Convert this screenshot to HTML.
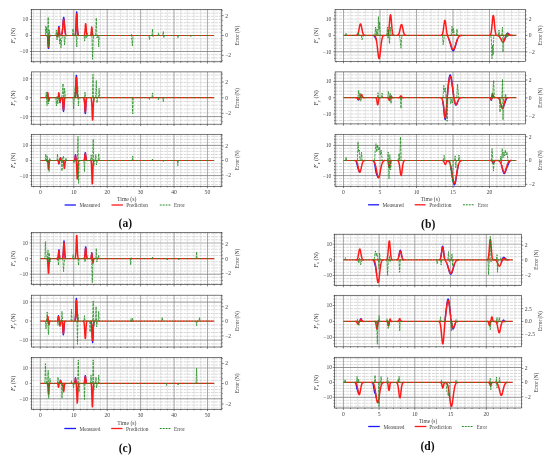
<!DOCTYPE html>
<html><head><meta charset="utf-8"><title>Force prediction figure</title>
<style>html,body{margin:0;padding:0;background:#fff;}svg{display:block;filter:blur(0.3px);}text{font-family:'Liberation Serif', serif;fill:#3f3f3f;}.sans{font-family:'Liberation Serif', serif;}</style></head><body>
<svg width="550" height="458" viewBox="0 0 550 458">
<rect width="550" height="458" fill="#fff"/>
<g>
<line x1="33.7" y1="9.4" x2="33.7" y2="61.8" stroke="#c4c4c4" stroke-width="0.5" stroke-dasharray="3,0.6"/>
<line x1="47.1" y1="9.4" x2="47.1" y2="61.8" stroke="#c4c4c4" stroke-width="0.5" stroke-dasharray="3,0.6"/>
<line x1="53.8" y1="9.4" x2="53.8" y2="61.8" stroke="#c4c4c4" stroke-width="0.5" stroke-dasharray="3,0.6"/>
<line x1="60.4" y1="9.4" x2="60.4" y2="61.8" stroke="#c4c4c4" stroke-width="0.5" stroke-dasharray="3,0.6"/>
<line x1="67.1" y1="9.4" x2="67.1" y2="61.8" stroke="#c4c4c4" stroke-width="0.5" stroke-dasharray="3,0.6"/>
<line x1="80.5" y1="9.4" x2="80.5" y2="61.8" stroke="#c4c4c4" stroke-width="0.5" stroke-dasharray="3,0.6"/>
<line x1="87.2" y1="9.4" x2="87.2" y2="61.8" stroke="#c4c4c4" stroke-width="0.5" stroke-dasharray="3,0.6"/>
<line x1="93.8" y1="9.4" x2="93.8" y2="61.8" stroke="#c4c4c4" stroke-width="0.5" stroke-dasharray="3,0.6"/>
<line x1="100.5" y1="9.4" x2="100.5" y2="61.8" stroke="#c4c4c4" stroke-width="0.5" stroke-dasharray="3,0.6"/>
<line x1="113.9" y1="9.4" x2="113.9" y2="61.8" stroke="#c4c4c4" stroke-width="0.5" stroke-dasharray="3,0.6"/>
<line x1="120.6" y1="9.4" x2="120.6" y2="61.8" stroke="#c4c4c4" stroke-width="0.5" stroke-dasharray="3,0.6"/>
<line x1="127.2" y1="9.4" x2="127.2" y2="61.8" stroke="#c4c4c4" stroke-width="0.5" stroke-dasharray="3,0.6"/>
<line x1="133.9" y1="9.4" x2="133.9" y2="61.8" stroke="#c4c4c4" stroke-width="0.5" stroke-dasharray="3,0.6"/>
<line x1="147.3" y1="9.4" x2="147.3" y2="61.8" stroke="#c4c4c4" stroke-width="0.5" stroke-dasharray="3,0.6"/>
<line x1="154" y1="9.4" x2="154" y2="61.8" stroke="#c4c4c4" stroke-width="0.5" stroke-dasharray="3,0.6"/>
<line x1="160.6" y1="9.4" x2="160.6" y2="61.8" stroke="#c4c4c4" stroke-width="0.5" stroke-dasharray="3,0.6"/>
<line x1="167.3" y1="9.4" x2="167.3" y2="61.8" stroke="#c4c4c4" stroke-width="0.5" stroke-dasharray="3,0.6"/>
<line x1="180.7" y1="9.4" x2="180.7" y2="61.8" stroke="#c4c4c4" stroke-width="0.5" stroke-dasharray="3,0.6"/>
<line x1="187.4" y1="9.4" x2="187.4" y2="61.8" stroke="#c4c4c4" stroke-width="0.5" stroke-dasharray="3,0.6"/>
<line x1="194" y1="9.4" x2="194" y2="61.8" stroke="#c4c4c4" stroke-width="0.5" stroke-dasharray="3,0.6"/>
<line x1="200.7" y1="9.4" x2="200.7" y2="61.8" stroke="#c4c4c4" stroke-width="0.5" stroke-dasharray="3,0.6"/>
<line x1="214.1" y1="9.4" x2="214.1" y2="61.8" stroke="#c4c4c4" stroke-width="0.5" stroke-dasharray="3,0.6"/>
<line x1="220.8" y1="9.4" x2="220.8" y2="61.8" stroke="#c4c4c4" stroke-width="0.5" stroke-dasharray="3,0.6"/>
<line x1="31.6" y1="61.1" x2="221.8" y2="61.1" stroke="#b4b4b4" stroke-width="0.5" stroke-dasharray="3,0.9"/>
<line x1="31.6" y1="57.9" x2="221.8" y2="57.9" stroke="#b4b4b4" stroke-width="0.5" stroke-dasharray="3,0.9"/>
<line x1="31.6" y1="54.7" x2="221.8" y2="54.7" stroke="#b4b4b4" stroke-width="0.5" stroke-dasharray="3,0.9"/>
<line x1="31.6" y1="48.3" x2="221.8" y2="48.3" stroke="#b4b4b4" stroke-width="0.5" stroke-dasharray="3,0.9"/>
<line x1="31.6" y1="45.1" x2="221.8" y2="45.1" stroke="#b4b4b4" stroke-width="0.5" stroke-dasharray="3,0.9"/>
<line x1="31.6" y1="41.9" x2="221.8" y2="41.9" stroke="#b4b4b4" stroke-width="0.5" stroke-dasharray="3,0.9"/>
<line x1="31.6" y1="38.7" x2="221.8" y2="38.7" stroke="#b4b4b4" stroke-width="0.5" stroke-dasharray="3,0.9"/>
<line x1="31.6" y1="32.3" x2="221.8" y2="32.3" stroke="#b4b4b4" stroke-width="0.5" stroke-dasharray="3,0.9"/>
<line x1="31.6" y1="29.1" x2="221.8" y2="29.1" stroke="#b4b4b4" stroke-width="0.5" stroke-dasharray="3,0.9"/>
<line x1="31.6" y1="25.9" x2="221.8" y2="25.9" stroke="#b4b4b4" stroke-width="0.5" stroke-dasharray="3,0.9"/>
<line x1="31.6" y1="22.7" x2="221.8" y2="22.7" stroke="#b4b4b4" stroke-width="0.5" stroke-dasharray="3,0.9"/>
<line x1="31.6" y1="16.3" x2="221.8" y2="16.3" stroke="#b4b4b4" stroke-width="0.5" stroke-dasharray="3,0.9"/>
<line x1="31.6" y1="13.1" x2="221.8" y2="13.1" stroke="#b4b4b4" stroke-width="0.5" stroke-dasharray="3,0.9"/>
<line x1="31.6" y1="9.9" x2="221.8" y2="9.9" stroke="#b4b4b4" stroke-width="0.5" stroke-dasharray="3,0.9"/>
<line x1="40.4" y1="9.4" x2="40.4" y2="61.8" stroke="#858585" stroke-width="0.7"/>
<line x1="73.8" y1="9.4" x2="73.8" y2="61.8" stroke="#858585" stroke-width="0.7"/>
<line x1="107.2" y1="9.4" x2="107.2" y2="61.8" stroke="#858585" stroke-width="0.7"/>
<line x1="140.6" y1="9.4" x2="140.6" y2="61.8" stroke="#858585" stroke-width="0.7"/>
<line x1="174" y1="9.4" x2="174" y2="61.8" stroke="#858585" stroke-width="0.7"/>
<line x1="207.4" y1="9.4" x2="207.4" y2="61.8" stroke="#858585" stroke-width="0.7"/>
<line x1="31.6" y1="51.5" x2="221.8" y2="51.5" stroke="#7a7a7a" stroke-width="0.8"/>
<line x1="31.6" y1="19.5" x2="221.8" y2="19.5" stroke="#b4b4b4" stroke-width="0.5" stroke-dasharray="3,0.9"/>
<polyline points="47.3,35.8 47.6,36.9 47.8,39.7 48.1,44.4 48.4,48.4 48.6,48.4 48.9,44.4 49.2,39.7 49.4,36.9 49.7,35.8" fill="none" stroke="#1a1aff" stroke-width="1.3" stroke-linejoin="round"/>
<polyline points="58,35.5 58.2,33.6 58.5,30.3 58.7,26.9 59,26.4 59.3,29.6 59.5,33 59.8,34.9" fill="none" stroke="#1a1aff" stroke-width="1.3" stroke-linejoin="round"/>
<polyline points="61.8,34.4 62.1,33.2 62.3,31.4 62.6,28.8 62.8,25.5 63.1,22 63.3,19.1 63.6,17.4 63.8,17.4 64.1,19.2 64.3,22.1 64.6,25.6 64.8,28.8 65.1,31.5 65.4,33.3 65.6,34.4" fill="none" stroke="#1a1aff" stroke-width="1.3" stroke-linejoin="round"/>
<polyline points="75.3,35.1 75.5,33.9 75.8,30.8 76.1,24.9 76.3,17.4 76.6,11.8 76.8,11.8 77.1,17.4 77.3,24.9 77.6,30.8 77.9,33.9 78.1,35.1" fill="none" stroke="#1a1aff" stroke-width="1.3" stroke-linejoin="round"/>
<line x1="40.4" y1="35.5" x2="214.1" y2="35.5" stroke="#ff1a1a" stroke-width="1.2"/>
<polyline points="46.5,35.5 46.8,35.5 47,35.5 47.3,35.8 47.6,36.7 47.8,39.3 48.1,43.5 48.4,47.1 48.6,47.1 48.9,43.5 49.2,39.3 49.4,36.7 49.7,35.8 50,35.5 50.2,35.5 50.5,35.5" fill="none" stroke="#ff1a1a" stroke-width="1.5" stroke-linejoin="round"/>
<polyline points="56.2,35.5 56.5,35.5 56.7,35.5 57,35.6 57.2,35.9 57.5,36.7 57.7,36.7 58,35.5 58.2,33.8 58.5,30.9 58.7,27.9 59,27.5 59.3,30.3 59.5,33.3 59.8,34.9 60,35.4 60.3,35.5 60.5,35.5 60.8,35.5 61,35.4 61.3,35.3 61.5,35 61.8,34.5 62.1,33.5 62.3,31.8 62.6,29.5 62.8,26.5 63.1,23.4 63.3,20.8 63.6,19.3 63.8,19.3 64.1,20.8 64.3,23.5 64.6,26.6 64.8,29.5 65.1,31.9 65.4,33.5 65.6,34.5 65.9,35.1 66.1,35.3 66.4,35.4 66.6,35.5 66.9,35.5" fill="none" stroke="#ff1a1a" stroke-width="1.5" stroke-linejoin="round"/>
<polyline points="74.5,35.5 74.8,35.5 75,35.4 75.3,35.1 75.5,34 75.8,31.2 76.1,25.9 76.3,19.1 76.6,14 76.8,14 77.1,19.1 77.3,25.9 77.6,31.2 77.9,34 78.1,35.1 78.4,35.4 78.6,35.5 78.9,35.5" fill="none" stroke="#ff1a1a" stroke-width="1.5" stroke-linejoin="round"/>
<polyline points="83.5,35.5 83.8,35.5 84,35.5 84.3,35.3 84.5,34.7 84.8,33.2 85.1,30.2 85.3,26.5 85.6,23.7 85.8,23.7 86.1,26.5 86.3,30.2 86.6,33.2 86.9,34.7 87.1,35.3 87.4,35.5 87.6,35.5 87.9,35.5" fill="none" stroke="#ff1a1a" stroke-width="1.5" stroke-linejoin="round"/>
<polyline points="90,35.5 90.3,35.5 90.5,35.5 90.8,35.3 91,34.5 91.3,32.2 91.5,28.8 91.8,27 92.1,28.8 92.3,32.2 92.6,34.5 92.8,35.3 93.1,35.5 93.3,35.5 93.6,35.5" fill="none" stroke="#ff1a1a" stroke-width="1.5" stroke-linejoin="round"/>
<line x1="40.4" y1="35.5" x2="214.1" y2="35.5" stroke="#238e23" stroke-width="0.9" stroke-dasharray="1.4,1.4"/>
<polyline points="45.4,35.5 45.8,26.3 46.3,33 46.8,27 47.3,35.5" fill="none" stroke="#238e23" stroke-width="0.8" stroke-linejoin="round" stroke-dasharray="2.8,0.9"/>
<polyline points="47.8,35.5 48.2,17.2 48.7,47 49.3,30 49.8,35.5" fill="none" stroke="#238e23" stroke-width="0.8" stroke-linejoin="round" stroke-dasharray="2.8,0.9"/>
<polyline points="55.8,35.5 56.4,30 57,40 57.6,33 58.2,35.5" fill="none" stroke="#238e23" stroke-width="0.8" stroke-linejoin="round" stroke-dasharray="2.8,0.9"/>
<polyline points="59.2,35.5 59.7,44 60.3,38 61,47.8 61.7,40 62.4,35.5" fill="none" stroke="#238e23" stroke-width="0.8" stroke-linejoin="round" stroke-dasharray="2.8,0.9"/>
<polyline points="64,35.5 64.6,45 65.3,36 66,35.5" fill="none" stroke="#238e23" stroke-width="0.8" stroke-linejoin="round" stroke-dasharray="2.8,0.9"/>
<polyline points="72.5,35.5 73,28.8 73.6,35.5" fill="none" stroke="#238e23" stroke-width="0.8" stroke-linejoin="round" stroke-dasharray="2.8,0.9"/>
<polyline points="76.2,35.5 76.8,47 77.4,31 78,35.5" fill="none" stroke="#238e23" stroke-width="0.8" stroke-linejoin="round" stroke-dasharray="2.8,0.9"/>
<polyline points="84.2,35.5 84.6,41 85.6,35 86.6,38 87.5,33 88.2,35.5" fill="none" stroke="#238e23" stroke-width="0.8" stroke-linejoin="round" stroke-dasharray="2.8,0.9"/>
<polyline points="91.2,35.5 91.8,30 92.6,59.4 93.2,40 93.8,35.5" fill="none" stroke="#238e23" stroke-width="0.8" stroke-linejoin="round" stroke-dasharray="2.8,0.9"/>
<polyline points="95.6,35.5 96.3,17.8 97,38 97.7,35.5" fill="none" stroke="#238e23" stroke-width="0.8" stroke-linejoin="round" stroke-dasharray="2.8,0.9"/>
<polyline points="98.2,35.5 98.7,47 99.3,35.5" fill="none" stroke="#238e23" stroke-width="0.8" stroke-linejoin="round" stroke-dasharray="2.8,0.9"/>
<polyline points="131.4,34 132.4,45.9 133,35.5" fill="none" stroke="#238e23" stroke-width="0.8" stroke-linejoin="round" stroke-dasharray="2.8,0.9"/>
<polyline points="149,35.5 149.5,39.6 150,35.5" fill="none" stroke="#238e23" stroke-width="0.8" stroke-linejoin="round" stroke-dasharray="2.8,0.9"/>
<polyline points="152,35.5 152.5,29 153,37 153.5,35.5" fill="none" stroke="#238e23" stroke-width="0.8" stroke-linejoin="round" stroke-dasharray="2.8,0.9"/>
<polyline points="158.1,35.5 158.5,32.8 159,35.5" fill="none" stroke="#238e23" stroke-width="0.8" stroke-linejoin="round" stroke-dasharray="2.8,0.9"/>
<polyline points="162.8,35.5 163.3,31.5 163.8,37.9 164.3,35.5" fill="none" stroke="#238e23" stroke-width="0.8" stroke-linejoin="round" stroke-dasharray="2.8,0.9"/>
<polyline points="177.5,35.5 178,38 178.5,35.5" fill="none" stroke="#238e23" stroke-width="0.8" stroke-linejoin="round" stroke-dasharray="2.8,0.9"/>
<polyline points="190.3,35.5 190.8,36.6 191.3,35.5" fill="none" stroke="#238e23" stroke-width="0.8" stroke-linejoin="round" stroke-dasharray="2.8,0.9"/>
<rect x="31.6" y="9.4" width="190.2" height="52.4" fill="none" stroke="#303030" stroke-width="0.65"/>
<line x1="33.7" y1="61.8" x2="33.7" y2="62.8" stroke="#303030" stroke-width="0.6"/>
<line x1="40.4" y1="61.8" x2="40.4" y2="63.6" stroke="#303030" stroke-width="0.6"/>
<line x1="47.1" y1="61.8" x2="47.1" y2="62.8" stroke="#303030" stroke-width="0.6"/>
<line x1="53.8" y1="61.8" x2="53.8" y2="62.8" stroke="#303030" stroke-width="0.6"/>
<line x1="60.4" y1="61.8" x2="60.4" y2="62.8" stroke="#303030" stroke-width="0.6"/>
<line x1="67.1" y1="61.8" x2="67.1" y2="62.8" stroke="#303030" stroke-width="0.6"/>
<line x1="73.8" y1="61.8" x2="73.8" y2="63.6" stroke="#303030" stroke-width="0.6"/>
<line x1="80.5" y1="61.8" x2="80.5" y2="62.8" stroke="#303030" stroke-width="0.6"/>
<line x1="87.2" y1="61.8" x2="87.2" y2="62.8" stroke="#303030" stroke-width="0.6"/>
<line x1="93.8" y1="61.8" x2="93.8" y2="62.8" stroke="#303030" stroke-width="0.6"/>
<line x1="100.5" y1="61.8" x2="100.5" y2="62.8" stroke="#303030" stroke-width="0.6"/>
<line x1="107.2" y1="61.8" x2="107.2" y2="63.6" stroke="#303030" stroke-width="0.6"/>
<line x1="113.9" y1="61.8" x2="113.9" y2="62.8" stroke="#303030" stroke-width="0.6"/>
<line x1="120.6" y1="61.8" x2="120.6" y2="62.8" stroke="#303030" stroke-width="0.6"/>
<line x1="127.2" y1="61.8" x2="127.2" y2="62.8" stroke="#303030" stroke-width="0.6"/>
<line x1="133.9" y1="61.8" x2="133.9" y2="62.8" stroke="#303030" stroke-width="0.6"/>
<line x1="140.6" y1="61.8" x2="140.6" y2="63.6" stroke="#303030" stroke-width="0.6"/>
<line x1="147.3" y1="61.8" x2="147.3" y2="62.8" stroke="#303030" stroke-width="0.6"/>
<line x1="154" y1="61.8" x2="154" y2="62.8" stroke="#303030" stroke-width="0.6"/>
<line x1="160.6" y1="61.8" x2="160.6" y2="62.8" stroke="#303030" stroke-width="0.6"/>
<line x1="167.3" y1="61.8" x2="167.3" y2="62.8" stroke="#303030" stroke-width="0.6"/>
<line x1="174" y1="61.8" x2="174" y2="63.6" stroke="#303030" stroke-width="0.6"/>
<line x1="180.7" y1="61.8" x2="180.7" y2="62.8" stroke="#303030" stroke-width="0.6"/>
<line x1="187.4" y1="61.8" x2="187.4" y2="62.8" stroke="#303030" stroke-width="0.6"/>
<line x1="194" y1="61.8" x2="194" y2="62.8" stroke="#303030" stroke-width="0.6"/>
<line x1="200.7" y1="61.8" x2="200.7" y2="62.8" stroke="#303030" stroke-width="0.6"/>
<line x1="207.4" y1="61.8" x2="207.4" y2="63.6" stroke="#303030" stroke-width="0.6"/>
<line x1="214.1" y1="61.8" x2="214.1" y2="62.8" stroke="#303030" stroke-width="0.6"/>
<line x1="220.8" y1="61.8" x2="220.8" y2="62.8" stroke="#303030" stroke-width="0.6"/>
<line x1="31.6" y1="61.1" x2="30.6" y2="61.1" stroke="#303030" stroke-width="0.6"/>
<line x1="31.6" y1="57.9" x2="30.6" y2="57.9" stroke="#303030" stroke-width="0.6"/>
<line x1="31.6" y1="54.7" x2="30.6" y2="54.7" stroke="#303030" stroke-width="0.6"/>
<line x1="31.6" y1="51.5" x2="29.8" y2="51.5" stroke="#303030" stroke-width="0.6"/>
<line x1="31.6" y1="48.3" x2="30.6" y2="48.3" stroke="#303030" stroke-width="0.6"/>
<line x1="31.6" y1="45.1" x2="30.6" y2="45.1" stroke="#303030" stroke-width="0.6"/>
<line x1="31.6" y1="41.9" x2="30.6" y2="41.9" stroke="#303030" stroke-width="0.6"/>
<line x1="31.6" y1="38.7" x2="30.6" y2="38.7" stroke="#303030" stroke-width="0.6"/>
<line x1="31.6" y1="35.5" x2="29.8" y2="35.5" stroke="#303030" stroke-width="0.6"/>
<line x1="31.6" y1="32.3" x2="30.6" y2="32.3" stroke="#303030" stroke-width="0.6"/>
<line x1="31.6" y1="29.1" x2="30.6" y2="29.1" stroke="#303030" stroke-width="0.6"/>
<line x1="31.6" y1="25.9" x2="30.6" y2="25.9" stroke="#303030" stroke-width="0.6"/>
<line x1="31.6" y1="22.7" x2="30.6" y2="22.7" stroke="#303030" stroke-width="0.6"/>
<line x1="31.6" y1="19.5" x2="29.8" y2="19.5" stroke="#303030" stroke-width="0.6"/>
<line x1="31.6" y1="16.3" x2="30.6" y2="16.3" stroke="#303030" stroke-width="0.6"/>
<line x1="31.6" y1="13.1" x2="30.6" y2="13.1" stroke="#303030" stroke-width="0.6"/>
<line x1="31.6" y1="9.9" x2="30.6" y2="9.9" stroke="#303030" stroke-width="0.6"/>
<line x1="221.8" y1="15.6" x2="223.6" y2="15.6" stroke="#303030" stroke-width="0.6"/>
<line x1="221.8" y1="35.5" x2="223.6" y2="35.5" stroke="#303030" stroke-width="0.6"/>
<line x1="221.8" y1="55.4" x2="223.6" y2="55.4" stroke="#303030" stroke-width="0.6"/>
<line x1="221.8" y1="10.6" x2="222.8" y2="10.6" stroke="#303030" stroke-width="0.5"/>
<line x1="221.8" y1="20.6" x2="222.8" y2="20.6" stroke="#303030" stroke-width="0.5"/>
<line x1="221.8" y1="25.6" x2="222.8" y2="25.6" stroke="#303030" stroke-width="0.5"/>
<line x1="221.8" y1="30.5" x2="222.8" y2="30.5" stroke="#303030" stroke-width="0.5"/>
<line x1="221.8" y1="40.5" x2="222.8" y2="40.5" stroke="#303030" stroke-width="0.5"/>
<line x1="221.8" y1="45.5" x2="222.8" y2="45.5" stroke="#303030" stroke-width="0.5"/>
<line x1="221.8" y1="50.4" x2="222.8" y2="50.4" stroke="#303030" stroke-width="0.5"/>
<line x1="221.8" y1="60.4" x2="222.8" y2="60.4" stroke="#303030" stroke-width="0.5"/>
<text x="28.2" y="21.4" font-size="5.6" text-anchor="end">10</text>
<text x="28.2" y="37.4" font-size="5.6" text-anchor="end">0</text>
<text x="28.2" y="53.4" font-size="5.6" text-anchor="end">−10</text>
<text x="225.2" y="17.5" font-size="5.6" text-anchor="start">2</text>
<text x="225.2" y="37.4" font-size="5.6" text-anchor="start">0</text>
<text x="225.2" y="57.3" font-size="5.6" text-anchor="start">−2</text>
<text transform="translate(14.8,35.6) rotate(-90)" font-size="6" text-anchor="middle" style="fill:#222"><tspan font-style="italic">F</tspan><tspan font-size="4.2" font-style="italic" dy="1.3">x</tspan><tspan dy="-1.3"> (N)</tspan></text>
<text class="sans" transform="translate(238.8,35.6) rotate(-90)" font-size="5.8" text-anchor="middle" textLength="19.8" lengthAdjust="spacingAndGlyphs">Error (N)</text>
</g>
<g>
<line x1="33.7" y1="71.9" x2="33.7" y2="124.2" stroke="#c4c4c4" stroke-width="0.5" stroke-dasharray="3,0.6"/>
<line x1="47.1" y1="71.9" x2="47.1" y2="124.2" stroke="#c4c4c4" stroke-width="0.5" stroke-dasharray="3,0.6"/>
<line x1="53.8" y1="71.9" x2="53.8" y2="124.2" stroke="#c4c4c4" stroke-width="0.5" stroke-dasharray="3,0.6"/>
<line x1="60.4" y1="71.9" x2="60.4" y2="124.2" stroke="#c4c4c4" stroke-width="0.5" stroke-dasharray="3,0.6"/>
<line x1="67.1" y1="71.9" x2="67.1" y2="124.2" stroke="#c4c4c4" stroke-width="0.5" stroke-dasharray="3,0.6"/>
<line x1="80.5" y1="71.9" x2="80.5" y2="124.2" stroke="#c4c4c4" stroke-width="0.5" stroke-dasharray="3,0.6"/>
<line x1="87.2" y1="71.9" x2="87.2" y2="124.2" stroke="#c4c4c4" stroke-width="0.5" stroke-dasharray="3,0.6"/>
<line x1="93.8" y1="71.9" x2="93.8" y2="124.2" stroke="#c4c4c4" stroke-width="0.5" stroke-dasharray="3,0.6"/>
<line x1="100.5" y1="71.9" x2="100.5" y2="124.2" stroke="#c4c4c4" stroke-width="0.5" stroke-dasharray="3,0.6"/>
<line x1="113.9" y1="71.9" x2="113.9" y2="124.2" stroke="#c4c4c4" stroke-width="0.5" stroke-dasharray="3,0.6"/>
<line x1="120.6" y1="71.9" x2="120.6" y2="124.2" stroke="#c4c4c4" stroke-width="0.5" stroke-dasharray="3,0.6"/>
<line x1="127.2" y1="71.9" x2="127.2" y2="124.2" stroke="#c4c4c4" stroke-width="0.5" stroke-dasharray="3,0.6"/>
<line x1="133.9" y1="71.9" x2="133.9" y2="124.2" stroke="#c4c4c4" stroke-width="0.5" stroke-dasharray="3,0.6"/>
<line x1="147.3" y1="71.9" x2="147.3" y2="124.2" stroke="#c4c4c4" stroke-width="0.5" stroke-dasharray="3,0.6"/>
<line x1="154" y1="71.9" x2="154" y2="124.2" stroke="#c4c4c4" stroke-width="0.5" stroke-dasharray="3,0.6"/>
<line x1="160.6" y1="71.9" x2="160.6" y2="124.2" stroke="#c4c4c4" stroke-width="0.5" stroke-dasharray="3,0.6"/>
<line x1="167.3" y1="71.9" x2="167.3" y2="124.2" stroke="#c4c4c4" stroke-width="0.5" stroke-dasharray="3,0.6"/>
<line x1="180.7" y1="71.9" x2="180.7" y2="124.2" stroke="#c4c4c4" stroke-width="0.5" stroke-dasharray="3,0.6"/>
<line x1="187.4" y1="71.9" x2="187.4" y2="124.2" stroke="#c4c4c4" stroke-width="0.5" stroke-dasharray="3,0.6"/>
<line x1="194" y1="71.9" x2="194" y2="124.2" stroke="#c4c4c4" stroke-width="0.5" stroke-dasharray="3,0.6"/>
<line x1="200.7" y1="71.9" x2="200.7" y2="124.2" stroke="#c4c4c4" stroke-width="0.5" stroke-dasharray="3,0.6"/>
<line x1="214.1" y1="71.9" x2="214.1" y2="124.2" stroke="#c4c4c4" stroke-width="0.5" stroke-dasharray="3,0.6"/>
<line x1="220.8" y1="71.9" x2="220.8" y2="124.2" stroke="#c4c4c4" stroke-width="0.5" stroke-dasharray="3,0.6"/>
<line x1="31.6" y1="120.3" x2="221.8" y2="120.3" stroke="#b4b4b4" stroke-width="0.5" stroke-dasharray="3,0.9"/>
<line x1="31.6" y1="112.8" x2="221.8" y2="112.8" stroke="#b4b4b4" stroke-width="0.5" stroke-dasharray="3,0.9"/>
<line x1="31.6" y1="109" x2="221.8" y2="109" stroke="#b4b4b4" stroke-width="0.5" stroke-dasharray="3,0.9"/>
<line x1="31.6" y1="105.2" x2="221.8" y2="105.2" stroke="#b4b4b4" stroke-width="0.5" stroke-dasharray="3,0.9"/>
<line x1="31.6" y1="101.5" x2="221.8" y2="101.5" stroke="#b4b4b4" stroke-width="0.5" stroke-dasharray="3,0.9"/>
<line x1="31.6" y1="93.9" x2="221.8" y2="93.9" stroke="#b4b4b4" stroke-width="0.5" stroke-dasharray="3,0.9"/>
<line x1="31.6" y1="90.2" x2="221.8" y2="90.2" stroke="#b4b4b4" stroke-width="0.5" stroke-dasharray="3,0.9"/>
<line x1="31.6" y1="86.4" x2="221.8" y2="86.4" stroke="#b4b4b4" stroke-width="0.5" stroke-dasharray="3,0.9"/>
<line x1="31.6" y1="82.6" x2="221.8" y2="82.6" stroke="#b4b4b4" stroke-width="0.5" stroke-dasharray="3,0.9"/>
<line x1="31.6" y1="75.1" x2="221.8" y2="75.1" stroke="#b4b4b4" stroke-width="0.5" stroke-dasharray="3,0.9"/>
<line x1="40.4" y1="71.9" x2="40.4" y2="124.2" stroke="#858585" stroke-width="0.7"/>
<line x1="73.8" y1="71.9" x2="73.8" y2="124.2" stroke="#858585" stroke-width="0.7"/>
<line x1="107.2" y1="71.9" x2="107.2" y2="124.2" stroke="#858585" stroke-width="0.7"/>
<line x1="140.6" y1="71.9" x2="140.6" y2="124.2" stroke="#858585" stroke-width="0.7"/>
<line x1="174" y1="71.9" x2="174" y2="124.2" stroke="#858585" stroke-width="0.7"/>
<line x1="207.4" y1="71.9" x2="207.4" y2="124.2" stroke="#858585" stroke-width="0.7"/>
<line x1="31.6" y1="116.6" x2="221.8" y2="116.6" stroke="#7a7a7a" stroke-width="0.8"/>
<line x1="31.6" y1="78.8" x2="221.8" y2="78.8" stroke="#b4b4b4" stroke-width="0.5" stroke-dasharray="3,0.9"/>
<polyline points="59.3,96.4 59.6,99.5 59.8,102.3 60.1,102.7 60.4,100.5 60.6,98.5 60.9,97.8" fill="none" stroke="#1a1aff" stroke-width="1.3" stroke-linejoin="round"/>
<polyline points="62.4,98.8 62.6,100.8 62.9,104.3 63.1,108.5 63.4,111.3 63.7,110.9 63.9,107.6 64.2,103.4 64.4,100.2 64.7,98.6" fill="none" stroke="#1a1aff" stroke-width="1.3" stroke-linejoin="round"/>
<polyline points="75,97.3 75.2,96.2 75.5,93.3 75.8,87.7 76,80.6 76.3,75.4 76.5,75.4 76.8,80.6 77,87.7 77.3,93.3 77.6,96.2 77.8,97.3" fill="none" stroke="#1a1aff" stroke-width="1.3" stroke-linejoin="round"/>
<polyline points="84.1,98.8 84.4,100.8 84.7,104.7 84.9,109.7 85.2,113.5 85.4,113.5 85.7,109.7 85.9,104.7 86.2,100.8 86.5,98.8" fill="none" stroke="#1a1aff" stroke-width="1.3" stroke-linejoin="round"/>
<line x1="40.4" y1="97.7" x2="214.1" y2="97.7" stroke="#ff1a1a" stroke-width="1.2"/>
<polyline points="46.2,97.7 46.5,97.7 46.7,97.7 47,97.5 47.3,96.6 47.5,94.4 47.8,92.6 48,94.1 48.3,97.2 48.6,99.9 48.8,101 49.1,99.9 49.3,98.4 49.6,97.8 49.9,97.7 50.1,97.7 50.4,97.7" fill="none" stroke="#ff1a1a" stroke-width="1.5" stroke-linejoin="round"/>
<polyline points="57.3,97.7 57.6,97.7 57.8,97.7 58.1,97.6 58.3,96.8 58.6,94.7 58.8,92.7 59.1,93.5 59.3,96.3 59.6,99.2 59.8,101.6 60.1,102 60.4,100 60.6,98.4 60.9,97.8 61.1,97.7 61.4,97.7 61.6,97.7 61.9,97.8 62.1,98 62.4,98.7 62.6,100.5 62.9,103.6 63.1,107.3 63.4,109.8 63.7,109.5 63.9,106.5 64.2,102.8 64.4,99.9 64.7,98.5 64.9,97.9 65.2,97.7 65.4,97.7 65.7,97.7" fill="none" stroke="#ff1a1a" stroke-width="1.5" stroke-linejoin="round"/>
<polyline points="74.2,97.7 74.5,97.7 74.7,97.6 75,97.3 75.2,96.3 75.5,93.7 75.8,88.7 76,82.2 76.3,77.4 76.5,77.4 76.8,82.2 77,88.7 77.3,93.7 77.6,96.3 77.8,97.3 78.1,97.6 78.3,97.7 78.6,97.7" fill="none" stroke="#ff1a1a" stroke-width="1.5" stroke-linejoin="round"/>
<polyline points="83.1,97.7 83.4,97.7 83.6,97.7 83.9,97.9 84.1,98.7 84.4,100.5 84.7,104 84.9,108.5 85.2,111.9 85.4,111.9 85.7,108.5 85.9,104 86.2,100.5 86.5,98.7 86.7,97.9 87,97.7 87.2,97.7 87.5,97.7" fill="none" stroke="#ff1a1a" stroke-width="1.5" stroke-linejoin="round"/>
<polyline points="90.4,97.7 90.7,97.7 90.9,97.8 91.2,98.1 91.4,99.2 91.7,102.1 92,107.7 92.2,114.8 92.5,120 92.7,120 93,114.8 93.2,107.7 93.5,102.1 93.8,99.2 94,98.1 94.3,97.8 94.5,97.7 94.8,97.7" fill="none" stroke="#ff1a1a" stroke-width="1.5" stroke-linejoin="round"/>
<line x1="40.4" y1="97.7" x2="214.1" y2="97.7" stroke="#238e23" stroke-width="0.9" stroke-dasharray="1.4,1.4"/>
<polyline points="45.8,97.7 46.3,92 47,105.5 47.6,95 48.3,104 49,97.7" fill="none" stroke="#238e23" stroke-width="0.8" stroke-linejoin="round" stroke-dasharray="2.8,0.9"/>
<polyline points="55.8,97.7 56.4,106 57.1,96 57.8,104 58.4,97.7" fill="none" stroke="#238e23" stroke-width="0.8" stroke-linejoin="round" stroke-dasharray="2.8,0.9"/>
<polyline points="61.6,97.7 62.3,94 63,83.5 63.8,100 64.6,88.3 65.4,97.7" fill="none" stroke="#238e23" stroke-width="0.8" stroke-linejoin="round" stroke-dasharray="2.8,0.9"/>
<polyline points="73,97.7 73.6,109 74.4,96 75.2,86.5 76,97.7" fill="none" stroke="#238e23" stroke-width="0.8" stroke-linejoin="round" stroke-dasharray="2.8,0.9"/>
<polyline points="77.2,97.7 77.8,86.5 78.4,106 79,97.7" fill="none" stroke="#238e23" stroke-width="0.8" stroke-linejoin="round" stroke-dasharray="2.8,0.9"/>
<polyline points="84.6,97.7 85,92 85.6,97.7" fill="none" stroke="#238e23" stroke-width="0.8" stroke-linejoin="round" stroke-dasharray="2.8,0.9"/>
<polyline points="92.4,97.7 93,74.3 93.6,102 94.2,97.7" fill="none" stroke="#238e23" stroke-width="0.8" stroke-linejoin="round" stroke-dasharray="2.8,0.9"/>
<polyline points="95.6,97.7 96.3,80.4 97,103 97.6,97.7" fill="none" stroke="#238e23" stroke-width="0.8" stroke-linejoin="round" stroke-dasharray="2.8,0.9"/>
<polyline points="98.6,97.7 99.1,88.3 99.7,97.7" fill="none" stroke="#238e23" stroke-width="0.8" stroke-linejoin="round" stroke-dasharray="2.8,0.9"/>
<polyline points="132.2,97.7 132.7,113.9 133.2,97.7" fill="none" stroke="#238e23" stroke-width="0.8" stroke-linejoin="round" stroke-dasharray="2.8,0.9"/>
<polyline points="149,97.7 149.5,99.5 150,97.7" fill="none" stroke="#238e23" stroke-width="0.8" stroke-linejoin="round" stroke-dasharray="2.8,0.9"/>
<polyline points="152,97.7 152.5,92.9 153,97.7" fill="none" stroke="#238e23" stroke-width="0.8" stroke-linejoin="round" stroke-dasharray="2.8,0.9"/>
<polyline points="158,97.7 158.5,100 159,97.7" fill="none" stroke="#238e23" stroke-width="0.8" stroke-linejoin="round" stroke-dasharray="2.8,0.9"/>
<polyline points="162.8,97.7 163.3,101.8 163.8,97.7" fill="none" stroke="#238e23" stroke-width="0.8" stroke-linejoin="round" stroke-dasharray="2.8,0.9"/>
<rect x="31.6" y="71.9" width="190.2" height="52.3" fill="none" stroke="#303030" stroke-width="0.65"/>
<line x1="33.7" y1="124.2" x2="33.7" y2="125.2" stroke="#303030" stroke-width="0.6"/>
<line x1="40.4" y1="124.2" x2="40.4" y2="126" stroke="#303030" stroke-width="0.6"/>
<line x1="47.1" y1="124.2" x2="47.1" y2="125.2" stroke="#303030" stroke-width="0.6"/>
<line x1="53.8" y1="124.2" x2="53.8" y2="125.2" stroke="#303030" stroke-width="0.6"/>
<line x1="60.4" y1="124.2" x2="60.4" y2="125.2" stroke="#303030" stroke-width="0.6"/>
<line x1="67.1" y1="124.2" x2="67.1" y2="125.2" stroke="#303030" stroke-width="0.6"/>
<line x1="73.8" y1="124.2" x2="73.8" y2="126" stroke="#303030" stroke-width="0.6"/>
<line x1="80.5" y1="124.2" x2="80.5" y2="125.2" stroke="#303030" stroke-width="0.6"/>
<line x1="87.2" y1="124.2" x2="87.2" y2="125.2" stroke="#303030" stroke-width="0.6"/>
<line x1="93.8" y1="124.2" x2="93.8" y2="125.2" stroke="#303030" stroke-width="0.6"/>
<line x1="100.5" y1="124.2" x2="100.5" y2="125.2" stroke="#303030" stroke-width="0.6"/>
<line x1="107.2" y1="124.2" x2="107.2" y2="126" stroke="#303030" stroke-width="0.6"/>
<line x1="113.9" y1="124.2" x2="113.9" y2="125.2" stroke="#303030" stroke-width="0.6"/>
<line x1="120.6" y1="124.2" x2="120.6" y2="125.2" stroke="#303030" stroke-width="0.6"/>
<line x1="127.2" y1="124.2" x2="127.2" y2="125.2" stroke="#303030" stroke-width="0.6"/>
<line x1="133.9" y1="124.2" x2="133.9" y2="125.2" stroke="#303030" stroke-width="0.6"/>
<line x1="140.6" y1="124.2" x2="140.6" y2="126" stroke="#303030" stroke-width="0.6"/>
<line x1="147.3" y1="124.2" x2="147.3" y2="125.2" stroke="#303030" stroke-width="0.6"/>
<line x1="154" y1="124.2" x2="154" y2="125.2" stroke="#303030" stroke-width="0.6"/>
<line x1="160.6" y1="124.2" x2="160.6" y2="125.2" stroke="#303030" stroke-width="0.6"/>
<line x1="167.3" y1="124.2" x2="167.3" y2="125.2" stroke="#303030" stroke-width="0.6"/>
<line x1="174" y1="124.2" x2="174" y2="126" stroke="#303030" stroke-width="0.6"/>
<line x1="180.7" y1="124.2" x2="180.7" y2="125.2" stroke="#303030" stroke-width="0.6"/>
<line x1="187.4" y1="124.2" x2="187.4" y2="125.2" stroke="#303030" stroke-width="0.6"/>
<line x1="194" y1="124.2" x2="194" y2="125.2" stroke="#303030" stroke-width="0.6"/>
<line x1="200.7" y1="124.2" x2="200.7" y2="125.2" stroke="#303030" stroke-width="0.6"/>
<line x1="207.4" y1="124.2" x2="207.4" y2="126" stroke="#303030" stroke-width="0.6"/>
<line x1="214.1" y1="124.2" x2="214.1" y2="125.2" stroke="#303030" stroke-width="0.6"/>
<line x1="220.8" y1="124.2" x2="220.8" y2="125.2" stroke="#303030" stroke-width="0.6"/>
<line x1="31.6" y1="124.1" x2="30.6" y2="124.1" stroke="#303030" stroke-width="0.6"/>
<line x1="31.6" y1="120.3" x2="30.6" y2="120.3" stroke="#303030" stroke-width="0.6"/>
<line x1="31.6" y1="116.6" x2="29.8" y2="116.6" stroke="#303030" stroke-width="0.6"/>
<line x1="31.6" y1="112.8" x2="30.6" y2="112.8" stroke="#303030" stroke-width="0.6"/>
<line x1="31.6" y1="109" x2="30.6" y2="109" stroke="#303030" stroke-width="0.6"/>
<line x1="31.6" y1="105.2" x2="30.6" y2="105.2" stroke="#303030" stroke-width="0.6"/>
<line x1="31.6" y1="101.5" x2="30.6" y2="101.5" stroke="#303030" stroke-width="0.6"/>
<line x1="31.6" y1="97.7" x2="29.8" y2="97.7" stroke="#303030" stroke-width="0.6"/>
<line x1="31.6" y1="93.9" x2="30.6" y2="93.9" stroke="#303030" stroke-width="0.6"/>
<line x1="31.6" y1="90.2" x2="30.6" y2="90.2" stroke="#303030" stroke-width="0.6"/>
<line x1="31.6" y1="86.4" x2="30.6" y2="86.4" stroke="#303030" stroke-width="0.6"/>
<line x1="31.6" y1="82.6" x2="30.6" y2="82.6" stroke="#303030" stroke-width="0.6"/>
<line x1="31.6" y1="78.8" x2="29.8" y2="78.8" stroke="#303030" stroke-width="0.6"/>
<line x1="31.6" y1="75.1" x2="30.6" y2="75.1" stroke="#303030" stroke-width="0.6"/>
<line x1="221.8" y1="82" x2="223.6" y2="82" stroke="#303030" stroke-width="0.6"/>
<line x1="221.8" y1="97.8" x2="223.6" y2="97.8" stroke="#303030" stroke-width="0.6"/>
<line x1="221.8" y1="113.4" x2="223.6" y2="113.4" stroke="#303030" stroke-width="0.6"/>
<line x1="221.8" y1="74.1" x2="222.8" y2="74.1" stroke="#303030" stroke-width="0.5"/>
<line x1="221.8" y1="78" x2="222.8" y2="78" stroke="#303030" stroke-width="0.5"/>
<line x1="221.8" y1="86" x2="222.8" y2="86" stroke="#303030" stroke-width="0.5"/>
<line x1="221.8" y1="89.9" x2="222.8" y2="89.9" stroke="#303030" stroke-width="0.5"/>
<line x1="221.8" y1="93.8" x2="222.8" y2="93.8" stroke="#303030" stroke-width="0.5"/>
<line x1="221.8" y1="101.8" x2="222.8" y2="101.8" stroke="#303030" stroke-width="0.5"/>
<line x1="221.8" y1="105.7" x2="222.8" y2="105.7" stroke="#303030" stroke-width="0.5"/>
<line x1="221.8" y1="109.6" x2="222.8" y2="109.6" stroke="#303030" stroke-width="0.5"/>
<line x1="221.8" y1="117.5" x2="222.8" y2="117.5" stroke="#303030" stroke-width="0.5"/>
<line x1="221.8" y1="121.5" x2="222.8" y2="121.5" stroke="#303030" stroke-width="0.5"/>
<text x="28.2" y="80.8" font-size="5.6" text-anchor="end">10</text>
<text x="28.2" y="99.6" font-size="5.6" text-anchor="end">0</text>
<text x="28.2" y="118.5" font-size="5.6" text-anchor="end">−10</text>
<text x="225.2" y="83.9" font-size="5.6" text-anchor="start">2</text>
<text x="225.2" y="99.7" font-size="5.6" text-anchor="start">0</text>
<text x="225.2" y="115.3" font-size="5.6" text-anchor="start">−2</text>
<text transform="translate(14.8,98.1) rotate(-90)" font-size="6" text-anchor="middle" style="fill:#222"><tspan font-style="italic">F</tspan><tspan font-size="4.2" font-style="italic" dy="1.3">y</tspan><tspan dy="-1.3"> (N)</tspan></text>
<text class="sans" transform="translate(238.8,98.1) rotate(-90)" font-size="5.8" text-anchor="middle" textLength="19.8" lengthAdjust="spacingAndGlyphs">Error (N)</text>
</g>
<g>
<line x1="33.7" y1="134.3" x2="33.7" y2="186.4" stroke="#c4c4c4" stroke-width="0.5" stroke-dasharray="3,0.6"/>
<line x1="47.1" y1="134.3" x2="47.1" y2="186.4" stroke="#c4c4c4" stroke-width="0.5" stroke-dasharray="3,0.6"/>
<line x1="53.8" y1="134.3" x2="53.8" y2="186.4" stroke="#c4c4c4" stroke-width="0.5" stroke-dasharray="3,0.6"/>
<line x1="60.4" y1="134.3" x2="60.4" y2="186.4" stroke="#c4c4c4" stroke-width="0.5" stroke-dasharray="3,0.6"/>
<line x1="67.1" y1="134.3" x2="67.1" y2="186.4" stroke="#c4c4c4" stroke-width="0.5" stroke-dasharray="3,0.6"/>
<line x1="80.5" y1="134.3" x2="80.5" y2="186.4" stroke="#c4c4c4" stroke-width="0.5" stroke-dasharray="3,0.6"/>
<line x1="87.2" y1="134.3" x2="87.2" y2="186.4" stroke="#c4c4c4" stroke-width="0.5" stroke-dasharray="3,0.6"/>
<line x1="93.8" y1="134.3" x2="93.8" y2="186.4" stroke="#c4c4c4" stroke-width="0.5" stroke-dasharray="3,0.6"/>
<line x1="100.5" y1="134.3" x2="100.5" y2="186.4" stroke="#c4c4c4" stroke-width="0.5" stroke-dasharray="3,0.6"/>
<line x1="113.9" y1="134.3" x2="113.9" y2="186.4" stroke="#c4c4c4" stroke-width="0.5" stroke-dasharray="3,0.6"/>
<line x1="120.6" y1="134.3" x2="120.6" y2="186.4" stroke="#c4c4c4" stroke-width="0.5" stroke-dasharray="3,0.6"/>
<line x1="127.2" y1="134.3" x2="127.2" y2="186.4" stroke="#c4c4c4" stroke-width="0.5" stroke-dasharray="3,0.6"/>
<line x1="133.9" y1="134.3" x2="133.9" y2="186.4" stroke="#c4c4c4" stroke-width="0.5" stroke-dasharray="3,0.6"/>
<line x1="147.3" y1="134.3" x2="147.3" y2="186.4" stroke="#c4c4c4" stroke-width="0.5" stroke-dasharray="3,0.6"/>
<line x1="154" y1="134.3" x2="154" y2="186.4" stroke="#c4c4c4" stroke-width="0.5" stroke-dasharray="3,0.6"/>
<line x1="160.6" y1="134.3" x2="160.6" y2="186.4" stroke="#c4c4c4" stroke-width="0.5" stroke-dasharray="3,0.6"/>
<line x1="167.3" y1="134.3" x2="167.3" y2="186.4" stroke="#c4c4c4" stroke-width="0.5" stroke-dasharray="3,0.6"/>
<line x1="180.7" y1="134.3" x2="180.7" y2="186.4" stroke="#c4c4c4" stroke-width="0.5" stroke-dasharray="3,0.6"/>
<line x1="187.4" y1="134.3" x2="187.4" y2="186.4" stroke="#c4c4c4" stroke-width="0.5" stroke-dasharray="3,0.6"/>
<line x1="194" y1="134.3" x2="194" y2="186.4" stroke="#c4c4c4" stroke-width="0.5" stroke-dasharray="3,0.6"/>
<line x1="200.7" y1="134.3" x2="200.7" y2="186.4" stroke="#c4c4c4" stroke-width="0.5" stroke-dasharray="3,0.6"/>
<line x1="214.1" y1="134.3" x2="214.1" y2="186.4" stroke="#c4c4c4" stroke-width="0.5" stroke-dasharray="3,0.6"/>
<line x1="220.8" y1="134.3" x2="220.8" y2="186.4" stroke="#c4c4c4" stroke-width="0.5" stroke-dasharray="3,0.6"/>
<line x1="31.6" y1="184.7" x2="221.8" y2="184.7" stroke="#b4b4b4" stroke-width="0.5" stroke-dasharray="3,0.9"/>
<line x1="31.6" y1="181.6" x2="221.8" y2="181.6" stroke="#b4b4b4" stroke-width="0.5" stroke-dasharray="3,0.9"/>
<line x1="31.6" y1="178.6" x2="221.8" y2="178.6" stroke="#b4b4b4" stroke-width="0.5" stroke-dasharray="3,0.9"/>
<line x1="31.6" y1="172.6" x2="221.8" y2="172.6" stroke="#b4b4b4" stroke-width="0.5" stroke-dasharray="3,0.9"/>
<line x1="31.6" y1="169.6" x2="221.8" y2="169.6" stroke="#b4b4b4" stroke-width="0.5" stroke-dasharray="3,0.9"/>
<line x1="31.6" y1="166.5" x2="221.8" y2="166.5" stroke="#b4b4b4" stroke-width="0.5" stroke-dasharray="3,0.9"/>
<line x1="31.6" y1="163.5" x2="221.8" y2="163.5" stroke="#b4b4b4" stroke-width="0.5" stroke-dasharray="3,0.9"/>
<line x1="31.6" y1="157.5" x2="221.8" y2="157.5" stroke="#b4b4b4" stroke-width="0.5" stroke-dasharray="3,0.9"/>
<line x1="31.6" y1="154.5" x2="221.8" y2="154.5" stroke="#b4b4b4" stroke-width="0.5" stroke-dasharray="3,0.9"/>
<line x1="31.6" y1="151.4" x2="221.8" y2="151.4" stroke="#b4b4b4" stroke-width="0.5" stroke-dasharray="3,0.9"/>
<line x1="31.6" y1="148.4" x2="221.8" y2="148.4" stroke="#b4b4b4" stroke-width="0.5" stroke-dasharray="3,0.9"/>
<line x1="31.6" y1="142.4" x2="221.8" y2="142.4" stroke="#b4b4b4" stroke-width="0.5" stroke-dasharray="3,0.9"/>
<line x1="31.6" y1="139.4" x2="221.8" y2="139.4" stroke="#b4b4b4" stroke-width="0.5" stroke-dasharray="3,0.9"/>
<line x1="31.6" y1="136.3" x2="221.8" y2="136.3" stroke="#b4b4b4" stroke-width="0.5" stroke-dasharray="3,0.9"/>
<line x1="40.4" y1="134.3" x2="40.4" y2="186.4" stroke="#858585" stroke-width="0.7"/>
<line x1="73.8" y1="134.3" x2="73.8" y2="186.4" stroke="#858585" stroke-width="0.7"/>
<line x1="107.2" y1="134.3" x2="107.2" y2="186.4" stroke="#858585" stroke-width="0.7"/>
<line x1="140.6" y1="134.3" x2="140.6" y2="186.4" stroke="#858585" stroke-width="0.7"/>
<line x1="174" y1="134.3" x2="174" y2="186.4" stroke="#858585" stroke-width="0.7"/>
<line x1="207.4" y1="134.3" x2="207.4" y2="186.4" stroke="#858585" stroke-width="0.7"/>
<line x1="31.6" y1="175.6" x2="221.8" y2="175.6" stroke="#7a7a7a" stroke-width="0.8"/>
<line x1="31.6" y1="145.4" x2="221.8" y2="145.4" stroke="#7a7a7a" stroke-width="0.8"/>
<polyline points="58.3,161.1 58.6,162.5 58.8,163.9 59.1,163.5 59.3,161.9 59.6,160.8" fill="none" stroke="#1a1aff" stroke-width="1.3" stroke-linejoin="round"/>
<polyline points="59.8,160.3 60.1,159.3 60.3,157.9 60.6,157.6 60.8,158.8 61.1,160" fill="none" stroke="#1a1aff" stroke-width="1.3" stroke-linejoin="round"/>
<polyline points="74.7,160.3 74.9,159.4 75.2,156.9 75.4,154.7 75.7,155.7 76,158.7 76.2,160.9" fill="none" stroke="#1a1aff" stroke-width="1.3" stroke-linejoin="round"/>
<polyline points="84.4,159.7 84.6,157.9 84.9,155 85.2,152.6 85.4,152.6 85.7,155 86,157.9 86.2,159.7" fill="none" stroke="#1a1aff" stroke-width="1.3" stroke-linejoin="round"/>
<line x1="40.4" y1="160.5" x2="214.1" y2="160.5" stroke="#ff1a1a" stroke-width="1.2"/>
<polyline points="46.7,160.5 47,160.5 47.2,160.5 47.5,160.7 47.7,161.5 48,163.9 48.2,167.4 48.5,169.3 48.8,167.4 49,163.9 49.3,161.5 49.5,160.7 49.8,160.5 50,160.5 50.3,160.5" fill="none" stroke="#ff1a1a" stroke-width="1.5" stroke-linejoin="round"/>
<polyline points="57.3,160.5 57.6,160.5 57.8,160.5 58.1,160.6 58.3,161 58.6,162.2 58.8,163.4 59.1,163.1 59.3,161.7 59.6,160.8 59.8,160.3 60.1,159.5 60.3,158.4 60.6,158.1 60.8,159.1 61.1,160.1 61.3,160.4 61.6,160.5 61.8,160.5 62.1,160.5" fill="none" stroke="#ff1a1a" stroke-width="1.5" stroke-linejoin="round"/>
<polyline points="62.4,160.5 62.7,160.5 62.9,160.5 63.2,160.7 63.5,161.3 63.7,163.1 64,165.9 64.3,168.3 64.5,168.3 64.8,165.9 65.1,163.1 65.3,161.3 65.6,160.7 65.9,160.5 66.1,160.5 66.4,160.5" fill="none" stroke="#ff1a1a" stroke-width="1.5" stroke-linejoin="round"/>
<polyline points="73.9,160.5 74.2,160.5 74.4,160.5 74.7,160.4 74.9,159.6 75.2,157.5 75.4,155.7 75.7,156.5 76,159 76.2,161 76.5,163.5 76.7,168.3 77,174.7 77.2,178.9 77.5,177.3 77.8,171.3 78,165.4 78.3,162.1 78.5,160.9 78.8,160.6 79,160.5 79.3,160.5" fill="none" stroke="#ff1a1a" stroke-width="1.5" stroke-linejoin="round"/>
<polyline points="83.3,160.5 83.6,160.5 83.8,160.5 84.1,160.3 84.4,159.8 84.6,158.3 84.9,155.8 85.2,153.6 85.4,153.6 85.7,155.8 86,158.3 86.2,159.8 86.5,160.3 86.8,160.5 87,160.5 87.3,160.5" fill="none" stroke="#ff1a1a" stroke-width="1.5" stroke-linejoin="round"/>
<polyline points="90.3,160.5 90.6,160.5 90.8,160.6 91.1,161.1 91.4,163 91.6,168.1 91.9,176.5 92.2,183.7 92.4,183.7 92.7,176.5 93,168.1 93.2,163 93.5,161.1 93.8,160.6 94,160.5 94.3,160.5" fill="none" stroke="#ff1a1a" stroke-width="1.5" stroke-linejoin="round"/>
<line x1="40.4" y1="160.5" x2="214.1" y2="160.5" stroke="#238e23" stroke-width="0.9" stroke-dasharray="1.4,1.4"/>
<polyline points="45.3,160.5 45.8,154 46.5,162 47.2,155.9 47.8,160.5" fill="none" stroke="#238e23" stroke-width="0.8" stroke-linejoin="round" stroke-dasharray="2.8,0.9"/>
<polyline points="48.6,160.5 49.1,171.8 49.7,158 50.3,160.5" fill="none" stroke="#238e23" stroke-width="0.8" stroke-linejoin="round" stroke-dasharray="2.8,0.9"/>
<polyline points="57,160.5 57.5,154 58,160.5" fill="none" stroke="#238e23" stroke-width="0.8" stroke-linejoin="round" stroke-dasharray="2.8,0.9"/>
<polyline points="61.4,160.5 62,171.1 62.7,158 63.4,156 64,160.5" fill="none" stroke="#238e23" stroke-width="0.8" stroke-linejoin="round" stroke-dasharray="2.8,0.9"/>
<polyline points="65.5,160.5 66,158 66.5,160.5" fill="none" stroke="#238e23" stroke-width="0.8" stroke-linejoin="round" stroke-dasharray="2.8,0.9"/>
<polyline points="73.4,160.5 74,163 74.6,160.5" fill="none" stroke="#238e23" stroke-width="0.8" stroke-linejoin="round" stroke-dasharray="2.8,0.9"/>
<polyline points="77.4,160.5 78,136.3 78.6,183.4 79.2,160.5" fill="none" stroke="#238e23" stroke-width="0.8" stroke-linejoin="round" stroke-dasharray="2.8,0.9"/>
<polyline points="84,160.5 84.5,171.8 85,160.5" fill="none" stroke="#238e23" stroke-width="0.8" stroke-linejoin="round" stroke-dasharray="2.8,0.9"/>
<polyline points="90.6,160.5 91.2,155 91.8,160.5" fill="none" stroke="#238e23" stroke-width="0.8" stroke-linejoin="round" stroke-dasharray="2.8,0.9"/>
<polyline points="92.6,160.5 93.2,139.3 93.8,166 94.4,160.5" fill="none" stroke="#238e23" stroke-width="0.8" stroke-linejoin="round" stroke-dasharray="2.8,0.9"/>
<polyline points="95.2,160.5 95.8,154.5 96.5,165 97.2,160.5" fill="none" stroke="#238e23" stroke-width="0.8" stroke-linejoin="round" stroke-dasharray="2.8,0.9"/>
<polyline points="98.2,160.5 98.7,153.4 99.3,160.5" fill="none" stroke="#238e23" stroke-width="0.8" stroke-linejoin="round" stroke-dasharray="2.8,0.9"/>
<polyline points="132.2,160.5 132.7,155.9 133.2,160.5" fill="none" stroke="#238e23" stroke-width="0.8" stroke-linejoin="round" stroke-dasharray="2.8,0.9"/>
<polyline points="152.1,160.5 152.5,159 152.9,160.5" fill="none" stroke="#238e23" stroke-width="0.8" stroke-linejoin="round" stroke-dasharray="2.8,0.9"/>
<polyline points="163,160.5 163.3,161.5 163.7,160.5" fill="none" stroke="#238e23" stroke-width="0.8" stroke-linejoin="round" stroke-dasharray="2.8,0.9"/>
<polyline points="177.3,160.5 177.8,165.6 178.3,160.5" fill="none" stroke="#238e23" stroke-width="0.8" stroke-linejoin="round" stroke-dasharray="2.8,0.9"/>
<rect x="31.6" y="134.3" width="190.2" height="52.1" fill="none" stroke="#303030" stroke-width="0.65"/>
<line x1="33.7" y1="186.4" x2="33.7" y2="187.4" stroke="#303030" stroke-width="0.6"/>
<line x1="40.4" y1="186.4" x2="40.4" y2="188.2" stroke="#303030" stroke-width="0.6"/>
<line x1="47.1" y1="186.4" x2="47.1" y2="187.4" stroke="#303030" stroke-width="0.6"/>
<line x1="53.8" y1="186.4" x2="53.8" y2="187.4" stroke="#303030" stroke-width="0.6"/>
<line x1="60.4" y1="186.4" x2="60.4" y2="187.4" stroke="#303030" stroke-width="0.6"/>
<line x1="67.1" y1="186.4" x2="67.1" y2="187.4" stroke="#303030" stroke-width="0.6"/>
<line x1="73.8" y1="186.4" x2="73.8" y2="188.2" stroke="#303030" stroke-width="0.6"/>
<line x1="80.5" y1="186.4" x2="80.5" y2="187.4" stroke="#303030" stroke-width="0.6"/>
<line x1="87.2" y1="186.4" x2="87.2" y2="187.4" stroke="#303030" stroke-width="0.6"/>
<line x1="93.8" y1="186.4" x2="93.8" y2="187.4" stroke="#303030" stroke-width="0.6"/>
<line x1="100.5" y1="186.4" x2="100.5" y2="187.4" stroke="#303030" stroke-width="0.6"/>
<line x1="107.2" y1="186.4" x2="107.2" y2="188.2" stroke="#303030" stroke-width="0.6"/>
<line x1="113.9" y1="186.4" x2="113.9" y2="187.4" stroke="#303030" stroke-width="0.6"/>
<line x1="120.6" y1="186.4" x2="120.6" y2="187.4" stroke="#303030" stroke-width="0.6"/>
<line x1="127.2" y1="186.4" x2="127.2" y2="187.4" stroke="#303030" stroke-width="0.6"/>
<line x1="133.9" y1="186.4" x2="133.9" y2="187.4" stroke="#303030" stroke-width="0.6"/>
<line x1="140.6" y1="186.4" x2="140.6" y2="188.2" stroke="#303030" stroke-width="0.6"/>
<line x1="147.3" y1="186.4" x2="147.3" y2="187.4" stroke="#303030" stroke-width="0.6"/>
<line x1="154" y1="186.4" x2="154" y2="187.4" stroke="#303030" stroke-width="0.6"/>
<line x1="160.6" y1="186.4" x2="160.6" y2="187.4" stroke="#303030" stroke-width="0.6"/>
<line x1="167.3" y1="186.4" x2="167.3" y2="187.4" stroke="#303030" stroke-width="0.6"/>
<line x1="174" y1="186.4" x2="174" y2="188.2" stroke="#303030" stroke-width="0.6"/>
<line x1="180.7" y1="186.4" x2="180.7" y2="187.4" stroke="#303030" stroke-width="0.6"/>
<line x1="187.4" y1="186.4" x2="187.4" y2="187.4" stroke="#303030" stroke-width="0.6"/>
<line x1="194" y1="186.4" x2="194" y2="187.4" stroke="#303030" stroke-width="0.6"/>
<line x1="200.7" y1="186.4" x2="200.7" y2="187.4" stroke="#303030" stroke-width="0.6"/>
<line x1="207.4" y1="186.4" x2="207.4" y2="188.2" stroke="#303030" stroke-width="0.6"/>
<line x1="214.1" y1="186.4" x2="214.1" y2="187.4" stroke="#303030" stroke-width="0.6"/>
<line x1="220.8" y1="186.4" x2="220.8" y2="187.4" stroke="#303030" stroke-width="0.6"/>
<line x1="31.6" y1="184.7" x2="30.6" y2="184.7" stroke="#303030" stroke-width="0.6"/>
<line x1="31.6" y1="181.6" x2="30.6" y2="181.6" stroke="#303030" stroke-width="0.6"/>
<line x1="31.6" y1="178.6" x2="30.6" y2="178.6" stroke="#303030" stroke-width="0.6"/>
<line x1="31.6" y1="175.6" x2="29.8" y2="175.6" stroke="#303030" stroke-width="0.6"/>
<line x1="31.6" y1="172.6" x2="30.6" y2="172.6" stroke="#303030" stroke-width="0.6"/>
<line x1="31.6" y1="169.6" x2="30.6" y2="169.6" stroke="#303030" stroke-width="0.6"/>
<line x1="31.6" y1="166.5" x2="30.6" y2="166.5" stroke="#303030" stroke-width="0.6"/>
<line x1="31.6" y1="163.5" x2="30.6" y2="163.5" stroke="#303030" stroke-width="0.6"/>
<line x1="31.6" y1="160.5" x2="29.8" y2="160.5" stroke="#303030" stroke-width="0.6"/>
<line x1="31.6" y1="157.5" x2="30.6" y2="157.5" stroke="#303030" stroke-width="0.6"/>
<line x1="31.6" y1="154.5" x2="30.6" y2="154.5" stroke="#303030" stroke-width="0.6"/>
<line x1="31.6" y1="151.4" x2="30.6" y2="151.4" stroke="#303030" stroke-width="0.6"/>
<line x1="31.6" y1="148.4" x2="30.6" y2="148.4" stroke="#303030" stroke-width="0.6"/>
<line x1="31.6" y1="145.4" x2="29.8" y2="145.4" stroke="#303030" stroke-width="0.6"/>
<line x1="31.6" y1="142.4" x2="30.6" y2="142.4" stroke="#303030" stroke-width="0.6"/>
<line x1="31.6" y1="139.4" x2="30.6" y2="139.4" stroke="#303030" stroke-width="0.6"/>
<line x1="31.6" y1="136.3" x2="30.6" y2="136.3" stroke="#303030" stroke-width="0.6"/>
<line x1="221.8" y1="146" x2="223.6" y2="146" stroke="#303030" stroke-width="0.6"/>
<line x1="221.8" y1="160.5" x2="223.6" y2="160.5" stroke="#303030" stroke-width="0.6"/>
<line x1="221.8" y1="175" x2="223.6" y2="175" stroke="#303030" stroke-width="0.6"/>
<line x1="221.8" y1="135.1" x2="222.8" y2="135.1" stroke="#303030" stroke-width="0.5"/>
<line x1="221.8" y1="138.8" x2="222.8" y2="138.8" stroke="#303030" stroke-width="0.5"/>
<line x1="221.8" y1="142.4" x2="222.8" y2="142.4" stroke="#303030" stroke-width="0.5"/>
<line x1="221.8" y1="149.6" x2="222.8" y2="149.6" stroke="#303030" stroke-width="0.5"/>
<line x1="221.8" y1="153.2" x2="222.8" y2="153.2" stroke="#303030" stroke-width="0.5"/>
<line x1="221.8" y1="156.9" x2="222.8" y2="156.9" stroke="#303030" stroke-width="0.5"/>
<line x1="221.8" y1="164.1" x2="222.8" y2="164.1" stroke="#303030" stroke-width="0.5"/>
<line x1="221.8" y1="167.8" x2="222.8" y2="167.8" stroke="#303030" stroke-width="0.5"/>
<line x1="221.8" y1="171.4" x2="222.8" y2="171.4" stroke="#303030" stroke-width="0.5"/>
<line x1="221.8" y1="178.6" x2="222.8" y2="178.6" stroke="#303030" stroke-width="0.5"/>
<line x1="221.8" y1="182.2" x2="222.8" y2="182.2" stroke="#303030" stroke-width="0.5"/>
<line x1="221.8" y1="185.9" x2="222.8" y2="185.9" stroke="#303030" stroke-width="0.5"/>
<text x="28.2" y="147.3" font-size="5.6" text-anchor="end">10</text>
<text x="28.2" y="162.4" font-size="5.6" text-anchor="end">0</text>
<text x="28.2" y="177.5" font-size="5.6" text-anchor="end">−10</text>
<text x="225.2" y="147.9" font-size="5.6" text-anchor="start">2</text>
<text x="225.2" y="162.4" font-size="5.6" text-anchor="start">0</text>
<text x="225.2" y="176.9" font-size="5.6" text-anchor="start">−2</text>
<text transform="translate(14.8,160.4) rotate(-90)" font-size="6" text-anchor="middle" style="fill:#222"><tspan font-style="italic">F</tspan><tspan font-size="4.2" font-style="italic" dy="1.3">z</tspan><tspan dy="-1.3"> (N)</tspan></text>
<text class="sans" transform="translate(238.8,160.4) rotate(-90)" font-size="5.8" text-anchor="middle" textLength="19.8" lengthAdjust="spacingAndGlyphs">Error (N)</text>
</g>
<text x="40.4" y="194" font-size="5.6" text-anchor="middle">0</text>
<text x="73.8" y="194" font-size="5.6" text-anchor="middle">10</text>
<text x="107.2" y="194" font-size="5.6" text-anchor="middle">20</text>
<text x="140.6" y="194" font-size="5.6" text-anchor="middle">30</text>
<text x="174" y="194" font-size="5.6" text-anchor="middle">40</text>
<text x="207.4" y="194" font-size="5.6" text-anchor="middle">50</text>
<text x="126.7" y="201.2" font-size="5.8" text-anchor="middle" class="sans" textLength="19.4" lengthAdjust="spacingAndGlyphs">Time (s)</text>
<line x1="64.6" y1="205" x2="75.9" y2="205" stroke="#1a1aff" stroke-width="1.3"/>
<text x="79.4" y="207" font-size="5.8" text-anchor="start" class="sans" textLength="20.6" lengthAdjust="spacingAndGlyphs">Measured</text>
<line x1="111.5" y1="205" x2="122.9" y2="205" stroke="#ff1a1a" stroke-width="1.3"/>
<text x="126.2" y="207" font-size="5.8" text-anchor="start" class="sans" textLength="21.8" lengthAdjust="spacingAndGlyphs">Prediction</text>
<line x1="159.8" y1="205" x2="170.4" y2="205" stroke="#238e23" stroke-width="1" stroke-dasharray="1.9,1.0"/>
<text x="174" y="207" font-size="5.8" text-anchor="start" class="sans" textLength="10.9" lengthAdjust="spacingAndGlyphs">Error</text>
<text x="125.3" y="227.3" font-size="11.6" text-anchor="middle" font-weight="bold" style="fill:#111">(a)</text>
<g>
<line x1="336.2" y1="9.5" x2="336.2" y2="61.5" stroke="#c4c4c4" stroke-width="0.5" stroke-dasharray="3,0.6"/>
<line x1="350.8" y1="9.5" x2="350.8" y2="61.5" stroke="#c4c4c4" stroke-width="0.5" stroke-dasharray="3,0.6"/>
<line x1="358.1" y1="9.5" x2="358.1" y2="61.5" stroke="#c4c4c4" stroke-width="0.5" stroke-dasharray="3,0.6"/>
<line x1="365.4" y1="9.5" x2="365.4" y2="61.5" stroke="#c4c4c4" stroke-width="0.5" stroke-dasharray="3,0.6"/>
<line x1="372.7" y1="9.5" x2="372.7" y2="61.5" stroke="#c4c4c4" stroke-width="0.5" stroke-dasharray="3,0.6"/>
<line x1="387.3" y1="9.5" x2="387.3" y2="61.5" stroke="#c4c4c4" stroke-width="0.5" stroke-dasharray="3,0.6"/>
<line x1="394.6" y1="9.5" x2="394.6" y2="61.5" stroke="#c4c4c4" stroke-width="0.5" stroke-dasharray="3,0.6"/>
<line x1="401.9" y1="9.5" x2="401.9" y2="61.5" stroke="#c4c4c4" stroke-width="0.5" stroke-dasharray="3,0.6"/>
<line x1="409.2" y1="9.5" x2="409.2" y2="61.5" stroke="#c4c4c4" stroke-width="0.5" stroke-dasharray="3,0.6"/>
<line x1="423.8" y1="9.5" x2="423.8" y2="61.5" stroke="#c4c4c4" stroke-width="0.5" stroke-dasharray="3,0.6"/>
<line x1="431.1" y1="9.5" x2="431.1" y2="61.5" stroke="#c4c4c4" stroke-width="0.5" stroke-dasharray="3,0.6"/>
<line x1="438.4" y1="9.5" x2="438.4" y2="61.5" stroke="#c4c4c4" stroke-width="0.5" stroke-dasharray="3,0.6"/>
<line x1="445.7" y1="9.5" x2="445.7" y2="61.5" stroke="#c4c4c4" stroke-width="0.5" stroke-dasharray="3,0.6"/>
<line x1="460.3" y1="9.5" x2="460.3" y2="61.5" stroke="#c4c4c4" stroke-width="0.5" stroke-dasharray="3,0.6"/>
<line x1="467.6" y1="9.5" x2="467.6" y2="61.5" stroke="#c4c4c4" stroke-width="0.5" stroke-dasharray="3,0.6"/>
<line x1="474.9" y1="9.5" x2="474.9" y2="61.5" stroke="#c4c4c4" stroke-width="0.5" stroke-dasharray="3,0.6"/>
<line x1="482.2" y1="9.5" x2="482.2" y2="61.5" stroke="#c4c4c4" stroke-width="0.5" stroke-dasharray="3,0.6"/>
<line x1="496.8" y1="9.5" x2="496.8" y2="61.5" stroke="#c4c4c4" stroke-width="0.5" stroke-dasharray="3,0.6"/>
<line x1="504.1" y1="9.5" x2="504.1" y2="61.5" stroke="#c4c4c4" stroke-width="0.5" stroke-dasharray="3,0.6"/>
<line x1="511.4" y1="9.5" x2="511.4" y2="61.5" stroke="#c4c4c4" stroke-width="0.5" stroke-dasharray="3,0.6"/>
<line x1="518.7" y1="9.5" x2="518.7" y2="61.5" stroke="#c4c4c4" stroke-width="0.5" stroke-dasharray="3,0.6"/>
<line x1="335.1" y1="58.4" x2="525.6" y2="58.4" stroke="#b4b4b4" stroke-width="0.5" stroke-dasharray="3,0.9"/>
<line x1="335.1" y1="55.1" x2="525.6" y2="55.1" stroke="#b4b4b4" stroke-width="0.5" stroke-dasharray="3,0.9"/>
<line x1="335.1" y1="48.5" x2="525.6" y2="48.5" stroke="#b4b4b4" stroke-width="0.5" stroke-dasharray="3,0.9"/>
<line x1="335.1" y1="45.2" x2="525.6" y2="45.2" stroke="#b4b4b4" stroke-width="0.5" stroke-dasharray="3,0.9"/>
<line x1="335.1" y1="42" x2="525.6" y2="42" stroke="#b4b4b4" stroke-width="0.5" stroke-dasharray="3,0.9"/>
<line x1="335.1" y1="38.7" x2="525.6" y2="38.7" stroke="#b4b4b4" stroke-width="0.5" stroke-dasharray="3,0.9"/>
<line x1="335.1" y1="32.1" x2="525.6" y2="32.1" stroke="#b4b4b4" stroke-width="0.5" stroke-dasharray="3,0.9"/>
<line x1="335.1" y1="28.8" x2="525.6" y2="28.8" stroke="#b4b4b4" stroke-width="0.5" stroke-dasharray="3,0.9"/>
<line x1="335.1" y1="25.6" x2="525.6" y2="25.6" stroke="#b4b4b4" stroke-width="0.5" stroke-dasharray="3,0.9"/>
<line x1="335.1" y1="22.3" x2="525.6" y2="22.3" stroke="#b4b4b4" stroke-width="0.5" stroke-dasharray="3,0.9"/>
<line x1="335.1" y1="15.7" x2="525.6" y2="15.7" stroke="#b4b4b4" stroke-width="0.5" stroke-dasharray="3,0.9"/>
<line x1="335.1" y1="12.4" x2="525.6" y2="12.4" stroke="#b4b4b4" stroke-width="0.5" stroke-dasharray="3,0.9"/>
<line x1="343.5" y1="9.5" x2="343.5" y2="61.5" stroke="#858585" stroke-width="0.7"/>
<line x1="380" y1="9.5" x2="380" y2="61.5" stroke="#858585" stroke-width="0.7"/>
<line x1="416.5" y1="9.5" x2="416.5" y2="61.5" stroke="#858585" stroke-width="0.7"/>
<line x1="453" y1="9.5" x2="453" y2="61.5" stroke="#858585" stroke-width="0.7"/>
<line x1="489.5" y1="9.5" x2="489.5" y2="61.5" stroke="#858585" stroke-width="0.7"/>
<line x1="335.1" y1="51.8" x2="525.6" y2="51.8" stroke="#7a7a7a" stroke-width="0.8"/>
<line x1="335.1" y1="19" x2="525.6" y2="19" stroke="#b4b4b4" stroke-width="0.5" stroke-dasharray="3,0.9"/>
<polyline points="373.9,35.6 374.2,35.8 374.4,36.2 374.7,36.7 374.9,37.2 375.2,37.6 375.4,37.9 375.7,38.2 375.9,38.6 376.2,39.3 376.5,40.5" fill="none" stroke="#1a1aff" stroke-width="1.3" stroke-linejoin="round"/>
<polyline points="448.8,39.1 449.1,39.7 449.3,40.4 449.6,41.2 449.8,42 450.1,42.9 450.3,43.7 450.6,44.6 450.8,45.5 451.1,46.4 451.3,47.3 451.6,48.1 451.8,48.8 452.1,49.4 452.3,50 452.6,50.4 452.8,50.6 453.1,50.8 453.3,50.8 453.6,50.6 453.8,50.3 454.1,49.9 454.3,49.4 454.6,48.8 454.8,48 455.1,47.2 455.3,46.4 455.6,45.5 455.8,44.6 456.1,43.7 456.3,42.8 456.6,42 456.8,41.2 457.1,40.4 457.3,39.7 457.6,39.1" fill="none" stroke="#1a1aff" stroke-width="1.3" stroke-linejoin="round"/>
<polyline points="504.7,39.3 505,38.5 505.2,37.8 505.5,37 505.7,36.2 506,35.5 506.2,34.9 506.5,34.3 506.7,33.9 507,33.6 507.2,33.3 507.5,33.2 507.7,33.2 508,33.3 508.2,33.5 508.5,33.7 508.7,33.9 509,34.1 509.2,34.4 509.5,34.6" fill="none" stroke="#1a1aff" stroke-width="1.3" stroke-linejoin="round"/>
<line x1="343.5" y1="35.4" x2="516.5" y2="35.4" stroke="#ff1a1a" stroke-width="1.2"/>
<polyline points="355.7,35.4 356,35.4 356.2,35.3 356.5,35.3 356.7,35.2 357,35.1 357.2,34.9 357.5,34.6 357.7,34.2 358,33.6 358.2,32.8 358.5,31.9 358.7,30.8 359,29.5 359.2,28.2 359.5,26.9 359.7,25.7 360,24.7 360.2,24.1 360.5,23.9 360.8,24.1 361,24.7 361.3,25.7 361.5,26.9 361.8,28.2 362,29.5 362.3,30.8 362.5,31.9 362.8,32.8 363,33.6 363.3,34.2 363.5,34.6 363.8,34.9 364,35.1 364.3,35.2 364.5,35.3 364.8,35.3 365,35.4 365.3,35.4" fill="none" stroke="#ff1a1a" stroke-width="1.5" stroke-linejoin="round"/>
<polyline points="372.7,35.4 372.9,35.4 373.2,35.4 373.4,35.4 373.7,35.4 373.9,35.5 374.2,35.5 374.4,35.6 374.7,35.7 374.9,35.9 375.2,36.2 375.4,36.6 375.7,37.2 375.9,38 376.2,39 376.5,40.3 376.7,41.9 377,43.8 377.2,45.9 377.5,48.2 377.7,50.6 378,52.9 378.2,55 378.5,56.7 378.7,57.9 379,58.6 379.2,58.6 379.5,58 379.7,56.8 380,55.1 380.2,53 380.5,50.7 380.7,48.3 381,46 381.2,43.9 381.5,42 381.7,40.4 382,39.1 382.2,38 382.5,37.2 382.7,36.6 383,36.2 383.2,35.9 383.5,35.7 383.7,35.6 384,35.5 384.2,35.5 384.5,35.4" fill="none" stroke="#ff1a1a" stroke-width="1.5" stroke-linejoin="round"/>
<polyline points="386.7,35.4 387,35.4 387.2,35.3 387.5,35.2 387.7,35 388,34.6 388.2,33.9 388.5,32.7 388.7,31.1 389,28.9 389.2,26.1 389.5,23 389.7,19.9 390,17.2 390.2,15.4 390.5,14.7 390.8,15.4 391,17.2 391.3,19.9 391.5,23 391.8,26.1 392,28.9 392.3,31.1 392.5,32.7 392.8,33.9 393,34.6 393.3,35 393.5,35.2 393.8,35.3 394,35.4 394.3,35.4" fill="none" stroke="#ff1a1a" stroke-width="1.5" stroke-linejoin="round"/>
<polyline points="396.7,35.4 397,35.4 397.2,35.3 397.5,35.3 397.7,35.2 398,35.1 398.2,34.9 398.5,34.6 398.7,34.2 399,33.7 399.2,33 399.5,32.1 399.7,31 400,29.8 400.2,28.5 400.5,27.3 400.7,26.2 401,25.3 401.2,24.7 401.5,24.5 401.8,24.7 402,25.3 402.3,26.2 402.5,27.3 402.8,28.5 403,29.8 403.3,31 403.5,32.1 403.8,33 404,33.7 404.3,34.2 404.5,34.6 404.8,34.9 405,35.1 405.3,35.2 405.5,35.3 405.8,35.3 406,35.4 406.3,35.4" fill="none" stroke="#ff1a1a" stroke-width="1.5" stroke-linejoin="round"/>
<polyline points="440.8,35.4 441,35.4 441.3,35.3 441.5,35.3 441.8,35.1 442,34.9 442.3,34.5 442.5,33.9 442.8,33 443,31.8 443.3,30.2 443.5,28.3 443.8,26.3 444,24.2 444.3,22.4 444.5,21 444.8,20.3 445,20.4 445.3,21.3 445.6,22.8 445.8,24.8 446.1,26.9 446.3,29.1 446.6,31 446.8,32.7 447.1,34 447.3,35.1 447.6,35.9 447.8,36.6 448.1,37.2 448.3,37.7 448.6,38.2 448.8,38.8 449.1,39.4 449.3,40.1 449.6,40.8 449.8,41.5 450.1,42.3 450.3,43.1 450.6,43.9 450.8,44.8 451.1,45.6 451.3,46.4 451.6,47.1 451.8,47.8 452.1,48.4 452.3,48.9 452.6,49.2 452.8,49.5 453.1,49.6 453.3,49.6 453.6,49.5 453.8,49.2 454.1,48.8 454.3,48.3 454.6,47.7 454.8,47.1 455.1,46.3 455.3,45.5 455.6,44.7 455.8,43.9 456.1,43.1 456.3,42.2 456.6,41.5 456.8,40.7 457.1,40 457.3,39.4 457.6,38.8 457.9,38.3 458.1,37.8 458.4,37.4 458.6,37 458.9,36.7 459.1,36.5 459.4,36.3 459.6,36.1 459.9,35.9 460.1,35.8 460.4,35.7 460.6,35.6 460.9,35.6 461.1,35.5 461.4,35.5 461.6,35.5 461.9,35.5 462.1,35.4" fill="none" stroke="#ff1a1a" stroke-width="1.5" stroke-linejoin="round"/>
<polyline points="489.2,35.4 489.4,35.4 489.7,35.3 489.9,35.2 490.2,35 490.4,34.7 490.7,34.2 490.9,33.4 491.2,32.2 491.4,30.6 491.7,28.6 491.9,26.1 492.2,23.4 492.4,20.6 492.7,18.2 492.9,16.4 493.2,15.4 493.4,15.5 493.7,16.5 493.9,18.4 494.2,20.9 494.4,23.6 494.7,26.3 494.9,28.8 495.2,30.8 495.4,32.4 495.7,33.5 495.9,34.3 496.2,34.8 496.4,35.1 496.7,35.3 496.9,35.4 497.2,35.4 497.4,35.5 497.7,35.6 497.9,35.6 498.2,35.7 498.4,35.9 498.7,36 498.9,36.2 499.2,36.4 499.4,36.7 499.7,37 499.9,37.4 500.2,37.8 500.4,38.2 500.7,38.7 501,39.2 501.2,39.7 501.5,40.2 501.7,40.7 502,41.2 502.2,41.5 502.5,41.8 502.7,42 503,42.1 503.2,42.1 503.5,41.9 503.7,41.6 504,41.3 504.2,40.8 504.5,40.2 504.7,39.6 505,38.9 505.2,38.2 505.5,37.4 505.7,36.8 506,36.1 506.2,35.5 506.5,35 506.7,34.6 507,34.3 507.2,34.1 507.5,34 507.7,33.9 508,34 508.2,34 508.5,34.2 508.7,34.3 509,34.5 509.2,34.6 509.5,34.8 509.7,34.9 510,35 510.2,35.1 510.5,35.2 510.7,35.3 511,35.3 511.2,35.3 511.5,35.4 511.7,35.4 512,35.4 512.2,35.4 512.5,35.4 512.7,35.4" fill="none" stroke="#ff1a1a" stroke-width="1.5" stroke-linejoin="round"/>
<line x1="343.5" y1="35.4" x2="516.5" y2="35.4" stroke="#238e23" stroke-width="0.9" stroke-dasharray="1.4,1.4"/>
<polyline points="345.6,35.4 346.1,33 346.6,35.4" fill="none" stroke="#238e23" stroke-width="0.8" stroke-linejoin="round" stroke-dasharray="2.8,0.9"/>
<polyline points="358,35.4 358.5,32.4 359.2,35.4" fill="none" stroke="#238e23" stroke-width="0.8" stroke-linejoin="round" stroke-dasharray="2.8,0.9"/>
<polyline points="361.3,35.4 362,39.8 362.8,37.5 363.4,35.4" fill="none" stroke="#238e23" stroke-width="0.8" stroke-linejoin="round" stroke-dasharray="2.8,0.9"/>
<polyline points="375,35.4 375.6,27 376.3,35.4 377,29 377.7,35.4" fill="none" stroke="#238e23" stroke-width="0.8" stroke-linejoin="round" stroke-dasharray="2.8,0.9"/>
<polyline points="378,35.4 378.4,16.6 379,30 379.6,22 380.3,35.4" fill="none" stroke="#238e23" stroke-width="0.8" stroke-linejoin="round" stroke-dasharray="2.8,0.9"/>
<polyline points="386.8,35.4 387.4,27 388,38 388.6,30 389.5,43.5 390.3,27 391.2,35.4" fill="none" stroke="#238e23" stroke-width="0.8" stroke-linejoin="round" stroke-dasharray="2.8,0.9"/>
<polyline points="399.5,35.4 400.2,40 401,48.3 401.6,38 402.3,35.4" fill="none" stroke="#238e23" stroke-width="0.8" stroke-linejoin="round" stroke-dasharray="2.8,0.9"/>
<polyline points="442.5,35.4 443.2,44.7 444,38 444.6,35.4" fill="none" stroke="#238e23" stroke-width="0.8" stroke-linejoin="round" stroke-dasharray="2.8,0.9"/>
<polyline points="451.2,35.4 452,26.3 452.8,33 453.5,28.5 454.3,35.4" fill="none" stroke="#238e23" stroke-width="0.8" stroke-linejoin="round" stroke-dasharray="2.8,0.9"/>
<polyline points="456.3,35.4 457,29 457.6,35.4" fill="none" stroke="#238e23" stroke-width="0.8" stroke-linejoin="round" stroke-dasharray="2.8,0.9"/>
<polyline points="490.8,35.4 491.4,40 492,58.7 492.6,45 493.2,55 493.8,35.4" fill="none" stroke="#238e23" stroke-width="0.8" stroke-linejoin="round" stroke-dasharray="2.8,0.9"/>
<polyline points="498.4,35.4 499,30 499.6,38 500.3,35.4" fill="none" stroke="#238e23" stroke-width="0.8" stroke-linejoin="round" stroke-dasharray="2.8,0.9"/>
<polyline points="501.8,35.4 502.5,27 503,52 503.6,36 504.2,35.4" fill="none" stroke="#238e23" stroke-width="0.8" stroke-linejoin="round" stroke-dasharray="2.8,0.9"/>
<polyline points="505.5,35.4 506,38 506.8,33 507.5,37 508.2,35.4" fill="none" stroke="#238e23" stroke-width="0.8" stroke-linejoin="round" stroke-dasharray="2.8,0.9"/>
<rect x="335.1" y="9.5" width="190.5" height="52" fill="none" stroke="#303030" stroke-width="0.65"/>
<line x1="336.2" y1="61.5" x2="336.2" y2="62.5" stroke="#303030" stroke-width="0.6"/>
<line x1="343.5" y1="61.5" x2="343.5" y2="63.3" stroke="#303030" stroke-width="0.6"/>
<line x1="350.8" y1="61.5" x2="350.8" y2="62.5" stroke="#303030" stroke-width="0.6"/>
<line x1="358.1" y1="61.5" x2="358.1" y2="62.5" stroke="#303030" stroke-width="0.6"/>
<line x1="365.4" y1="61.5" x2="365.4" y2="62.5" stroke="#303030" stroke-width="0.6"/>
<line x1="372.7" y1="61.5" x2="372.7" y2="62.5" stroke="#303030" stroke-width="0.6"/>
<line x1="380" y1="61.5" x2="380" y2="63.3" stroke="#303030" stroke-width="0.6"/>
<line x1="387.3" y1="61.5" x2="387.3" y2="62.5" stroke="#303030" stroke-width="0.6"/>
<line x1="394.6" y1="61.5" x2="394.6" y2="62.5" stroke="#303030" stroke-width="0.6"/>
<line x1="401.9" y1="61.5" x2="401.9" y2="62.5" stroke="#303030" stroke-width="0.6"/>
<line x1="409.2" y1="61.5" x2="409.2" y2="62.5" stroke="#303030" stroke-width="0.6"/>
<line x1="416.5" y1="61.5" x2="416.5" y2="63.3" stroke="#303030" stroke-width="0.6"/>
<line x1="423.8" y1="61.5" x2="423.8" y2="62.5" stroke="#303030" stroke-width="0.6"/>
<line x1="431.1" y1="61.5" x2="431.1" y2="62.5" stroke="#303030" stroke-width="0.6"/>
<line x1="438.4" y1="61.5" x2="438.4" y2="62.5" stroke="#303030" stroke-width="0.6"/>
<line x1="445.7" y1="61.5" x2="445.7" y2="62.5" stroke="#303030" stroke-width="0.6"/>
<line x1="453" y1="61.5" x2="453" y2="63.3" stroke="#303030" stroke-width="0.6"/>
<line x1="460.3" y1="61.5" x2="460.3" y2="62.5" stroke="#303030" stroke-width="0.6"/>
<line x1="467.6" y1="61.5" x2="467.6" y2="62.5" stroke="#303030" stroke-width="0.6"/>
<line x1="474.9" y1="61.5" x2="474.9" y2="62.5" stroke="#303030" stroke-width="0.6"/>
<line x1="482.2" y1="61.5" x2="482.2" y2="62.5" stroke="#303030" stroke-width="0.6"/>
<line x1="489.5" y1="61.5" x2="489.5" y2="63.3" stroke="#303030" stroke-width="0.6"/>
<line x1="496.8" y1="61.5" x2="496.8" y2="62.5" stroke="#303030" stroke-width="0.6"/>
<line x1="504.1" y1="61.5" x2="504.1" y2="62.5" stroke="#303030" stroke-width="0.6"/>
<line x1="511.4" y1="61.5" x2="511.4" y2="62.5" stroke="#303030" stroke-width="0.6"/>
<line x1="518.7" y1="61.5" x2="518.7" y2="62.5" stroke="#303030" stroke-width="0.6"/>
<line x1="335.1" y1="58.4" x2="334.1" y2="58.4" stroke="#303030" stroke-width="0.6"/>
<line x1="335.1" y1="55.1" x2="334.1" y2="55.1" stroke="#303030" stroke-width="0.6"/>
<line x1="335.1" y1="51.8" x2="333.3" y2="51.8" stroke="#303030" stroke-width="0.6"/>
<line x1="335.1" y1="48.5" x2="334.1" y2="48.5" stroke="#303030" stroke-width="0.6"/>
<line x1="335.1" y1="45.2" x2="334.1" y2="45.2" stroke="#303030" stroke-width="0.6"/>
<line x1="335.1" y1="42" x2="334.1" y2="42" stroke="#303030" stroke-width="0.6"/>
<line x1="335.1" y1="38.7" x2="334.1" y2="38.7" stroke="#303030" stroke-width="0.6"/>
<line x1="335.1" y1="35.4" x2="333.3" y2="35.4" stroke="#303030" stroke-width="0.6"/>
<line x1="335.1" y1="32.1" x2="334.1" y2="32.1" stroke="#303030" stroke-width="0.6"/>
<line x1="335.1" y1="28.8" x2="334.1" y2="28.8" stroke="#303030" stroke-width="0.6"/>
<line x1="335.1" y1="25.6" x2="334.1" y2="25.6" stroke="#303030" stroke-width="0.6"/>
<line x1="335.1" y1="22.3" x2="334.1" y2="22.3" stroke="#303030" stroke-width="0.6"/>
<line x1="335.1" y1="19" x2="333.3" y2="19" stroke="#303030" stroke-width="0.6"/>
<line x1="335.1" y1="15.7" x2="334.1" y2="15.7" stroke="#303030" stroke-width="0.6"/>
<line x1="335.1" y1="12.4" x2="334.1" y2="12.4" stroke="#303030" stroke-width="0.6"/>
<line x1="525.6" y1="19.1" x2="527.4" y2="19.1" stroke="#303030" stroke-width="0.6"/>
<line x1="525.6" y1="35.4" x2="527.4" y2="35.4" stroke="#303030" stroke-width="0.6"/>
<line x1="525.6" y1="51.9" x2="527.4" y2="51.9" stroke="#303030" stroke-width="0.6"/>
<line x1="525.6" y1="11" x2="526.6" y2="11" stroke="#303030" stroke-width="0.5"/>
<line x1="525.6" y1="15" x2="526.6" y2="15" stroke="#303030" stroke-width="0.5"/>
<line x1="525.6" y1="23.2" x2="526.6" y2="23.2" stroke="#303030" stroke-width="0.5"/>
<line x1="525.6" y1="27.2" x2="526.6" y2="27.2" stroke="#303030" stroke-width="0.5"/>
<line x1="525.6" y1="31.3" x2="526.6" y2="31.3" stroke="#303030" stroke-width="0.5"/>
<line x1="525.6" y1="39.5" x2="526.6" y2="39.5" stroke="#303030" stroke-width="0.5"/>
<line x1="525.6" y1="43.5" x2="526.6" y2="43.5" stroke="#303030" stroke-width="0.5"/>
<line x1="525.6" y1="47.6" x2="526.6" y2="47.6" stroke="#303030" stroke-width="0.5"/>
<line x1="525.6" y1="55.8" x2="526.6" y2="55.8" stroke="#303030" stroke-width="0.5"/>
<line x1="525.6" y1="59.8" x2="526.6" y2="59.8" stroke="#303030" stroke-width="0.5"/>
<text x="331.4" y="20.9" font-size="5.6" text-anchor="end">10</text>
<text x="331.4" y="37.3" font-size="5.6" text-anchor="end">0</text>
<text x="331.4" y="53.7" font-size="5.6" text-anchor="end">−10</text>
<text x="528.8" y="21" font-size="5.6" text-anchor="start">2</text>
<text x="528.8" y="37.3" font-size="5.6" text-anchor="start">0</text>
<text x="528.8" y="53.8" font-size="5.6" text-anchor="start">−2</text>
<text transform="translate(318.4,35.5) rotate(-90)" font-size="6" text-anchor="middle" style="fill:#222"><tspan font-style="italic">F</tspan><tspan font-size="4.2" font-style="italic" dy="1.3">x</tspan><tspan dy="-1.3"> (N)</tspan></text>
<text class="sans" transform="translate(541.9,35.5) rotate(-90)" font-size="5.8" text-anchor="middle" textLength="19.8" lengthAdjust="spacingAndGlyphs">Error (N)</text>
</g>
<g>
<line x1="336.2" y1="71.9" x2="336.2" y2="123.9" stroke="#c4c4c4" stroke-width="0.5" stroke-dasharray="3,0.6"/>
<line x1="350.8" y1="71.9" x2="350.8" y2="123.9" stroke="#c4c4c4" stroke-width="0.5" stroke-dasharray="3,0.6"/>
<line x1="358.1" y1="71.9" x2="358.1" y2="123.9" stroke="#c4c4c4" stroke-width="0.5" stroke-dasharray="3,0.6"/>
<line x1="365.4" y1="71.9" x2="365.4" y2="123.9" stroke="#c4c4c4" stroke-width="0.5" stroke-dasharray="3,0.6"/>
<line x1="372.7" y1="71.9" x2="372.7" y2="123.9" stroke="#c4c4c4" stroke-width="0.5" stroke-dasharray="3,0.6"/>
<line x1="387.3" y1="71.9" x2="387.3" y2="123.9" stroke="#c4c4c4" stroke-width="0.5" stroke-dasharray="3,0.6"/>
<line x1="394.6" y1="71.9" x2="394.6" y2="123.9" stroke="#c4c4c4" stroke-width="0.5" stroke-dasharray="3,0.6"/>
<line x1="401.9" y1="71.9" x2="401.9" y2="123.9" stroke="#c4c4c4" stroke-width="0.5" stroke-dasharray="3,0.6"/>
<line x1="409.2" y1="71.9" x2="409.2" y2="123.9" stroke="#c4c4c4" stroke-width="0.5" stroke-dasharray="3,0.6"/>
<line x1="423.8" y1="71.9" x2="423.8" y2="123.9" stroke="#c4c4c4" stroke-width="0.5" stroke-dasharray="3,0.6"/>
<line x1="431.1" y1="71.9" x2="431.1" y2="123.9" stroke="#c4c4c4" stroke-width="0.5" stroke-dasharray="3,0.6"/>
<line x1="438.4" y1="71.9" x2="438.4" y2="123.9" stroke="#c4c4c4" stroke-width="0.5" stroke-dasharray="3,0.6"/>
<line x1="445.7" y1="71.9" x2="445.7" y2="123.9" stroke="#c4c4c4" stroke-width="0.5" stroke-dasharray="3,0.6"/>
<line x1="460.3" y1="71.9" x2="460.3" y2="123.9" stroke="#c4c4c4" stroke-width="0.5" stroke-dasharray="3,0.6"/>
<line x1="467.6" y1="71.9" x2="467.6" y2="123.9" stroke="#c4c4c4" stroke-width="0.5" stroke-dasharray="3,0.6"/>
<line x1="474.9" y1="71.9" x2="474.9" y2="123.9" stroke="#c4c4c4" stroke-width="0.5" stroke-dasharray="3,0.6"/>
<line x1="482.2" y1="71.9" x2="482.2" y2="123.9" stroke="#c4c4c4" stroke-width="0.5" stroke-dasharray="3,0.6"/>
<line x1="496.8" y1="71.9" x2="496.8" y2="123.9" stroke="#c4c4c4" stroke-width="0.5" stroke-dasharray="3,0.6"/>
<line x1="504.1" y1="71.9" x2="504.1" y2="123.9" stroke="#c4c4c4" stroke-width="0.5" stroke-dasharray="3,0.6"/>
<line x1="511.4" y1="71.9" x2="511.4" y2="123.9" stroke="#c4c4c4" stroke-width="0.5" stroke-dasharray="3,0.6"/>
<line x1="518.7" y1="71.9" x2="518.7" y2="123.9" stroke="#c4c4c4" stroke-width="0.5" stroke-dasharray="3,0.6"/>
<line x1="335.1" y1="120.5" x2="525.6" y2="120.5" stroke="#b4b4b4" stroke-width="0.5" stroke-dasharray="3,0.9"/>
<line x1="335.1" y1="117.3" x2="525.6" y2="117.3" stroke="#b4b4b4" stroke-width="0.5" stroke-dasharray="3,0.9"/>
<line x1="335.1" y1="110.7" x2="525.6" y2="110.7" stroke="#b4b4b4" stroke-width="0.5" stroke-dasharray="3,0.9"/>
<line x1="335.1" y1="107.5" x2="525.6" y2="107.5" stroke="#b4b4b4" stroke-width="0.5" stroke-dasharray="3,0.9"/>
<line x1="335.1" y1="104.2" x2="525.6" y2="104.2" stroke="#b4b4b4" stroke-width="0.5" stroke-dasharray="3,0.9"/>
<line x1="335.1" y1="101" x2="525.6" y2="101" stroke="#b4b4b4" stroke-width="0.5" stroke-dasharray="3,0.9"/>
<line x1="335.1" y1="94.4" x2="525.6" y2="94.4" stroke="#b4b4b4" stroke-width="0.5" stroke-dasharray="3,0.9"/>
<line x1="335.1" y1="91.2" x2="525.6" y2="91.2" stroke="#b4b4b4" stroke-width="0.5" stroke-dasharray="3,0.9"/>
<line x1="335.1" y1="87.9" x2="525.6" y2="87.9" stroke="#b4b4b4" stroke-width="0.5" stroke-dasharray="3,0.9"/>
<line x1="335.1" y1="84.7" x2="525.6" y2="84.7" stroke="#b4b4b4" stroke-width="0.5" stroke-dasharray="3,0.9"/>
<line x1="335.1" y1="78.1" x2="525.6" y2="78.1" stroke="#b4b4b4" stroke-width="0.5" stroke-dasharray="3,0.9"/>
<line x1="335.1" y1="74.9" x2="525.6" y2="74.9" stroke="#b4b4b4" stroke-width="0.5" stroke-dasharray="3,0.9"/>
<line x1="343.5" y1="71.9" x2="343.5" y2="123.9" stroke="#858585" stroke-width="0.7"/>
<line x1="380" y1="71.9" x2="380" y2="123.9" stroke="#858585" stroke-width="0.7"/>
<line x1="416.5" y1="71.9" x2="416.5" y2="123.9" stroke="#858585" stroke-width="0.7"/>
<line x1="453" y1="71.9" x2="453" y2="123.9" stroke="#858585" stroke-width="0.7"/>
<line x1="489.5" y1="71.9" x2="489.5" y2="123.9" stroke="#858585" stroke-width="0.7"/>
<line x1="335.1" y1="114" x2="525.6" y2="114" stroke="#b4b4b4" stroke-width="0.5" stroke-dasharray="3,0.9"/>
<line x1="335.1" y1="81.4" x2="525.6" y2="81.4" stroke="#7a7a7a" stroke-width="0.8"/>
<polyline points="357.7,98.9 357.9,99.4 358.2,99.8 358.5,100 358.7,99.9 359,99.5 359.2,99 359.5,98.4" fill="none" stroke="#1a1aff" stroke-width="1.3" stroke-linejoin="round"/>
<polyline points="390,99.3 390.2,98.2 390.5,97.1 390.8,96.3 391,95.9 391.3,96 391.5,96.4 391.8,96.8" fill="none" stroke="#1a1aff" stroke-width="1.3" stroke-linejoin="round"/>
<polyline points="442.8,101.3 443,102.8 443.3,104.7 443.6,106.9 443.8,109.4 444.1,112 444.3,114.6 444.6,116.8 444.8,118.5 445.1,119.5 445.3,119.6 445.6,118.7 445.8,116.9 446.1,114.4 446.3,111.2 446.6,107.7 446.8,103.9 447.1,100.2 447.3,96.6" fill="none" stroke="#1a1aff" stroke-width="1.3" stroke-linejoin="round"/>
<polyline points="447.3,96.6 447.6,93.1 447.8,90 448.1,87.2 448.3,84.6 448.6,82.3 448.8,80.3 449.1,78.6 449.3,77.2 449.6,76.1 449.8,75.4 450.1,75 450.3,75 450.6,75.3 450.8,76.1 451.1,77.1 451.3,78.4 451.6,79.9 451.8,81.7 452.1,83.5 452.3,85.5 452.6,87.4 452.8,89.4 453.1,91.3 453.3,93.2 453.6,95" fill="none" stroke="#1a1aff" stroke-width="1.3" stroke-linejoin="round"/>
<polyline points="454.3,99.9 454.6,101.2 454.8,102.4 455.1,103.4 455.3,104.2 455.6,104.8 455.8,105.1 456.1,105.1 456.4,105 456.6,104.7 456.9,104.1 457.1,103.5 457.4,102.8 457.6,102.1 457.9,101.4 458.1,100.7" fill="none" stroke="#1a1aff" stroke-width="1.3" stroke-linejoin="round"/>
<polyline points="490.4,98.5 490.7,99.1 491,99.8 491.2,100.2 491.5,99.9 491.7,98.8 492,97.1 492.3,95.4" fill="none" stroke="#1a1aff" stroke-width="1.3" stroke-linejoin="round"/>
<polyline points="503.4,107.1 503.6,106.3 503.9,105.5 504.1,104.7 504.4,104 504.7,103.4 504.9,102.8 505.2,102.2 505.4,101.5 505.7,100.8 505.9,100.1 506.2,99.5 506.4,98.9 506.7,98.5 506.9,98.2 507.2,98" fill="none" stroke="#1a1aff" stroke-width="1.3" stroke-linejoin="round"/>
<line x1="343.5" y1="97.7" x2="516.5" y2="97.7" stroke="#ff1a1a" stroke-width="1.2"/>
<polyline points="355.7,97.7 355.9,97.7 356.2,97.7 356.4,97.7 356.7,97.8 356.9,97.8 357.2,98 357.4,98.3 357.7,98.7 357.9,99.1 358.2,99.4 358.5,99.5 358.7,99.4 359,99.1 359.2,98.7 359.5,98.2 359.7,97.7 360,97.2 360.2,96.6 360.5,96 360.7,95.3 361,94.8 361.3,94.5 361.5,94.4 361.8,94.7 362,95.2 362.3,95.9 362.5,96.5 362.8,97 363,97.3 363.3,97.5 363.5,97.6 363.8,97.7 364.1,97.7 364.3,97.7 364.6,97.7" fill="none" stroke="#ff1a1a" stroke-width="1.5" stroke-linejoin="round"/>
<polyline points="375.2,97.7 375.4,97.7 375.7,97.7 375.9,97.8 376.2,98 376.4,98.5 376.7,99.4 376.9,100.9 377.2,102.7 377.4,104.2 377.7,104.8 378,104.2 378.2,102.7 378.5,100.9 378.7,99.4 379,98.5 379.2,98 379.5,97.8 379.7,97.7 380,97.7 380.2,97.7" fill="none" stroke="#ff1a1a" stroke-width="1.5" stroke-linejoin="round"/>
<polyline points="387,97.7 387.2,97.7 387.5,97.7 387.7,97.7 388,97.8 388.2,98 388.5,98.4 388.7,99 389,99.7 389.2,100.3 389.5,100.5 389.7,100.2 390,99.4 390.2,98.4 390.5,97.4 390.8,96.7 391,96.4 391.3,96.5 391.5,96.7 391.8,97.1 392,97.4 392.3,97.5 392.5,97.6 392.8,97.7 393,97.7 393.3,97.7 393.5,97.7" fill="none" stroke="#ff1a1a" stroke-width="1.5" stroke-linejoin="round"/>
<polyline points="398.1,97.7 398.3,97.7 398.6,97.7 398.8,97.7 399.1,97.6 399.4,97.5 399.6,97.4 399.9,97.1 400.1,96.7 400.4,96.3 400.6,96 400.9,95.9 401.2,96 401.4,96.3 401.7,96.7 401.9,97.1 402.2,97.4 402.4,97.5 402.7,97.6 403,97.7 403.2,97.7 403.5,97.7 403.7,97.7" fill="none" stroke="#ff1a1a" stroke-width="1.5" stroke-linejoin="round"/>
<polyline points="440.5,97.7 440.8,97.8 441,97.8 441.3,97.9 441.5,98 441.8,98.3 442,98.6 442.3,99.2 442.5,100 442.8,101 443,102.5 443.3,104.2 443.6,106.3 443.8,108.6 444.1,111.1 444.3,113.4 444.6,115.5 444.8,117.1 445.1,118 445.3,118.1 445.6,117.3 445.8,115.7 446.1,113.3 446.3,110.3 446.6,107 446.8,103.5 447.1,100 447.3,96.6 447.6,93.4 447.8,90.5 448.1,87.9 448.3,85.5 448.6,83.3 448.8,81.5 449.1,79.9 449.3,78.5 449.6,77.5 449.8,76.8 450.1,76.5 450.3,76.5 450.6,76.8 450.8,77.5 451.1,78.5 451.3,79.7 451.6,81.1 451.8,82.7 452.1,84.5 452.3,86.3 452.6,88.1 452.8,89.9 453.1,91.7 453.3,93.5 453.6,95.2 453.8,96.8 454.1,98.3 454.3,99.7 454.6,100.9 454.8,102 455.1,102.9 455.3,103.7 455.6,104.2 455.8,104.4 456.1,104.5 456.4,104.4 456.6,104.1 456.9,103.6 457.1,103 457.4,102.4 457.6,101.7 457.9,101.1 458.1,100.5 458.4,99.9 458.6,99.4 458.9,99 459.1,98.7 459.4,98.4 459.6,98.2 459.9,98 460.1,97.9 460.4,97.8 460.6,97.8 460.9,97.8 461.1,97.7 461.4,97.7 461.6,97.7" fill="none" stroke="#ff1a1a" stroke-width="1.5" stroke-linejoin="round"/>
<polyline points="488.9,97.7 489.1,97.7 489.4,97.7 489.7,97.7 489.9,97.8 490.2,98 490.4,98.3 490.7,98.9 491,99.4 491.2,99.6 491.5,99.3 491.7,98.3 492,96.7 492.3,95.2 492.5,94.2 492.8,94.1 493,94.8 493.3,95.7 493.6,96.6 493.8,97.2 494.1,97.5 494.3,97.6 494.6,97.7 494.9,97.7 495.1,97.7" fill="none" stroke="#ff1a1a" stroke-width="1.5" stroke-linejoin="round"/>
<polyline points="496.8,97.7 497,97.7 497.3,97.8 497.5,97.8 497.8,97.8 498,97.9 498.3,98 498.6,98.2 498.8,98.5 499.1,98.8 499.3,99.2 499.6,99.7 499.8,100.4 500.1,101.1 500.3,102 500.6,103 500.8,104 501.1,105.1 501.4,106 501.6,106.9 501.9,107.7 502.1,108.2 502.4,108.5 502.6,108.5 502.9,108.2 503.1,107.7 503.4,107 503.6,106.1 503.9,105.1 504.1,104.1 504.4,103 504.7,102.1 504.9,101.2 505.2,100.4 505.4,99.8 505.7,99.2 505.9,98.8 506.2,98.5 506.4,98.2 506.7,98.1 506.9,97.9 507.2,97.8 507.4,97.8 507.7,97.8 508,97.7 508.2,97.7 508.5,97.7" fill="none" stroke="#ff1a1a" stroke-width="1.5" stroke-linejoin="round"/>
<line x1="343.5" y1="97.7" x2="516.5" y2="97.7" stroke="#238e23" stroke-width="0.9" stroke-dasharray="1.4,1.4"/>
<polyline points="358,97.7 358.6,90.2 359.3,96 360,93 360.8,101.2 361.6,96 362.4,97.7" fill="none" stroke="#238e23" stroke-width="0.8" stroke-linejoin="round" stroke-dasharray="2.8,0.9"/>
<polyline points="377.4,97.7 378,92.6 378.6,97.7" fill="none" stroke="#238e23" stroke-width="0.8" stroke-linejoin="round" stroke-dasharray="2.8,0.9"/>
<polyline points="381.5,97.7 382.1,93 382.7,97.7" fill="none" stroke="#238e23" stroke-width="0.8" stroke-linejoin="round" stroke-dasharray="2.8,0.9"/>
<polyline points="387.8,97.7 388.5,91.4 389.3,97 390.3,93.5 391,103.6 391.7,97.7" fill="none" stroke="#238e23" stroke-width="0.8" stroke-linejoin="round" stroke-dasharray="2.8,0.9"/>
<polyline points="400.4,97.7 401,108.5 401.6,97.7" fill="none" stroke="#238e23" stroke-width="0.8" stroke-linejoin="round" stroke-dasharray="2.8,0.9"/>
<polyline points="443,97.7 443.8,85.3 444.6,92 445.4,88 446.2,97.7" fill="none" stroke="#238e23" stroke-width="0.8" stroke-linejoin="round" stroke-dasharray="2.8,0.9"/>
<polyline points="446.6,97.7 447.2,121.3 447.8,97.7" fill="none" stroke="#238e23" stroke-width="0.8" stroke-linejoin="round" stroke-dasharray="2.8,0.9"/>
<polyline points="450,97.7 450.8,104 451.6,99 452.4,103 453.2,97.7" fill="none" stroke="#238e23" stroke-width="0.8" stroke-linejoin="round" stroke-dasharray="2.8,0.9"/>
<polyline points="456.8,97.7 457.5,84 458.2,92 458.8,97.7" fill="none" stroke="#238e23" stroke-width="0.8" stroke-linejoin="round" stroke-dasharray="2.8,0.9"/>
<polyline points="491.4,97.7 492,93.2 492.6,97 493.6,80.4 494.3,95 495,97.7" fill="none" stroke="#238e23" stroke-width="0.8" stroke-linejoin="round" stroke-dasharray="2.8,0.9"/>
<polyline points="499.4,97.7 500,112.2 500.6,100 501.2,97.7" fill="none" stroke="#238e23" stroke-width="0.8" stroke-linejoin="round" stroke-dasharray="2.8,0.9"/>
<polyline points="501.9,97.7 502.5,79.2 503,120.1 503.6,97.7" fill="none" stroke="#238e23" stroke-width="0.8" stroke-linejoin="round" stroke-dasharray="2.8,0.9"/>
<polyline points="505,97.7 505.6,94 506.2,97.7" fill="none" stroke="#238e23" stroke-width="0.8" stroke-linejoin="round" stroke-dasharray="2.8,0.9"/>
<rect x="335.1" y="71.9" width="190.5" height="52" fill="none" stroke="#303030" stroke-width="0.65"/>
<line x1="336.2" y1="123.9" x2="336.2" y2="124.9" stroke="#303030" stroke-width="0.6"/>
<line x1="343.5" y1="123.9" x2="343.5" y2="125.7" stroke="#303030" stroke-width="0.6"/>
<line x1="350.8" y1="123.9" x2="350.8" y2="124.9" stroke="#303030" stroke-width="0.6"/>
<line x1="358.1" y1="123.9" x2="358.1" y2="124.9" stroke="#303030" stroke-width="0.6"/>
<line x1="365.4" y1="123.9" x2="365.4" y2="124.9" stroke="#303030" stroke-width="0.6"/>
<line x1="372.7" y1="123.9" x2="372.7" y2="124.9" stroke="#303030" stroke-width="0.6"/>
<line x1="380" y1="123.9" x2="380" y2="125.7" stroke="#303030" stroke-width="0.6"/>
<line x1="387.3" y1="123.9" x2="387.3" y2="124.9" stroke="#303030" stroke-width="0.6"/>
<line x1="394.6" y1="123.9" x2="394.6" y2="124.9" stroke="#303030" stroke-width="0.6"/>
<line x1="401.9" y1="123.9" x2="401.9" y2="124.9" stroke="#303030" stroke-width="0.6"/>
<line x1="409.2" y1="123.9" x2="409.2" y2="124.9" stroke="#303030" stroke-width="0.6"/>
<line x1="416.5" y1="123.9" x2="416.5" y2="125.7" stroke="#303030" stroke-width="0.6"/>
<line x1="423.8" y1="123.9" x2="423.8" y2="124.9" stroke="#303030" stroke-width="0.6"/>
<line x1="431.1" y1="123.9" x2="431.1" y2="124.9" stroke="#303030" stroke-width="0.6"/>
<line x1="438.4" y1="123.9" x2="438.4" y2="124.9" stroke="#303030" stroke-width="0.6"/>
<line x1="445.7" y1="123.9" x2="445.7" y2="124.9" stroke="#303030" stroke-width="0.6"/>
<line x1="453" y1="123.9" x2="453" y2="125.7" stroke="#303030" stroke-width="0.6"/>
<line x1="460.3" y1="123.9" x2="460.3" y2="124.9" stroke="#303030" stroke-width="0.6"/>
<line x1="467.6" y1="123.9" x2="467.6" y2="124.9" stroke="#303030" stroke-width="0.6"/>
<line x1="474.9" y1="123.9" x2="474.9" y2="124.9" stroke="#303030" stroke-width="0.6"/>
<line x1="482.2" y1="123.9" x2="482.2" y2="124.9" stroke="#303030" stroke-width="0.6"/>
<line x1="489.5" y1="123.9" x2="489.5" y2="125.7" stroke="#303030" stroke-width="0.6"/>
<line x1="496.8" y1="123.9" x2="496.8" y2="124.9" stroke="#303030" stroke-width="0.6"/>
<line x1="504.1" y1="123.9" x2="504.1" y2="124.9" stroke="#303030" stroke-width="0.6"/>
<line x1="511.4" y1="123.9" x2="511.4" y2="124.9" stroke="#303030" stroke-width="0.6"/>
<line x1="518.7" y1="123.9" x2="518.7" y2="124.9" stroke="#303030" stroke-width="0.6"/>
<line x1="335.1" y1="123.8" x2="334.1" y2="123.8" stroke="#303030" stroke-width="0.6"/>
<line x1="335.1" y1="120.5" x2="334.1" y2="120.5" stroke="#303030" stroke-width="0.6"/>
<line x1="335.1" y1="117.3" x2="334.1" y2="117.3" stroke="#303030" stroke-width="0.6"/>
<line x1="335.1" y1="114" x2="333.3" y2="114" stroke="#303030" stroke-width="0.6"/>
<line x1="335.1" y1="110.7" x2="334.1" y2="110.7" stroke="#303030" stroke-width="0.6"/>
<line x1="335.1" y1="107.5" x2="334.1" y2="107.5" stroke="#303030" stroke-width="0.6"/>
<line x1="335.1" y1="104.2" x2="334.1" y2="104.2" stroke="#303030" stroke-width="0.6"/>
<line x1="335.1" y1="101" x2="334.1" y2="101" stroke="#303030" stroke-width="0.6"/>
<line x1="335.1" y1="97.7" x2="333.3" y2="97.7" stroke="#303030" stroke-width="0.6"/>
<line x1="335.1" y1="94.4" x2="334.1" y2="94.4" stroke="#303030" stroke-width="0.6"/>
<line x1="335.1" y1="91.2" x2="334.1" y2="91.2" stroke="#303030" stroke-width="0.6"/>
<line x1="335.1" y1="87.9" x2="334.1" y2="87.9" stroke="#303030" stroke-width="0.6"/>
<line x1="335.1" y1="84.7" x2="334.1" y2="84.7" stroke="#303030" stroke-width="0.6"/>
<line x1="335.1" y1="81.4" x2="333.3" y2="81.4" stroke="#303030" stroke-width="0.6"/>
<line x1="335.1" y1="78.1" x2="334.1" y2="78.1" stroke="#303030" stroke-width="0.6"/>
<line x1="335.1" y1="74.9" x2="334.1" y2="74.9" stroke="#303030" stroke-width="0.6"/>
<line x1="525.6" y1="80" x2="527.4" y2="80" stroke="#303030" stroke-width="0.6"/>
<line x1="525.6" y1="97.8" x2="527.4" y2="97.8" stroke="#303030" stroke-width="0.6"/>
<line x1="525.6" y1="116" x2="527.4" y2="116" stroke="#303030" stroke-width="0.6"/>
<line x1="525.6" y1="75.5" x2="526.6" y2="75.5" stroke="#303030" stroke-width="0.5"/>
<line x1="525.6" y1="84.5" x2="526.6" y2="84.5" stroke="#303030" stroke-width="0.5"/>
<line x1="525.6" y1="88.9" x2="526.6" y2="88.9" stroke="#303030" stroke-width="0.5"/>
<line x1="525.6" y1="93.3" x2="526.6" y2="93.3" stroke="#303030" stroke-width="0.5"/>
<line x1="525.6" y1="102.2" x2="526.6" y2="102.2" stroke="#303030" stroke-width="0.5"/>
<line x1="525.6" y1="106.7" x2="526.6" y2="106.7" stroke="#303030" stroke-width="0.5"/>
<line x1="525.6" y1="111.1" x2="526.6" y2="111.1" stroke="#303030" stroke-width="0.5"/>
<line x1="525.6" y1="120" x2="526.6" y2="120" stroke="#303030" stroke-width="0.5"/>
<text x="331.4" y="83.3" font-size="5.6" text-anchor="end">10</text>
<text x="331.4" y="99.6" font-size="5.6" text-anchor="end">0</text>
<text x="331.4" y="115.9" font-size="5.6" text-anchor="end">−10</text>
<text x="528.8" y="81.9" font-size="5.6" text-anchor="start">2</text>
<text x="528.8" y="99.7" font-size="5.6" text-anchor="start">0</text>
<text x="528.8" y="117.9" font-size="5.6" text-anchor="start">−2</text>
<text transform="translate(318.4,97.9) rotate(-90)" font-size="6" text-anchor="middle" style="fill:#222"><tspan font-style="italic">F</tspan><tspan font-size="4.2" font-style="italic" dy="1.3">y</tspan><tspan dy="-1.3"> (N)</tspan></text>
<text class="sans" transform="translate(541.9,97.9) rotate(-90)" font-size="5.8" text-anchor="middle" textLength="19.8" lengthAdjust="spacingAndGlyphs">Error (N)</text>
</g>
<g>
<line x1="336.2" y1="134.3" x2="336.2" y2="186.3" stroke="#c4c4c4" stroke-width="0.5" stroke-dasharray="3,0.6"/>
<line x1="350.8" y1="134.3" x2="350.8" y2="186.3" stroke="#c4c4c4" stroke-width="0.5" stroke-dasharray="3,0.6"/>
<line x1="358.1" y1="134.3" x2="358.1" y2="186.3" stroke="#c4c4c4" stroke-width="0.5" stroke-dasharray="3,0.6"/>
<line x1="365.4" y1="134.3" x2="365.4" y2="186.3" stroke="#c4c4c4" stroke-width="0.5" stroke-dasharray="3,0.6"/>
<line x1="372.7" y1="134.3" x2="372.7" y2="186.3" stroke="#c4c4c4" stroke-width="0.5" stroke-dasharray="3,0.6"/>
<line x1="387.3" y1="134.3" x2="387.3" y2="186.3" stroke="#c4c4c4" stroke-width="0.5" stroke-dasharray="3,0.6"/>
<line x1="394.6" y1="134.3" x2="394.6" y2="186.3" stroke="#c4c4c4" stroke-width="0.5" stroke-dasharray="3,0.6"/>
<line x1="401.9" y1="134.3" x2="401.9" y2="186.3" stroke="#c4c4c4" stroke-width="0.5" stroke-dasharray="3,0.6"/>
<line x1="409.2" y1="134.3" x2="409.2" y2="186.3" stroke="#c4c4c4" stroke-width="0.5" stroke-dasharray="3,0.6"/>
<line x1="423.8" y1="134.3" x2="423.8" y2="186.3" stroke="#c4c4c4" stroke-width="0.5" stroke-dasharray="3,0.6"/>
<line x1="431.1" y1="134.3" x2="431.1" y2="186.3" stroke="#c4c4c4" stroke-width="0.5" stroke-dasharray="3,0.6"/>
<line x1="438.4" y1="134.3" x2="438.4" y2="186.3" stroke="#c4c4c4" stroke-width="0.5" stroke-dasharray="3,0.6"/>
<line x1="445.7" y1="134.3" x2="445.7" y2="186.3" stroke="#c4c4c4" stroke-width="0.5" stroke-dasharray="3,0.6"/>
<line x1="460.3" y1="134.3" x2="460.3" y2="186.3" stroke="#c4c4c4" stroke-width="0.5" stroke-dasharray="3,0.6"/>
<line x1="467.6" y1="134.3" x2="467.6" y2="186.3" stroke="#c4c4c4" stroke-width="0.5" stroke-dasharray="3,0.6"/>
<line x1="474.9" y1="134.3" x2="474.9" y2="186.3" stroke="#c4c4c4" stroke-width="0.5" stroke-dasharray="3,0.6"/>
<line x1="482.2" y1="134.3" x2="482.2" y2="186.3" stroke="#c4c4c4" stroke-width="0.5" stroke-dasharray="3,0.6"/>
<line x1="496.8" y1="134.3" x2="496.8" y2="186.3" stroke="#c4c4c4" stroke-width="0.5" stroke-dasharray="3,0.6"/>
<line x1="504.1" y1="134.3" x2="504.1" y2="186.3" stroke="#c4c4c4" stroke-width="0.5" stroke-dasharray="3,0.6"/>
<line x1="511.4" y1="134.3" x2="511.4" y2="186.3" stroke="#c4c4c4" stroke-width="0.5" stroke-dasharray="3,0.6"/>
<line x1="518.7" y1="134.3" x2="518.7" y2="186.3" stroke="#c4c4c4" stroke-width="0.5" stroke-dasharray="3,0.6"/>
<line x1="335.1" y1="184.7" x2="525.6" y2="184.7" stroke="#b4b4b4" stroke-width="0.5" stroke-dasharray="3,0.9"/>
<line x1="335.1" y1="181.6" x2="525.6" y2="181.6" stroke="#b4b4b4" stroke-width="0.5" stroke-dasharray="3,0.9"/>
<line x1="335.1" y1="178.6" x2="525.6" y2="178.6" stroke="#b4b4b4" stroke-width="0.5" stroke-dasharray="3,0.9"/>
<line x1="335.1" y1="172.6" x2="525.6" y2="172.6" stroke="#b4b4b4" stroke-width="0.5" stroke-dasharray="3,0.9"/>
<line x1="335.1" y1="169.6" x2="525.6" y2="169.6" stroke="#b4b4b4" stroke-width="0.5" stroke-dasharray="3,0.9"/>
<line x1="335.1" y1="166.5" x2="525.6" y2="166.5" stroke="#b4b4b4" stroke-width="0.5" stroke-dasharray="3,0.9"/>
<line x1="335.1" y1="163.5" x2="525.6" y2="163.5" stroke="#b4b4b4" stroke-width="0.5" stroke-dasharray="3,0.9"/>
<line x1="335.1" y1="157.5" x2="525.6" y2="157.5" stroke="#b4b4b4" stroke-width="0.5" stroke-dasharray="3,0.9"/>
<line x1="335.1" y1="154.5" x2="525.6" y2="154.5" stroke="#b4b4b4" stroke-width="0.5" stroke-dasharray="3,0.9"/>
<line x1="335.1" y1="151.4" x2="525.6" y2="151.4" stroke="#b4b4b4" stroke-width="0.5" stroke-dasharray="3,0.9"/>
<line x1="335.1" y1="148.4" x2="525.6" y2="148.4" stroke="#b4b4b4" stroke-width="0.5" stroke-dasharray="3,0.9"/>
<line x1="335.1" y1="142.4" x2="525.6" y2="142.4" stroke="#b4b4b4" stroke-width="0.5" stroke-dasharray="3,0.9"/>
<line x1="335.1" y1="139.4" x2="525.6" y2="139.4" stroke="#b4b4b4" stroke-width="0.5" stroke-dasharray="3,0.9"/>
<line x1="335.1" y1="136.3" x2="525.6" y2="136.3" stroke="#b4b4b4" stroke-width="0.5" stroke-dasharray="3,0.9"/>
<line x1="343.5" y1="134.3" x2="343.5" y2="186.3" stroke="#858585" stroke-width="0.7"/>
<line x1="380" y1="134.3" x2="380" y2="186.3" stroke="#858585" stroke-width="0.7"/>
<line x1="416.5" y1="134.3" x2="416.5" y2="186.3" stroke="#858585" stroke-width="0.7"/>
<line x1="453" y1="134.3" x2="453" y2="186.3" stroke="#858585" stroke-width="0.7"/>
<line x1="489.5" y1="134.3" x2="489.5" y2="186.3" stroke="#858585" stroke-width="0.7"/>
<line x1="335.1" y1="175.6" x2="525.6" y2="175.6" stroke="#7a7a7a" stroke-width="0.8"/>
<line x1="335.1" y1="145.4" x2="525.6" y2="145.4" stroke="#7a7a7a" stroke-width="0.8"/>
<polyline points="355.9,161 356.2,161.4 356.4,162 356.7,162.8 356.9,163.9 357.2,165.1 357.4,166.2 357.7,167.3 357.9,168.1 358.2,168.8 358.4,169.5 358.7,170.2 358.9,170.9 359.2,171.5 359.4,172" fill="none" stroke="#1a1aff" stroke-width="1.3" stroke-linejoin="round"/>
<polyline points="373.8,161.5 374.1,161.9 374.3,162.6 374.6,163.5 374.8,164.8 375.1,166.4 375.3,168.1 375.6,169.9 375.9,171.5 376.1,172.8 376.4,173.7 376.6,174.4 376.9,174.9 377.1,175.5 377.4,176 377.6,176.6 377.9,177.2 378.1,177.6" fill="none" stroke="#1a1aff" stroke-width="1.3" stroke-linejoin="round"/>
<polyline points="450.4,165.2 450.7,166.3 450.9,167.4 451.2,168.8 451.4,170.2 451.7,171.8 451.9,173.4 452.2,175.1 452.4,176.8 452.7,178.5 452.9,180 453.2,181.4 453.4,182.6 453.7,183.6 454,184.3 454.2,184.7 454.5,184.8 454.7,184.6 455,184 455.2,183.2 455.5,182.1 455.7,180.8 456,179.3 456.2,177.7 456.5,176 456.7,174.4 457,172.7 457.2,171.1 457.5,169.6 457.7,168.2 458,166.9 458.2,165.8 458.5,164.8" fill="none" stroke="#1a1aff" stroke-width="1.3" stroke-linejoin="round"/>
<polyline points="492.2,161.5 492.4,162 492.7,162.5 492.9,162.9 493.2,163.2 493.4,163.2 493.7,162.9 493.9,162.5 494.2,162 494.4,161.5" fill="none" stroke="#1a1aff" stroke-width="1.3" stroke-linejoin="round"/>
<polyline points="501.3,164.8 501.6,165.6 501.8,166.5 502.1,167.5 502.3,168.4 502.6,169.4 502.8,170.4 503.1,171.3 503.3,172.1 503.6,172.7 503.8,173.2 504.1,173.5 504.3,173.6 504.6,173.5 504.8,173.2 505.1,172.7 505.3,172.1 505.6,171.4 505.8,170.6 506.1,169.7 506.3,168.9 506.6,168.2 506.8,167.5 507.1,166.9 507.3,166.3 507.6,165.8 507.8,165.3 508.1,164.8 508.3,164.2 508.6,163.6 508.8,163 509.1,162.4 509.3,161.9 509.6,161.5 509.8,161.2 510.1,161 510.3,160.8" fill="none" stroke="#1a1aff" stroke-width="1.3" stroke-linejoin="round"/>
<line x1="343.5" y1="160.5" x2="516.5" y2="160.5" stroke="#ff1a1a" stroke-width="1.2"/>
<polyline points="354.4,160.5 354.7,160.5 354.9,160.6 355.2,160.6 355.4,160.7 355.7,160.8 355.9,160.9 356.2,161.1 356.4,161.4 356.7,161.8 356.9,162.3 357.2,163 357.4,163.8 357.7,164.8 357.9,165.9 358.2,167 358.4,168.2 358.7,169.4 358.9,170.4 359.2,171.3 359.4,171.9 359.7,172.3 359.9,172.3 360.2,171.9 360.4,171.3 360.7,170.4 360.9,169.4 361.2,168.2 361.4,167 361.7,165.9 361.9,164.8 362.2,163.8 362.4,163 362.7,162.3 362.9,161.8 363.2,161.4 363.4,161.1 363.7,160.9 363.9,160.8 364.2,160.7 364.4,160.6 364.7,160.6 364.9,160.5 365.2,160.5" fill="none" stroke="#ff1a1a" stroke-width="1.5" stroke-linejoin="round"/>
<polyline points="371.8,160.5 372.1,160.6 372.3,160.6 372.6,160.6 372.8,160.7 373.1,160.8 373.3,160.9 373.6,161.1 373.8,161.4 374.1,161.7 374.3,162.1 374.6,162.6 374.8,163.2 375.1,164 375.3,164.9 375.6,165.9 375.9,167.1 376.1,168.3 376.4,169.7 376.6,171 376.9,172.4 377.1,173.8 377.4,175 377.6,176 377.9,176.9 378.1,177.5 378.4,177.8 378.6,177.8 378.9,177.5 379.1,176.9 379.4,176 379.6,175 379.9,173.8 380.1,172.4 380.4,171 380.6,169.7 380.9,168.3 381.1,167.1 381.4,165.9 381.7,164.9 381.9,164 382.2,163.2 382.4,162.6 382.7,162.1 382.9,161.7 383.2,161.4 383.4,161.1 383.7,160.9 383.9,160.8 384.2,160.7 384.4,160.6 384.7,160.6 384.9,160.6 385.2,160.5" fill="none" stroke="#ff1a1a" stroke-width="1.5" stroke-linejoin="round"/>
<polyline points="386.8,160.5 387,160.5 387.3,160.5 387.5,160.6 387.8,160.8 388,161.3 388.3,162.2 388.5,163.7 388.8,165.4 389,166.9 389.3,167.5 389.6,166.9 389.8,165.4 390.1,163.7 390.3,162.2 390.6,161.3 390.8,160.8 391.1,160.6 391.3,160.5 391.6,160.5 391.8,160.5" fill="none" stroke="#ff1a1a" stroke-width="1.5" stroke-linejoin="round"/>
<polyline points="397,160.5 397.2,160.5 397.5,160.6 397.8,160.6 398,160.8 398.3,161 398.5,161.5 398.8,162.1 399,163.1 399.3,164.4 399.6,166.1 399.8,168 400.1,170.1 400.3,172.1 400.6,173.9 400.8,175 401.1,175.4 401.4,175 401.6,173.9 401.9,172.1 402.1,170.1 402.4,168 402.6,166.1 402.9,164.4 403.2,163.1 403.4,162.1 403.7,161.5 403.9,161 404.2,160.8 404.4,160.6 404.7,160.6 405,160.5 405.2,160.5" fill="none" stroke="#ff1a1a" stroke-width="1.5" stroke-linejoin="round"/>
<polyline points="441.8,160.5 442.1,160.5 442.3,160.5 442.6,160.5 442.8,160.6 443.1,160.7 443.3,160.9 443.6,161.1 443.8,161.6 444.1,162.1 444.3,162.7 444.6,163.4 444.9,163.9 445.1,164.3 445.4,164.4 445.6,164.2 445.9,163.7 446.1,163.1 446.4,162.5 446.6,161.9 446.9,161.4 447.1,161.1 447.4,160.9 447.6,160.8 447.9,160.8 448.1,160.9 448.4,161.1 448.6,161.3 448.9,161.5 449.1,161.8 449.4,162.2 449.7,162.7 449.9,163.3 450.2,164.1 450.4,164.9 450.7,165.9 450.9,167.1 451.2,168.3 451.4,169.7 451.7,171.1 451.9,172.7 452.2,174.3 452.4,175.9 452.7,177.4 452.9,178.9 453.2,180.2 453.4,181.3 453.7,182.3 454,182.9 454.2,183.3 454.5,183.4 454.7,183.2 455,182.7 455.2,181.9 455.5,180.9 455.7,179.6 456,178.2 456.2,176.7 456.5,175.2 456.7,173.6 457,172 457.2,170.5 457.5,169 457.7,167.7 458,166.5 458.2,165.5 458.5,164.5 458.8,163.7 459,163.1 459.3,162.5 459.5,162 459.8,161.7 460,161.4 460.3,161.2 460.5,161 460.8,160.8 461,160.7 461.3,160.7 461.5,160.6 461.8,160.6 462,160.6" fill="none" stroke="#ff1a1a" stroke-width="1.5" stroke-linejoin="round"/>
<polyline points="490.1,160.5 490.4,160.5 490.6,160.5 490.9,160.5 491.2,160.6 491.4,160.6 491.7,160.8 491.9,161 492.2,161.3 492.4,161.7 492.7,162.1 492.9,162.4 493.2,162.6 493.4,162.6 493.7,162.4 493.9,162.1 494.2,161.7 494.4,161.3 494.7,161 494.9,160.8 495.2,160.6 495.4,160.6 495.7,160.5 496,160.5 496.2,160.5 496.5,160.5" fill="none" stroke="#ff1a1a" stroke-width="1.5" stroke-linejoin="round"/>
<polyline points="497.3,160.5 497.6,160.5 497.8,160.6 498.1,160.6 498.3,160.6 498.6,160.7 498.8,160.8 499.1,160.9 499.3,161 499.6,161.2 499.8,161.5 500.1,161.8 500.3,162.2 500.6,162.6 500.8,163.1 501.1,163.8 501.3,164.5 501.6,165.3 501.8,166.1 502.1,167 502.3,167.9 502.6,168.8 502.8,169.7 503.1,170.6 503.3,171.3 503.6,171.9 503.8,172.4 504.1,172.6 504.3,172.7 504.6,172.6 504.8,172.4 505.1,171.9 505.3,171.3 505.6,170.6 505.8,169.7 506.1,168.8 506.3,167.9 506.6,167 506.8,166.1 507.1,165.3 507.3,164.5 507.6,163.8 507.8,163.1 508.1,162.6 508.3,162.2 508.6,161.8 508.8,161.5 509.1,161.2 509.3,161 509.6,160.9 509.8,160.8 510.1,160.7 510.3,160.6 510.6,160.6 510.8,160.6 511.1,160.5 511.3,160.5 511.6,160.5 511.8,160.5" fill="none" stroke="#ff1a1a" stroke-width="1.5" stroke-linejoin="round"/>
<line x1="343.5" y1="160.5" x2="516.5" y2="160.5" stroke="#238e23" stroke-width="0.9" stroke-dasharray="1.4,1.4"/>
<polyline points="345.6,160.5 346.1,157 346.6,160.5" fill="none" stroke="#238e23" stroke-width="0.8" stroke-linejoin="round" stroke-dasharray="2.8,0.9"/>
<polyline points="357.4,160.5 358,141.8 358.7,152 359.4,150 360,160.5" fill="none" stroke="#238e23" stroke-width="0.8" stroke-linejoin="round" stroke-dasharray="2.8,0.9"/>
<polyline points="360.8,160.5 361.5,152.2 362.2,160.5" fill="none" stroke="#238e23" stroke-width="0.8" stroke-linejoin="round" stroke-dasharray="2.8,0.9"/>
<polyline points="374.6,160.5 375.2,150 376,143.6 376.8,152 377.6,145 378.4,150 379.3,147 380.2,155 381.2,150 382.2,160.5" fill="none" stroke="#238e23" stroke-width="0.8" stroke-linejoin="round" stroke-dasharray="2.8,0.9"/>
<polyline points="387.6,160.5 388.2,152 389,179 389.8,154.6 390.6,170 391.4,160.5" fill="none" stroke="#238e23" stroke-width="0.8" stroke-linejoin="round" stroke-dasharray="2.8,0.9"/>
<polyline points="398.4,160.5 399,153.4 399.8,160 400.5,136.9 401.2,160.5" fill="none" stroke="#238e23" stroke-width="0.8" stroke-linejoin="round" stroke-dasharray="2.8,0.9"/>
<polyline points="443.4,160.5 444.2,155.2 445,160.5" fill="none" stroke="#238e23" stroke-width="0.8" stroke-linejoin="round" stroke-dasharray="2.8,0.9"/>
<polyline points="449.8,160.5 450.8,168 451.8,178 452.6,182 453.2,160.5" fill="none" stroke="#238e23" stroke-width="0.8" stroke-linejoin="round" stroke-dasharray="2.8,0.9"/>
<polyline points="454.6,160.5 455.2,155.8 455.8,168 456.4,160.5" fill="none" stroke="#238e23" stroke-width="0.8" stroke-linejoin="round" stroke-dasharray="2.8,0.9"/>
<polyline points="458.4,160.5 459,155 459.6,160.5" fill="none" stroke="#238e23" stroke-width="0.8" stroke-linejoin="round" stroke-dasharray="2.8,0.9"/>
<polyline points="491.4,160.5 492,148.5 492.8,160 493.5,171.1 494.2,160.5" fill="none" stroke="#238e23" stroke-width="0.8" stroke-linejoin="round" stroke-dasharray="2.8,0.9"/>
<polyline points="500.2,160.5 500.9,156 501.6,163 502.2,148.5 503,158 503.8,152.2 504.6,156 505.4,150 506.2,155 507,152.2 508,160.5" fill="none" stroke="#238e23" stroke-width="0.8" stroke-linejoin="round" stroke-dasharray="2.8,0.9"/>
<rect x="335.1" y="134.3" width="190.5" height="52" fill="none" stroke="#303030" stroke-width="0.65"/>
<line x1="336.2" y1="186.3" x2="336.2" y2="187.3" stroke="#303030" stroke-width="0.6"/>
<line x1="343.5" y1="186.3" x2="343.5" y2="188.1" stroke="#303030" stroke-width="0.6"/>
<line x1="350.8" y1="186.3" x2="350.8" y2="187.3" stroke="#303030" stroke-width="0.6"/>
<line x1="358.1" y1="186.3" x2="358.1" y2="187.3" stroke="#303030" stroke-width="0.6"/>
<line x1="365.4" y1="186.3" x2="365.4" y2="187.3" stroke="#303030" stroke-width="0.6"/>
<line x1="372.7" y1="186.3" x2="372.7" y2="187.3" stroke="#303030" stroke-width="0.6"/>
<line x1="380" y1="186.3" x2="380" y2="188.1" stroke="#303030" stroke-width="0.6"/>
<line x1="387.3" y1="186.3" x2="387.3" y2="187.3" stroke="#303030" stroke-width="0.6"/>
<line x1="394.6" y1="186.3" x2="394.6" y2="187.3" stroke="#303030" stroke-width="0.6"/>
<line x1="401.9" y1="186.3" x2="401.9" y2="187.3" stroke="#303030" stroke-width="0.6"/>
<line x1="409.2" y1="186.3" x2="409.2" y2="187.3" stroke="#303030" stroke-width="0.6"/>
<line x1="416.5" y1="186.3" x2="416.5" y2="188.1" stroke="#303030" stroke-width="0.6"/>
<line x1="423.8" y1="186.3" x2="423.8" y2="187.3" stroke="#303030" stroke-width="0.6"/>
<line x1="431.1" y1="186.3" x2="431.1" y2="187.3" stroke="#303030" stroke-width="0.6"/>
<line x1="438.4" y1="186.3" x2="438.4" y2="187.3" stroke="#303030" stroke-width="0.6"/>
<line x1="445.7" y1="186.3" x2="445.7" y2="187.3" stroke="#303030" stroke-width="0.6"/>
<line x1="453" y1="186.3" x2="453" y2="188.1" stroke="#303030" stroke-width="0.6"/>
<line x1="460.3" y1="186.3" x2="460.3" y2="187.3" stroke="#303030" stroke-width="0.6"/>
<line x1="467.6" y1="186.3" x2="467.6" y2="187.3" stroke="#303030" stroke-width="0.6"/>
<line x1="474.9" y1="186.3" x2="474.9" y2="187.3" stroke="#303030" stroke-width="0.6"/>
<line x1="482.2" y1="186.3" x2="482.2" y2="187.3" stroke="#303030" stroke-width="0.6"/>
<line x1="489.5" y1="186.3" x2="489.5" y2="188.1" stroke="#303030" stroke-width="0.6"/>
<line x1="496.8" y1="186.3" x2="496.8" y2="187.3" stroke="#303030" stroke-width="0.6"/>
<line x1="504.1" y1="186.3" x2="504.1" y2="187.3" stroke="#303030" stroke-width="0.6"/>
<line x1="511.4" y1="186.3" x2="511.4" y2="187.3" stroke="#303030" stroke-width="0.6"/>
<line x1="518.7" y1="186.3" x2="518.7" y2="187.3" stroke="#303030" stroke-width="0.6"/>
<line x1="335.1" y1="184.7" x2="334.1" y2="184.7" stroke="#303030" stroke-width="0.6"/>
<line x1="335.1" y1="181.6" x2="334.1" y2="181.6" stroke="#303030" stroke-width="0.6"/>
<line x1="335.1" y1="178.6" x2="334.1" y2="178.6" stroke="#303030" stroke-width="0.6"/>
<line x1="335.1" y1="175.6" x2="333.3" y2="175.6" stroke="#303030" stroke-width="0.6"/>
<line x1="335.1" y1="172.6" x2="334.1" y2="172.6" stroke="#303030" stroke-width="0.6"/>
<line x1="335.1" y1="169.6" x2="334.1" y2="169.6" stroke="#303030" stroke-width="0.6"/>
<line x1="335.1" y1="166.5" x2="334.1" y2="166.5" stroke="#303030" stroke-width="0.6"/>
<line x1="335.1" y1="163.5" x2="334.1" y2="163.5" stroke="#303030" stroke-width="0.6"/>
<line x1="335.1" y1="160.5" x2="333.3" y2="160.5" stroke="#303030" stroke-width="0.6"/>
<line x1="335.1" y1="157.5" x2="334.1" y2="157.5" stroke="#303030" stroke-width="0.6"/>
<line x1="335.1" y1="154.5" x2="334.1" y2="154.5" stroke="#303030" stroke-width="0.6"/>
<line x1="335.1" y1="151.4" x2="334.1" y2="151.4" stroke="#303030" stroke-width="0.6"/>
<line x1="335.1" y1="148.4" x2="334.1" y2="148.4" stroke="#303030" stroke-width="0.6"/>
<line x1="335.1" y1="145.4" x2="333.3" y2="145.4" stroke="#303030" stroke-width="0.6"/>
<line x1="335.1" y1="142.4" x2="334.1" y2="142.4" stroke="#303030" stroke-width="0.6"/>
<line x1="335.1" y1="139.4" x2="334.1" y2="139.4" stroke="#303030" stroke-width="0.6"/>
<line x1="335.1" y1="136.3" x2="334.1" y2="136.3" stroke="#303030" stroke-width="0.6"/>
<line x1="525.6" y1="136.7" x2="527.4" y2="136.7" stroke="#303030" stroke-width="0.6"/>
<line x1="525.6" y1="160.4" x2="527.4" y2="160.4" stroke="#303030" stroke-width="0.6"/>
<line x1="525.6" y1="184.3" x2="527.4" y2="184.3" stroke="#303030" stroke-width="0.6"/>
<line x1="525.6" y1="142.6" x2="526.6" y2="142.6" stroke="#303030" stroke-width="0.5"/>
<line x1="525.6" y1="148.6" x2="526.6" y2="148.6" stroke="#303030" stroke-width="0.5"/>
<line x1="525.6" y1="154.5" x2="526.6" y2="154.5" stroke="#303030" stroke-width="0.5"/>
<line x1="525.6" y1="166.3" x2="526.6" y2="166.3" stroke="#303030" stroke-width="0.5"/>
<line x1="525.6" y1="172.2" x2="526.6" y2="172.2" stroke="#303030" stroke-width="0.5"/>
<line x1="525.6" y1="178.2" x2="526.6" y2="178.2" stroke="#303030" stroke-width="0.5"/>
<text x="331.4" y="147.3" font-size="5.6" text-anchor="end">10</text>
<text x="331.4" y="162.4" font-size="5.6" text-anchor="end">0</text>
<text x="331.4" y="177.5" font-size="5.6" text-anchor="end">−10</text>
<text x="528.8" y="138.6" font-size="5.6" text-anchor="start">2</text>
<text x="528.8" y="162.3" font-size="5.6" text-anchor="start">0</text>
<text x="528.8" y="186.2" font-size="5.6" text-anchor="start">−2</text>
<text transform="translate(318.4,160.3) rotate(-90)" font-size="6" text-anchor="middle" style="fill:#222"><tspan font-style="italic">F</tspan><tspan font-size="4.2" font-style="italic" dy="1.3">z</tspan><tspan dy="-1.3"> (N)</tspan></text>
<text class="sans" transform="translate(541.9,160.3) rotate(-90)" font-size="5.8" text-anchor="middle" textLength="19.8" lengthAdjust="spacingAndGlyphs">Error (N)</text>
</g>
<text x="343.5" y="194" font-size="5.6" text-anchor="middle">0</text>
<text x="380" y="194" font-size="5.6" text-anchor="middle">5</text>
<text x="416.5" y="194" font-size="5.6" text-anchor="middle">10</text>
<text x="453" y="194" font-size="5.6" text-anchor="middle">15</text>
<text x="489.5" y="194" font-size="5.6" text-anchor="middle">20</text>
<text x="430.3" y="201.4" font-size="5.8" text-anchor="middle" class="sans" textLength="19" lengthAdjust="spacingAndGlyphs">Time (s)</text>
<line x1="368.1" y1="204.8" x2="379.1" y2="204.8" stroke="#1a1aff" stroke-width="1.3"/>
<text x="382.4" y="206.8" font-size="5.8" text-anchor="start" class="sans" textLength="21.4" lengthAdjust="spacingAndGlyphs">Measured</text>
<line x1="414.7" y1="204.8" x2="425.6" y2="204.8" stroke="#ff1a1a" stroke-width="1.3"/>
<text x="429.2" y="206.8" font-size="5.8" text-anchor="start" class="sans" textLength="22.4" lengthAdjust="spacingAndGlyphs">Prediction</text>
<line x1="463" y1="204.8" x2="474" y2="204.8" stroke="#238e23" stroke-width="1" stroke-dasharray="1.9,1.0"/>
<text x="477.9" y="206.8" font-size="5.8" text-anchor="start" class="sans" textLength="10.2" lengthAdjust="spacingAndGlyphs">Error</text>
<text x="428.2" y="227.6" font-size="11.6" text-anchor="middle" font-weight="bold" style="fill:#111">(b)</text>
<g>
<line x1="33.6" y1="232.6" x2="33.6" y2="284.6" stroke="#c4c4c4" stroke-width="0.5" stroke-dasharray="3,0.6"/>
<line x1="47" y1="232.6" x2="47" y2="284.6" stroke="#c4c4c4" stroke-width="0.5" stroke-dasharray="3,0.6"/>
<line x1="53.7" y1="232.6" x2="53.7" y2="284.6" stroke="#c4c4c4" stroke-width="0.5" stroke-dasharray="3,0.6"/>
<line x1="60.4" y1="232.6" x2="60.4" y2="284.6" stroke="#c4c4c4" stroke-width="0.5" stroke-dasharray="3,0.6"/>
<line x1="67.1" y1="232.6" x2="67.1" y2="284.6" stroke="#c4c4c4" stroke-width="0.5" stroke-dasharray="3,0.6"/>
<line x1="80.4" y1="232.6" x2="80.4" y2="284.6" stroke="#c4c4c4" stroke-width="0.5" stroke-dasharray="3,0.6"/>
<line x1="87.1" y1="232.6" x2="87.1" y2="284.6" stroke="#c4c4c4" stroke-width="0.5" stroke-dasharray="3,0.6"/>
<line x1="93.8" y1="232.6" x2="93.8" y2="284.6" stroke="#c4c4c4" stroke-width="0.5" stroke-dasharray="3,0.6"/>
<line x1="100.5" y1="232.6" x2="100.5" y2="284.6" stroke="#c4c4c4" stroke-width="0.5" stroke-dasharray="3,0.6"/>
<line x1="113.9" y1="232.6" x2="113.9" y2="284.6" stroke="#c4c4c4" stroke-width="0.5" stroke-dasharray="3,0.6"/>
<line x1="120.6" y1="232.6" x2="120.6" y2="284.6" stroke="#c4c4c4" stroke-width="0.5" stroke-dasharray="3,0.6"/>
<line x1="127.2" y1="232.6" x2="127.2" y2="284.6" stroke="#c4c4c4" stroke-width="0.5" stroke-dasharray="3,0.6"/>
<line x1="133.9" y1="232.6" x2="133.9" y2="284.6" stroke="#c4c4c4" stroke-width="0.5" stroke-dasharray="3,0.6"/>
<line x1="147.3" y1="232.6" x2="147.3" y2="284.6" stroke="#c4c4c4" stroke-width="0.5" stroke-dasharray="3,0.6"/>
<line x1="154" y1="232.6" x2="154" y2="284.6" stroke="#c4c4c4" stroke-width="0.5" stroke-dasharray="3,0.6"/>
<line x1="160.7" y1="232.6" x2="160.7" y2="284.6" stroke="#c4c4c4" stroke-width="0.5" stroke-dasharray="3,0.6"/>
<line x1="167.4" y1="232.6" x2="167.4" y2="284.6" stroke="#c4c4c4" stroke-width="0.5" stroke-dasharray="3,0.6"/>
<line x1="180.7" y1="232.6" x2="180.7" y2="284.6" stroke="#c4c4c4" stroke-width="0.5" stroke-dasharray="3,0.6"/>
<line x1="187.4" y1="232.6" x2="187.4" y2="284.6" stroke="#c4c4c4" stroke-width="0.5" stroke-dasharray="3,0.6"/>
<line x1="194.1" y1="232.6" x2="194.1" y2="284.6" stroke="#c4c4c4" stroke-width="0.5" stroke-dasharray="3,0.6"/>
<line x1="200.8" y1="232.6" x2="200.8" y2="284.6" stroke="#c4c4c4" stroke-width="0.5" stroke-dasharray="3,0.6"/>
<line x1="214.2" y1="232.6" x2="214.2" y2="284.6" stroke="#c4c4c4" stroke-width="0.5" stroke-dasharray="3,0.6"/>
<line x1="220.9" y1="232.6" x2="220.9" y2="284.6" stroke="#c4c4c4" stroke-width="0.5" stroke-dasharray="3,0.6"/>
<line x1="31.6" y1="283.6" x2="221.8" y2="283.6" stroke="#b4b4b4" stroke-width="0.5" stroke-dasharray="3,0.9"/>
<line x1="31.6" y1="280.5" x2="221.8" y2="280.5" stroke="#b4b4b4" stroke-width="0.5" stroke-dasharray="3,0.9"/>
<line x1="31.6" y1="277.4" x2="221.8" y2="277.4" stroke="#b4b4b4" stroke-width="0.5" stroke-dasharray="3,0.9"/>
<line x1="31.6" y1="271.1" x2="221.8" y2="271.1" stroke="#b4b4b4" stroke-width="0.5" stroke-dasharray="3,0.9"/>
<line x1="31.6" y1="268" x2="221.8" y2="268" stroke="#b4b4b4" stroke-width="0.5" stroke-dasharray="3,0.9"/>
<line x1="31.6" y1="264.9" x2="221.8" y2="264.9" stroke="#b4b4b4" stroke-width="0.5" stroke-dasharray="3,0.9"/>
<line x1="31.6" y1="261.7" x2="221.8" y2="261.7" stroke="#b4b4b4" stroke-width="0.5" stroke-dasharray="3,0.9"/>
<line x1="31.6" y1="255.5" x2="221.8" y2="255.5" stroke="#b4b4b4" stroke-width="0.5" stroke-dasharray="3,0.9"/>
<line x1="31.6" y1="252.3" x2="221.8" y2="252.3" stroke="#b4b4b4" stroke-width="0.5" stroke-dasharray="3,0.9"/>
<line x1="31.6" y1="249.2" x2="221.8" y2="249.2" stroke="#b4b4b4" stroke-width="0.5" stroke-dasharray="3,0.9"/>
<line x1="31.6" y1="246.1" x2="221.8" y2="246.1" stroke="#b4b4b4" stroke-width="0.5" stroke-dasharray="3,0.9"/>
<line x1="31.6" y1="239.8" x2="221.8" y2="239.8" stroke="#b4b4b4" stroke-width="0.5" stroke-dasharray="3,0.9"/>
<line x1="31.6" y1="236.7" x2="221.8" y2="236.7" stroke="#b4b4b4" stroke-width="0.5" stroke-dasharray="3,0.9"/>
<line x1="31.6" y1="233.6" x2="221.8" y2="233.6" stroke="#b4b4b4" stroke-width="0.5" stroke-dasharray="3,0.9"/>
<line x1="40.3" y1="232.6" x2="40.3" y2="284.6" stroke="#858585" stroke-width="0.7"/>
<line x1="73.7" y1="232.6" x2="73.7" y2="284.6" stroke="#858585" stroke-width="0.7"/>
<line x1="107.2" y1="232.6" x2="107.2" y2="284.6" stroke="#858585" stroke-width="0.7"/>
<line x1="140.6" y1="232.6" x2="140.6" y2="284.6" stroke="#858585" stroke-width="0.7"/>
<line x1="174.1" y1="232.6" x2="174.1" y2="284.6" stroke="#858585" stroke-width="0.7"/>
<line x1="207.5" y1="232.6" x2="207.5" y2="284.6" stroke="#858585" stroke-width="0.7"/>
<line x1="31.6" y1="274.2" x2="221.8" y2="274.2" stroke="#7a7a7a" stroke-width="0.8"/>
<line x1="31.6" y1="243" x2="221.8" y2="243" stroke="#9a9a9a" stroke-width="0.8"/>
<polyline points="57.9,258.8 58.1,257.5 58.4,255 58.7,251.4 58.9,249.6 59.2,251.6 59.4,255.2 59.7,257.6 59.9,258.4" fill="none" stroke="#1a1aff" stroke-width="1.3" stroke-linejoin="round"/>
<polyline points="62.6,258.3 62.8,257.4 63.1,255.1 63.4,250.8 63.6,245.2 63.9,241 64.1,241 64.4,245.2 64.6,250.8 64.9,255.1 65.2,257.4 65.4,258.3" fill="none" stroke="#1a1aff" stroke-width="1.3" stroke-linejoin="round"/>
<polyline points="84.5,257.8 84.8,256.3 85.1,253.4 85.3,249.7 85.6,246.9 85.8,246.9 86.1,249.7 86.3,253.4 86.6,256.3 86.9,257.8" fill="none" stroke="#1a1aff" stroke-width="1.3" stroke-linejoin="round"/>
<polyline points="91,258.4 91.2,257.4 91.5,254.9 91.8,252.7 92,253.9 92.3,257 92.5,259.6" fill="none" stroke="#1a1aff" stroke-width="1.3" stroke-linejoin="round"/>
<line x1="40.3" y1="258.6" x2="214.2" y2="258.6" stroke="#ff1a1a" stroke-width="1.2"/>
<polyline points="46.5,258.6 46.8,258.6 47,258.7 47.3,259 47.6,260.2 47.8,263.4 48.1,268.7 48.4,273.3 48.6,273.3 48.9,268.7 49.2,263.4 49.4,260.2 49.7,259 50,258.7 50.2,258.6 50.5,258.6" fill="none" stroke="#ff1a1a" stroke-width="1.5" stroke-linejoin="round"/>
<polyline points="56.1,258.6 56.4,258.6 56.6,258.6 56.9,258.6 57.1,258.9 57.4,259.5 57.6,259.4 57.9,258.7 58.1,257.6 58.4,255.5 58.7,252.4 58.9,250.8 59.2,252.5 59.4,255.6 59.7,257.7 59.9,258.4 60.2,258.6 60.4,258.6 60.7,258.6" fill="none" stroke="#ff1a1a" stroke-width="1.5" stroke-linejoin="round"/>
<polyline points="61.8,258.6 62.1,258.6 62.3,258.5 62.6,258.3 62.8,257.5 63.1,255.5 63.4,251.5 63.6,246.5 63.9,242.8 64.1,242.8 64.4,246.5 64.6,251.5 64.9,255.5 65.2,257.5 65.4,258.3 65.7,258.5 65.9,258.6 66.2,258.6" fill="none" stroke="#ff1a1a" stroke-width="1.5" stroke-linejoin="round"/>
<polyline points="74.5,258.6 74.8,258.6 75,258.5 75.3,258.2 75.5,257 75.8,254 76.1,248.2 76.3,240.9 76.6,235.4 76.8,235.4 77.1,240.9 77.3,248.2 77.6,254 77.9,257 78.1,258.2 78.4,258.5 78.6,258.6 78.9,258.6" fill="none" stroke="#ff1a1a" stroke-width="1.5" stroke-linejoin="round"/>
<polyline points="83.5,258.6 83.8,258.6 84,258.6 84.3,258.4 84.5,257.9 84.8,256.5 85.1,254 85.3,250.6 85.6,248.2 85.8,248.2 86.1,250.6 86.3,254 86.6,256.5 86.9,257.9 87.1,258.4 87.4,258.6 87.6,258.6 87.9,258.6" fill="none" stroke="#ff1a1a" stroke-width="1.5" stroke-linejoin="round"/>
<polyline points="90.2,258.6 90.5,258.6 90.7,258.6 91,258.4 91.2,257.6 91.5,255.4 91.8,253.6 92,254.6 92.3,257.3 92.5,259.7 92.8,262 93,263 93.3,261.3 93.6,259.5 93.8,258.7 94.1,258.6 94.3,258.6 94.6,258.6" fill="none" stroke="#ff1a1a" stroke-width="1.5" stroke-linejoin="round"/>
<line x1="40.3" y1="258.6" x2="214.2" y2="258.6" stroke="#238e23" stroke-width="0.9" stroke-dasharray="1.4,1.4"/>
<polyline points="44.9,258.6 45.4,241.6 46,255 46.6,258.6" fill="none" stroke="#238e23" stroke-width="0.8" stroke-linejoin="round" stroke-dasharray="2.8,0.9"/>
<polyline points="47.4,258.6 48,250.2 48.6,262 49.3,253 50,262 50.6,258.6" fill="none" stroke="#238e23" stroke-width="0.8" stroke-linejoin="round" stroke-dasharray="2.8,0.9"/>
<polyline points="58,258.6 58.5,265.5 59,258.6" fill="none" stroke="#238e23" stroke-width="0.8" stroke-linejoin="round" stroke-dasharray="2.8,0.9"/>
<polyline points="62.8,258.6 63.5,271.6 64.2,262 64.8,258.6" fill="none" stroke="#238e23" stroke-width="0.8" stroke-linejoin="round" stroke-dasharray="2.8,0.9"/>
<polyline points="72.6,258.6 73.1,254.5 73.6,258.6" fill="none" stroke="#238e23" stroke-width="0.8" stroke-linejoin="round" stroke-dasharray="2.8,0.9"/>
<polyline points="78,258.6 78.5,265.5 79,258.6" fill="none" stroke="#238e23" stroke-width="0.8" stroke-linejoin="round" stroke-dasharray="2.8,0.9"/>
<polyline points="84.6,258.6 85,262 85.5,258.6" fill="none" stroke="#238e23" stroke-width="0.8" stroke-linejoin="round" stroke-dasharray="2.8,0.9"/>
<polyline points="91.6,258.6 92.3,282.6 93,258.6" fill="none" stroke="#238e23" stroke-width="0.8" stroke-linejoin="round" stroke-dasharray="2.8,0.9"/>
<polyline points="95.8,258.6 96.3,248.3 96.9,262 97.4,258.6" fill="none" stroke="#238e23" stroke-width="0.8" stroke-linejoin="round" stroke-dasharray="2.8,0.9"/>
<polyline points="98.1,258.6 98.6,255 99.1,258.6" fill="none" stroke="#238e23" stroke-width="0.8" stroke-linejoin="round" stroke-dasharray="2.8,0.9"/>
<polyline points="130.2,258.6 130.7,264.9 131.2,257.5 131.8,258.6" fill="none" stroke="#238e23" stroke-width="0.8" stroke-linejoin="round" stroke-dasharray="2.8,0.9"/>
<polyline points="152.2,258.6 152.6,257 153,258.6" fill="none" stroke="#238e23" stroke-width="0.8" stroke-linejoin="round" stroke-dasharray="2.8,0.9"/>
<polyline points="166.8,258.6 167.2,260 167.6,258.6" fill="none" stroke="#238e23" stroke-width="0.8" stroke-linejoin="round" stroke-dasharray="2.8,0.9"/>
<polyline points="178.3,258.6 178.7,259.8 179.1,258.6" fill="none" stroke="#238e23" stroke-width="0.8" stroke-linejoin="round" stroke-dasharray="2.8,0.9"/>
<polyline points="196.1,258.6 196.6,251.8 197.1,258.6" fill="none" stroke="#238e23" stroke-width="0.8" stroke-linejoin="round" stroke-dasharray="2.8,0.9"/>
<rect x="31.6" y="232.6" width="190.2" height="52" fill="none" stroke="#303030" stroke-width="0.65"/>
<line x1="33.6" y1="284.6" x2="33.6" y2="285.6" stroke="#303030" stroke-width="0.6"/>
<line x1="40.3" y1="284.6" x2="40.3" y2="286.4" stroke="#303030" stroke-width="0.6"/>
<line x1="47" y1="284.6" x2="47" y2="285.6" stroke="#303030" stroke-width="0.6"/>
<line x1="53.7" y1="284.6" x2="53.7" y2="285.6" stroke="#303030" stroke-width="0.6"/>
<line x1="60.4" y1="284.6" x2="60.4" y2="285.6" stroke="#303030" stroke-width="0.6"/>
<line x1="67.1" y1="284.6" x2="67.1" y2="285.6" stroke="#303030" stroke-width="0.6"/>
<line x1="73.7" y1="284.6" x2="73.7" y2="286.4" stroke="#303030" stroke-width="0.6"/>
<line x1="80.4" y1="284.6" x2="80.4" y2="285.6" stroke="#303030" stroke-width="0.6"/>
<line x1="87.1" y1="284.6" x2="87.1" y2="285.6" stroke="#303030" stroke-width="0.6"/>
<line x1="93.8" y1="284.6" x2="93.8" y2="285.6" stroke="#303030" stroke-width="0.6"/>
<line x1="100.5" y1="284.6" x2="100.5" y2="285.6" stroke="#303030" stroke-width="0.6"/>
<line x1="107.2" y1="284.6" x2="107.2" y2="286.4" stroke="#303030" stroke-width="0.6"/>
<line x1="113.9" y1="284.6" x2="113.9" y2="285.6" stroke="#303030" stroke-width="0.6"/>
<line x1="120.6" y1="284.6" x2="120.6" y2="285.6" stroke="#303030" stroke-width="0.6"/>
<line x1="127.2" y1="284.6" x2="127.2" y2="285.6" stroke="#303030" stroke-width="0.6"/>
<line x1="133.9" y1="284.6" x2="133.9" y2="285.6" stroke="#303030" stroke-width="0.6"/>
<line x1="140.6" y1="284.6" x2="140.6" y2="286.4" stroke="#303030" stroke-width="0.6"/>
<line x1="147.3" y1="284.6" x2="147.3" y2="285.6" stroke="#303030" stroke-width="0.6"/>
<line x1="154" y1="284.6" x2="154" y2="285.6" stroke="#303030" stroke-width="0.6"/>
<line x1="160.7" y1="284.6" x2="160.7" y2="285.6" stroke="#303030" stroke-width="0.6"/>
<line x1="167.4" y1="284.6" x2="167.4" y2="285.6" stroke="#303030" stroke-width="0.6"/>
<line x1="174.1" y1="284.6" x2="174.1" y2="286.4" stroke="#303030" stroke-width="0.6"/>
<line x1="180.7" y1="284.6" x2="180.7" y2="285.6" stroke="#303030" stroke-width="0.6"/>
<line x1="187.4" y1="284.6" x2="187.4" y2="285.6" stroke="#303030" stroke-width="0.6"/>
<line x1="194.1" y1="284.6" x2="194.1" y2="285.6" stroke="#303030" stroke-width="0.6"/>
<line x1="200.8" y1="284.6" x2="200.8" y2="285.6" stroke="#303030" stroke-width="0.6"/>
<line x1="207.5" y1="284.6" x2="207.5" y2="286.4" stroke="#303030" stroke-width="0.6"/>
<line x1="214.2" y1="284.6" x2="214.2" y2="285.6" stroke="#303030" stroke-width="0.6"/>
<line x1="220.9" y1="284.6" x2="220.9" y2="285.6" stroke="#303030" stroke-width="0.6"/>
<line x1="31.6" y1="283.6" x2="30.6" y2="283.6" stroke="#303030" stroke-width="0.6"/>
<line x1="31.6" y1="280.5" x2="30.6" y2="280.5" stroke="#303030" stroke-width="0.6"/>
<line x1="31.6" y1="277.4" x2="30.6" y2="277.4" stroke="#303030" stroke-width="0.6"/>
<line x1="31.6" y1="274.2" x2="29.8" y2="274.2" stroke="#303030" stroke-width="0.6"/>
<line x1="31.6" y1="271.1" x2="30.6" y2="271.1" stroke="#303030" stroke-width="0.6"/>
<line x1="31.6" y1="268" x2="30.6" y2="268" stroke="#303030" stroke-width="0.6"/>
<line x1="31.6" y1="264.9" x2="30.6" y2="264.9" stroke="#303030" stroke-width="0.6"/>
<line x1="31.6" y1="261.7" x2="30.6" y2="261.7" stroke="#303030" stroke-width="0.6"/>
<line x1="31.6" y1="258.6" x2="29.8" y2="258.6" stroke="#303030" stroke-width="0.6"/>
<line x1="31.6" y1="255.5" x2="30.6" y2="255.5" stroke="#303030" stroke-width="0.6"/>
<line x1="31.6" y1="252.3" x2="30.6" y2="252.3" stroke="#303030" stroke-width="0.6"/>
<line x1="31.6" y1="249.2" x2="30.6" y2="249.2" stroke="#303030" stroke-width="0.6"/>
<line x1="31.6" y1="246.1" x2="30.6" y2="246.1" stroke="#303030" stroke-width="0.6"/>
<line x1="31.6" y1="243" x2="29.8" y2="243" stroke="#303030" stroke-width="0.6"/>
<line x1="31.6" y1="239.8" x2="30.6" y2="239.8" stroke="#303030" stroke-width="0.6"/>
<line x1="31.6" y1="236.7" x2="30.6" y2="236.7" stroke="#303030" stroke-width="0.6"/>
<line x1="31.6" y1="233.6" x2="30.6" y2="233.6" stroke="#303030" stroke-width="0.6"/>
<line x1="221.8" y1="244" x2="223.6" y2="244" stroke="#303030" stroke-width="0.6"/>
<line x1="221.8" y1="258.6" x2="223.6" y2="258.6" stroke="#303030" stroke-width="0.6"/>
<line x1="221.8" y1="273.5" x2="223.6" y2="273.5" stroke="#303030" stroke-width="0.6"/>
<line x1="221.8" y1="233" x2="222.8" y2="233" stroke="#303030" stroke-width="0.5"/>
<line x1="221.8" y1="236.7" x2="222.8" y2="236.7" stroke="#303030" stroke-width="0.5"/>
<line x1="221.8" y1="240.3" x2="222.8" y2="240.3" stroke="#303030" stroke-width="0.5"/>
<line x1="221.8" y1="247.7" x2="222.8" y2="247.7" stroke="#303030" stroke-width="0.5"/>
<line x1="221.8" y1="251.3" x2="222.8" y2="251.3" stroke="#303030" stroke-width="0.5"/>
<line x1="221.8" y1="255" x2="222.8" y2="255" stroke="#303030" stroke-width="0.5"/>
<line x1="221.8" y1="262.2" x2="222.8" y2="262.2" stroke="#303030" stroke-width="0.5"/>
<line x1="221.8" y1="265.9" x2="222.8" y2="265.9" stroke="#303030" stroke-width="0.5"/>
<line x1="221.8" y1="269.6" x2="222.8" y2="269.6" stroke="#303030" stroke-width="0.5"/>
<line x1="221.8" y1="276.9" x2="222.8" y2="276.9" stroke="#303030" stroke-width="0.5"/>
<line x1="221.8" y1="280.5" x2="222.8" y2="280.5" stroke="#303030" stroke-width="0.5"/>
<line x1="221.8" y1="284.2" x2="222.8" y2="284.2" stroke="#303030" stroke-width="0.5"/>
<text x="28" y="244.9" font-size="5.6" text-anchor="end">10</text>
<text x="28" y="260.5" font-size="5.6" text-anchor="end">0</text>
<text x="28" y="276.2" font-size="5.6" text-anchor="end">−10</text>
<text x="225.2" y="245.9" font-size="5.6" text-anchor="start">2</text>
<text x="225.2" y="260.5" font-size="5.6" text-anchor="start">0</text>
<text x="225.2" y="275.4" font-size="5.6" text-anchor="start">−2</text>
<text transform="translate(14.8,258.6) rotate(-90)" font-size="6" text-anchor="middle" style="fill:#222"><tspan font-style="italic">F</tspan><tspan font-size="4.2" font-style="italic" dy="1.3">x</tspan><tspan dy="-1.3"> (N)</tspan></text>
<text class="sans" transform="translate(238.8,258.6) rotate(-90)" font-size="5.8" text-anchor="middle" textLength="19.8" lengthAdjust="spacingAndGlyphs">Error (N)</text>
</g>
<g>
<line x1="33.6" y1="295.2" x2="33.6" y2="347" stroke="#c4c4c4" stroke-width="0.5" stroke-dasharray="3,0.6"/>
<line x1="47" y1="295.2" x2="47" y2="347" stroke="#c4c4c4" stroke-width="0.5" stroke-dasharray="3,0.6"/>
<line x1="53.7" y1="295.2" x2="53.7" y2="347" stroke="#c4c4c4" stroke-width="0.5" stroke-dasharray="3,0.6"/>
<line x1="60.4" y1="295.2" x2="60.4" y2="347" stroke="#c4c4c4" stroke-width="0.5" stroke-dasharray="3,0.6"/>
<line x1="67.1" y1="295.2" x2="67.1" y2="347" stroke="#c4c4c4" stroke-width="0.5" stroke-dasharray="3,0.6"/>
<line x1="80.4" y1="295.2" x2="80.4" y2="347" stroke="#c4c4c4" stroke-width="0.5" stroke-dasharray="3,0.6"/>
<line x1="87.1" y1="295.2" x2="87.1" y2="347" stroke="#c4c4c4" stroke-width="0.5" stroke-dasharray="3,0.6"/>
<line x1="93.8" y1="295.2" x2="93.8" y2="347" stroke="#c4c4c4" stroke-width="0.5" stroke-dasharray="3,0.6"/>
<line x1="100.5" y1="295.2" x2="100.5" y2="347" stroke="#c4c4c4" stroke-width="0.5" stroke-dasharray="3,0.6"/>
<line x1="113.9" y1="295.2" x2="113.9" y2="347" stroke="#c4c4c4" stroke-width="0.5" stroke-dasharray="3,0.6"/>
<line x1="120.6" y1="295.2" x2="120.6" y2="347" stroke="#c4c4c4" stroke-width="0.5" stroke-dasharray="3,0.6"/>
<line x1="127.2" y1="295.2" x2="127.2" y2="347" stroke="#c4c4c4" stroke-width="0.5" stroke-dasharray="3,0.6"/>
<line x1="133.9" y1="295.2" x2="133.9" y2="347" stroke="#c4c4c4" stroke-width="0.5" stroke-dasharray="3,0.6"/>
<line x1="147.3" y1="295.2" x2="147.3" y2="347" stroke="#c4c4c4" stroke-width="0.5" stroke-dasharray="3,0.6"/>
<line x1="154" y1="295.2" x2="154" y2="347" stroke="#c4c4c4" stroke-width="0.5" stroke-dasharray="3,0.6"/>
<line x1="160.7" y1="295.2" x2="160.7" y2="347" stroke="#c4c4c4" stroke-width="0.5" stroke-dasharray="3,0.6"/>
<line x1="167.4" y1="295.2" x2="167.4" y2="347" stroke="#c4c4c4" stroke-width="0.5" stroke-dasharray="3,0.6"/>
<line x1="180.7" y1="295.2" x2="180.7" y2="347" stroke="#c4c4c4" stroke-width="0.5" stroke-dasharray="3,0.6"/>
<line x1="187.4" y1="295.2" x2="187.4" y2="347" stroke="#c4c4c4" stroke-width="0.5" stroke-dasharray="3,0.6"/>
<line x1="194.1" y1="295.2" x2="194.1" y2="347" stroke="#c4c4c4" stroke-width="0.5" stroke-dasharray="3,0.6"/>
<line x1="200.8" y1="295.2" x2="200.8" y2="347" stroke="#c4c4c4" stroke-width="0.5" stroke-dasharray="3,0.6"/>
<line x1="214.2" y1="295.2" x2="214.2" y2="347" stroke="#c4c4c4" stroke-width="0.5" stroke-dasharray="3,0.6"/>
<line x1="220.9" y1="295.2" x2="220.9" y2="347" stroke="#c4c4c4" stroke-width="0.5" stroke-dasharray="3,0.6"/>
<line x1="31.6" y1="343.9" x2="221.8" y2="343.9" stroke="#b4b4b4" stroke-width="0.5" stroke-dasharray="3,0.9"/>
<line x1="31.6" y1="336.3" x2="221.8" y2="336.3" stroke="#b4b4b4" stroke-width="0.5" stroke-dasharray="3,0.9"/>
<line x1="31.6" y1="332.5" x2="221.8" y2="332.5" stroke="#b4b4b4" stroke-width="0.5" stroke-dasharray="3,0.9"/>
<line x1="31.6" y1="328.7" x2="221.8" y2="328.7" stroke="#b4b4b4" stroke-width="0.5" stroke-dasharray="3,0.9"/>
<line x1="31.6" y1="324.9" x2="221.8" y2="324.9" stroke="#b4b4b4" stroke-width="0.5" stroke-dasharray="3,0.9"/>
<line x1="31.6" y1="317.3" x2="221.8" y2="317.3" stroke="#b4b4b4" stroke-width="0.5" stroke-dasharray="3,0.9"/>
<line x1="31.6" y1="313.5" x2="221.8" y2="313.5" stroke="#b4b4b4" stroke-width="0.5" stroke-dasharray="3,0.9"/>
<line x1="31.6" y1="309.7" x2="221.8" y2="309.7" stroke="#b4b4b4" stroke-width="0.5" stroke-dasharray="3,0.9"/>
<line x1="31.6" y1="305.9" x2="221.8" y2="305.9" stroke="#b4b4b4" stroke-width="0.5" stroke-dasharray="3,0.9"/>
<line x1="31.6" y1="298.3" x2="221.8" y2="298.3" stroke="#b4b4b4" stroke-width="0.5" stroke-dasharray="3,0.9"/>
<line x1="40.3" y1="295.2" x2="40.3" y2="347" stroke="#858585" stroke-width="0.7"/>
<line x1="73.7" y1="295.2" x2="73.7" y2="347" stroke="#858585" stroke-width="0.7"/>
<line x1="107.2" y1="295.2" x2="107.2" y2="347" stroke="#858585" stroke-width="0.7"/>
<line x1="140.6" y1="295.2" x2="140.6" y2="347" stroke="#858585" stroke-width="0.7"/>
<line x1="174.1" y1="295.2" x2="174.1" y2="347" stroke="#858585" stroke-width="0.7"/>
<line x1="207.5" y1="295.2" x2="207.5" y2="347" stroke="#858585" stroke-width="0.7"/>
<line x1="31.6" y1="340.1" x2="221.8" y2="340.1" stroke="#7a7a7a" stroke-width="0.8"/>
<line x1="31.6" y1="302.1" x2="221.8" y2="302.1" stroke="#7a7a7a" stroke-width="0.8"/>
<polyline points="57.7,320.9 57.9,320.1 58.2,317.8 58.4,315.7 58.7,316.6 59,319.2 59.2,320.9" fill="none" stroke="#1a1aff" stroke-width="1.3" stroke-linejoin="round"/>
<polyline points="62.3,322.1 62.5,324.1 62.8,327.5 63,331.8 63.3,334.9 63.5,334.6 63.8,331.3 64.1,327 64.3,323.7 64.6,322" fill="none" stroke="#1a1aff" stroke-width="1.3" stroke-linejoin="round"/>
<polyline points="75,320.7 75.2,319.6 75.5,316.6 75.8,311 76,303.7 76.3,298.4 76.5,298.4 76.8,303.7 77,311 77.3,316.6 77.6,319.6 77.8,320.7" fill="none" stroke="#1a1aff" stroke-width="1.3" stroke-linejoin="round"/>
<polyline points="91.2,321.5 91.4,322.5 91.7,325.4 92,330.6 92.2,337.4 92.5,342.5 92.7,342.5 93,337.4 93.2,330.6 93.5,325.4 93.8,322.5 94,321.5" fill="none" stroke="#1a1aff" stroke-width="1.3" stroke-linejoin="round"/>
<line x1="40.3" y1="321.1" x2="214.2" y2="321.1" stroke="#ff1a1a" stroke-width="1.2"/>
<polyline points="46.2,321.1 46.5,321.1 46.7,321.1 47,321 47.2,320.3 47.5,318.3 47.7,316.4 48,316.9 48.2,319.5 48.5,322.2 48.7,324.4 49,324.9 49.2,323.3 49.5,321.8 49.7,321.2 50,321.1 50.2,321.1 50.5,321.1" fill="none" stroke="#ff1a1a" stroke-width="1.5" stroke-linejoin="round"/>
<polyline points="56.9,321.1 57.2,321.1 57.4,321.1 57.7,321 57.9,320.2 58.2,318.3 58.4,316.5 58.7,317.3 59,319.5 59.2,320.9 59.5,322.1 59.7,324.3 60,326 60.2,324.9 60.5,322.6 60.7,321.4 61,321.1 61.2,321.1 61.5,321.1 61.8,321.2 62,321.4 62.3,322 62.5,323.8 62.8,326.9 63,330.8 63.3,333.5 63.5,333.2 63.8,330.2 64.1,326.4 64.3,323.4 64.6,321.9 64.8,321.3 65.1,321.1 65.3,321.1 65.6,321.1" fill="none" stroke="#ff1a1a" stroke-width="1.5" stroke-linejoin="round"/>
<polyline points="74.2,321.1 74.5,321.1 74.7,321 75,320.7 75.2,319.7 75.5,317 75.8,311.9 76,305.3 76.3,300.5 76.5,300.5 76.8,305.3 77,311.9 77.3,317 77.6,319.7 77.8,320.7 78.1,321 78.3,321.1 78.6,321.1" fill="none" stroke="#ff1a1a" stroke-width="1.5" stroke-linejoin="round"/>
<polyline points="82.9,321.1 83.2,321.1 83.4,321.2 83.7,321.3 83.9,321.9 84.2,323.4 84.4,326.2 84.7,330.6 84.9,335.3 85.2,338.5 85.4,338.5 85.7,335.3 85.9,330.6 86.2,326.2 86.4,323.4 86.7,321.9 86.9,321.3 87.2,321.2 87.4,321.1 87.7,321.1" fill="none" stroke="#ff1a1a" stroke-width="1.5" stroke-linejoin="round"/>
<polyline points="90.4,321.1 90.7,321.1 90.9,321.2 91.2,321.4 91.4,322.4 91.7,325 92,329.7 92.2,335.9 92.5,340.5 92.7,340.5 93,335.9 93.2,329.7 93.5,325 93.8,322.4 94,321.4 94.3,321.2 94.5,321.1 94.8,321.1" fill="none" stroke="#ff1a1a" stroke-width="1.5" stroke-linejoin="round"/>
<line x1="40.3" y1="321.1" x2="214.2" y2="321.1" stroke="#238e23" stroke-width="0.9" stroke-dasharray="1.4,1.4"/>
<polyline points="45.4,321.1 46,329 46.6,321.1" fill="none" stroke="#238e23" stroke-width="0.8" stroke-linejoin="round" stroke-dasharray="2.8,0.9"/>
<polyline points="46.7,321.1 47.2,312 47.8,322 48.5,334.6 49.2,321.1" fill="none" stroke="#238e23" stroke-width="0.8" stroke-linejoin="round" stroke-dasharray="2.8,0.9"/>
<polyline points="57.4,321.1 58,325.4 58.6,321.1" fill="none" stroke="#238e23" stroke-width="0.8" stroke-linejoin="round" stroke-dasharray="2.8,0.9"/>
<polyline points="61.4,321.1 62,311.3 62.7,321.1" fill="none" stroke="#238e23" stroke-width="0.8" stroke-linejoin="round" stroke-dasharray="2.8,0.9"/>
<polyline points="71,321.1 71.5,309 72,321.1" fill="none" stroke="#238e23" stroke-width="0.8" stroke-linejoin="round" stroke-dasharray="2.8,0.9"/>
<polyline points="77,321.1 77.5,344.4 78,314.4 78.6,321.1" fill="none" stroke="#238e23" stroke-width="0.8" stroke-linejoin="round" stroke-dasharray="2.8,0.9"/>
<polyline points="84,321.1 84.5,315.6 85,321.1" fill="none" stroke="#238e23" stroke-width="0.8" stroke-linejoin="round" stroke-dasharray="2.8,0.9"/>
<polyline points="89.6,321.1 90.1,332 90.6,321.1" fill="none" stroke="#238e23" stroke-width="0.8" stroke-linejoin="round" stroke-dasharray="2.8,0.9"/>
<polyline points="92.6,321.1 93.2,301 93.8,326 94.4,321.1" fill="none" stroke="#238e23" stroke-width="0.8" stroke-linejoin="round" stroke-dasharray="2.8,0.9"/>
<polyline points="95.5,321.1 96.1,306.5 96.7,327 97.3,321.1" fill="none" stroke="#238e23" stroke-width="0.8" stroke-linejoin="round" stroke-dasharray="2.8,0.9"/>
<polyline points="98.2,321.1 98.7,311.3 99.2,321.1" fill="none" stroke="#238e23" stroke-width="0.8" stroke-linejoin="round" stroke-dasharray="2.8,0.9"/>
<polyline points="130.7,321.1 131.2,318.7 131.8,322 132.5,318 133.1,321.1" fill="none" stroke="#238e23" stroke-width="0.8" stroke-linejoin="round" stroke-dasharray="2.8,0.9"/>
<polyline points="161.8,321.1 162.2,317.4 162.6,321.1" fill="none" stroke="#238e23" stroke-width="0.8" stroke-linejoin="round" stroke-dasharray="2.8,0.9"/>
<polyline points="196.1,321.1 196.6,325.7 197.2,321 197.8,321.1" fill="none" stroke="#238e23" stroke-width="0.8" stroke-linejoin="round" stroke-dasharray="2.8,0.9"/>
<polyline points="199,321.1 199.5,317.4 200,321.1" fill="none" stroke="#238e23" stroke-width="0.8" stroke-linejoin="round" stroke-dasharray="2.8,0.9"/>
<rect x="31.6" y="295.2" width="190.2" height="51.8" fill="none" stroke="#303030" stroke-width="0.65"/>
<line x1="33.6" y1="347" x2="33.6" y2="348" stroke="#303030" stroke-width="0.6"/>
<line x1="40.3" y1="347" x2="40.3" y2="348.8" stroke="#303030" stroke-width="0.6"/>
<line x1="47" y1="347" x2="47" y2="348" stroke="#303030" stroke-width="0.6"/>
<line x1="53.7" y1="347" x2="53.7" y2="348" stroke="#303030" stroke-width="0.6"/>
<line x1="60.4" y1="347" x2="60.4" y2="348" stroke="#303030" stroke-width="0.6"/>
<line x1="67.1" y1="347" x2="67.1" y2="348" stroke="#303030" stroke-width="0.6"/>
<line x1="73.7" y1="347" x2="73.7" y2="348.8" stroke="#303030" stroke-width="0.6"/>
<line x1="80.4" y1="347" x2="80.4" y2="348" stroke="#303030" stroke-width="0.6"/>
<line x1="87.1" y1="347" x2="87.1" y2="348" stroke="#303030" stroke-width="0.6"/>
<line x1="93.8" y1="347" x2="93.8" y2="348" stroke="#303030" stroke-width="0.6"/>
<line x1="100.5" y1="347" x2="100.5" y2="348" stroke="#303030" stroke-width="0.6"/>
<line x1="107.2" y1="347" x2="107.2" y2="348.8" stroke="#303030" stroke-width="0.6"/>
<line x1="113.9" y1="347" x2="113.9" y2="348" stroke="#303030" stroke-width="0.6"/>
<line x1="120.6" y1="347" x2="120.6" y2="348" stroke="#303030" stroke-width="0.6"/>
<line x1="127.2" y1="347" x2="127.2" y2="348" stroke="#303030" stroke-width="0.6"/>
<line x1="133.9" y1="347" x2="133.9" y2="348" stroke="#303030" stroke-width="0.6"/>
<line x1="140.6" y1="347" x2="140.6" y2="348.8" stroke="#303030" stroke-width="0.6"/>
<line x1="147.3" y1="347" x2="147.3" y2="348" stroke="#303030" stroke-width="0.6"/>
<line x1="154" y1="347" x2="154" y2="348" stroke="#303030" stroke-width="0.6"/>
<line x1="160.7" y1="347" x2="160.7" y2="348" stroke="#303030" stroke-width="0.6"/>
<line x1="167.4" y1="347" x2="167.4" y2="348" stroke="#303030" stroke-width="0.6"/>
<line x1="174.1" y1="347" x2="174.1" y2="348.8" stroke="#303030" stroke-width="0.6"/>
<line x1="180.7" y1="347" x2="180.7" y2="348" stroke="#303030" stroke-width="0.6"/>
<line x1="187.4" y1="347" x2="187.4" y2="348" stroke="#303030" stroke-width="0.6"/>
<line x1="194.1" y1="347" x2="194.1" y2="348" stroke="#303030" stroke-width="0.6"/>
<line x1="200.8" y1="347" x2="200.8" y2="348" stroke="#303030" stroke-width="0.6"/>
<line x1="207.5" y1="347" x2="207.5" y2="348.8" stroke="#303030" stroke-width="0.6"/>
<line x1="214.2" y1="347" x2="214.2" y2="348" stroke="#303030" stroke-width="0.6"/>
<line x1="220.9" y1="347" x2="220.9" y2="348" stroke="#303030" stroke-width="0.6"/>
<line x1="31.6" y1="343.9" x2="30.6" y2="343.9" stroke="#303030" stroke-width="0.6"/>
<line x1="31.6" y1="340.1" x2="29.8" y2="340.1" stroke="#303030" stroke-width="0.6"/>
<line x1="31.6" y1="336.3" x2="30.6" y2="336.3" stroke="#303030" stroke-width="0.6"/>
<line x1="31.6" y1="332.5" x2="30.6" y2="332.5" stroke="#303030" stroke-width="0.6"/>
<line x1="31.6" y1="328.7" x2="30.6" y2="328.7" stroke="#303030" stroke-width="0.6"/>
<line x1="31.6" y1="324.9" x2="30.6" y2="324.9" stroke="#303030" stroke-width="0.6"/>
<line x1="31.6" y1="321.1" x2="29.8" y2="321.1" stroke="#303030" stroke-width="0.6"/>
<line x1="31.6" y1="317.3" x2="30.6" y2="317.3" stroke="#303030" stroke-width="0.6"/>
<line x1="31.6" y1="313.5" x2="30.6" y2="313.5" stroke="#303030" stroke-width="0.6"/>
<line x1="31.6" y1="309.7" x2="30.6" y2="309.7" stroke="#303030" stroke-width="0.6"/>
<line x1="31.6" y1="305.9" x2="30.6" y2="305.9" stroke="#303030" stroke-width="0.6"/>
<line x1="31.6" y1="302.1" x2="29.8" y2="302.1" stroke="#303030" stroke-width="0.6"/>
<line x1="31.6" y1="298.3" x2="30.6" y2="298.3" stroke="#303030" stroke-width="0.6"/>
<line x1="221.8" y1="306.7" x2="223.6" y2="306.7" stroke="#303030" stroke-width="0.6"/>
<line x1="221.8" y1="321.2" x2="223.6" y2="321.2" stroke="#303030" stroke-width="0.6"/>
<line x1="221.8" y1="335.9" x2="223.6" y2="335.9" stroke="#303030" stroke-width="0.6"/>
<line x1="221.8" y1="295.8" x2="222.8" y2="295.8" stroke="#303030" stroke-width="0.5"/>
<line x1="221.8" y1="299.4" x2="222.8" y2="299.4" stroke="#303030" stroke-width="0.5"/>
<line x1="221.8" y1="303.1" x2="222.8" y2="303.1" stroke="#303030" stroke-width="0.5"/>
<line x1="221.8" y1="310.3" x2="222.8" y2="310.3" stroke="#303030" stroke-width="0.5"/>
<line x1="221.8" y1="313.9" x2="222.8" y2="313.9" stroke="#303030" stroke-width="0.5"/>
<line x1="221.8" y1="317.6" x2="222.8" y2="317.6" stroke="#303030" stroke-width="0.5"/>
<line x1="221.8" y1="324.8" x2="222.8" y2="324.8" stroke="#303030" stroke-width="0.5"/>
<line x1="221.8" y1="328.4" x2="222.8" y2="328.4" stroke="#303030" stroke-width="0.5"/>
<line x1="221.8" y1="332.1" x2="222.8" y2="332.1" stroke="#303030" stroke-width="0.5"/>
<line x1="221.8" y1="339.3" x2="222.8" y2="339.3" stroke="#303030" stroke-width="0.5"/>
<line x1="221.8" y1="342.9" x2="222.8" y2="342.9" stroke="#303030" stroke-width="0.5"/>
<line x1="221.8" y1="346.6" x2="222.8" y2="346.6" stroke="#303030" stroke-width="0.5"/>
<text x="28" y="304" font-size="5.6" text-anchor="end">10</text>
<text x="28" y="323" font-size="5.6" text-anchor="end">0</text>
<text x="28" y="342" font-size="5.6" text-anchor="end">−10</text>
<text x="225.2" y="308.6" font-size="5.6" text-anchor="start">2</text>
<text x="225.2" y="323.1" font-size="5.6" text-anchor="start">0</text>
<text x="225.2" y="337.8" font-size="5.6" text-anchor="start">−2</text>
<text transform="translate(14.8,321.1) rotate(-90)" font-size="6" text-anchor="middle" style="fill:#222"><tspan font-style="italic">F</tspan><tspan font-size="4.2" font-style="italic" dy="1.3">y</tspan><tspan dy="-1.3"> (N)</tspan></text>
<text class="sans" transform="translate(238.8,321.1) rotate(-90)" font-size="5.8" text-anchor="middle" textLength="19.8" lengthAdjust="spacingAndGlyphs">Error (N)</text>
</g>
<g>
<line x1="33.6" y1="357.5" x2="33.6" y2="409.3" stroke="#c4c4c4" stroke-width="0.5" stroke-dasharray="3,0.6"/>
<line x1="47" y1="357.5" x2="47" y2="409.3" stroke="#c4c4c4" stroke-width="0.5" stroke-dasharray="3,0.6"/>
<line x1="53.7" y1="357.5" x2="53.7" y2="409.3" stroke="#c4c4c4" stroke-width="0.5" stroke-dasharray="3,0.6"/>
<line x1="60.4" y1="357.5" x2="60.4" y2="409.3" stroke="#c4c4c4" stroke-width="0.5" stroke-dasharray="3,0.6"/>
<line x1="67.1" y1="357.5" x2="67.1" y2="409.3" stroke="#c4c4c4" stroke-width="0.5" stroke-dasharray="3,0.6"/>
<line x1="80.4" y1="357.5" x2="80.4" y2="409.3" stroke="#c4c4c4" stroke-width="0.5" stroke-dasharray="3,0.6"/>
<line x1="87.1" y1="357.5" x2="87.1" y2="409.3" stroke="#c4c4c4" stroke-width="0.5" stroke-dasharray="3,0.6"/>
<line x1="93.8" y1="357.5" x2="93.8" y2="409.3" stroke="#c4c4c4" stroke-width="0.5" stroke-dasharray="3,0.6"/>
<line x1="100.5" y1="357.5" x2="100.5" y2="409.3" stroke="#c4c4c4" stroke-width="0.5" stroke-dasharray="3,0.6"/>
<line x1="113.9" y1="357.5" x2="113.9" y2="409.3" stroke="#c4c4c4" stroke-width="0.5" stroke-dasharray="3,0.6"/>
<line x1="120.6" y1="357.5" x2="120.6" y2="409.3" stroke="#c4c4c4" stroke-width="0.5" stroke-dasharray="3,0.6"/>
<line x1="127.2" y1="357.5" x2="127.2" y2="409.3" stroke="#c4c4c4" stroke-width="0.5" stroke-dasharray="3,0.6"/>
<line x1="133.9" y1="357.5" x2="133.9" y2="409.3" stroke="#c4c4c4" stroke-width="0.5" stroke-dasharray="3,0.6"/>
<line x1="147.3" y1="357.5" x2="147.3" y2="409.3" stroke="#c4c4c4" stroke-width="0.5" stroke-dasharray="3,0.6"/>
<line x1="154" y1="357.5" x2="154" y2="409.3" stroke="#c4c4c4" stroke-width="0.5" stroke-dasharray="3,0.6"/>
<line x1="160.7" y1="357.5" x2="160.7" y2="409.3" stroke="#c4c4c4" stroke-width="0.5" stroke-dasharray="3,0.6"/>
<line x1="167.4" y1="357.5" x2="167.4" y2="409.3" stroke="#c4c4c4" stroke-width="0.5" stroke-dasharray="3,0.6"/>
<line x1="180.7" y1="357.5" x2="180.7" y2="409.3" stroke="#c4c4c4" stroke-width="0.5" stroke-dasharray="3,0.6"/>
<line x1="187.4" y1="357.5" x2="187.4" y2="409.3" stroke="#c4c4c4" stroke-width="0.5" stroke-dasharray="3,0.6"/>
<line x1="194.1" y1="357.5" x2="194.1" y2="409.3" stroke="#c4c4c4" stroke-width="0.5" stroke-dasharray="3,0.6"/>
<line x1="200.8" y1="357.5" x2="200.8" y2="409.3" stroke="#c4c4c4" stroke-width="0.5" stroke-dasharray="3,0.6"/>
<line x1="214.2" y1="357.5" x2="214.2" y2="409.3" stroke="#c4c4c4" stroke-width="0.5" stroke-dasharray="3,0.6"/>
<line x1="220.9" y1="357.5" x2="220.9" y2="409.3" stroke="#c4c4c4" stroke-width="0.5" stroke-dasharray="3,0.6"/>
<line x1="31.6" y1="408" x2="221.8" y2="408" stroke="#b4b4b4" stroke-width="0.5" stroke-dasharray="3,0.9"/>
<line x1="31.6" y1="405" x2="221.8" y2="405" stroke="#b4b4b4" stroke-width="0.5" stroke-dasharray="3,0.9"/>
<line x1="31.6" y1="401.9" x2="221.8" y2="401.9" stroke="#b4b4b4" stroke-width="0.5" stroke-dasharray="3,0.9"/>
<line x1="31.6" y1="395.7" x2="221.8" y2="395.7" stroke="#b4b4b4" stroke-width="0.5" stroke-dasharray="3,0.9"/>
<line x1="31.6" y1="392.6" x2="221.8" y2="392.6" stroke="#b4b4b4" stroke-width="0.5" stroke-dasharray="3,0.9"/>
<line x1="31.6" y1="389.6" x2="221.8" y2="389.6" stroke="#b4b4b4" stroke-width="0.5" stroke-dasharray="3,0.9"/>
<line x1="31.6" y1="386.5" x2="221.8" y2="386.5" stroke="#b4b4b4" stroke-width="0.5" stroke-dasharray="3,0.9"/>
<line x1="31.6" y1="380.3" x2="221.8" y2="380.3" stroke="#b4b4b4" stroke-width="0.5" stroke-dasharray="3,0.9"/>
<line x1="31.6" y1="377.2" x2="221.8" y2="377.2" stroke="#b4b4b4" stroke-width="0.5" stroke-dasharray="3,0.9"/>
<line x1="31.6" y1="374.2" x2="221.8" y2="374.2" stroke="#b4b4b4" stroke-width="0.5" stroke-dasharray="3,0.9"/>
<line x1="31.6" y1="371.1" x2="221.8" y2="371.1" stroke="#b4b4b4" stroke-width="0.5" stroke-dasharray="3,0.9"/>
<line x1="31.6" y1="364.9" x2="221.8" y2="364.9" stroke="#b4b4b4" stroke-width="0.5" stroke-dasharray="3,0.9"/>
<line x1="31.6" y1="361.8" x2="221.8" y2="361.8" stroke="#b4b4b4" stroke-width="0.5" stroke-dasharray="3,0.9"/>
<line x1="31.6" y1="358.8" x2="221.8" y2="358.8" stroke="#b4b4b4" stroke-width="0.5" stroke-dasharray="3,0.9"/>
<line x1="40.3" y1="357.5" x2="40.3" y2="409.3" stroke="#858585" stroke-width="0.7"/>
<line x1="73.7" y1="357.5" x2="73.7" y2="409.3" stroke="#858585" stroke-width="0.7"/>
<line x1="107.2" y1="357.5" x2="107.2" y2="409.3" stroke="#858585" stroke-width="0.7"/>
<line x1="140.6" y1="357.5" x2="140.6" y2="409.3" stroke="#858585" stroke-width="0.7"/>
<line x1="174.1" y1="357.5" x2="174.1" y2="409.3" stroke="#858585" stroke-width="0.7"/>
<line x1="207.5" y1="357.5" x2="207.5" y2="409.3" stroke="#858585" stroke-width="0.7"/>
<line x1="31.6" y1="398.8" x2="221.8" y2="398.8" stroke="#7a7a7a" stroke-width="0.8"/>
<line x1="31.6" y1="368" x2="221.8" y2="368" stroke="#9a9a9a" stroke-width="0.8"/>
<polyline points="59.7,383.3 59.9,382.8 60.2,381.5 60.4,380.1 60.7,380.5 60.9,382.1 61.2,383.1" fill="none" stroke="#1a1aff" stroke-width="1.3" stroke-linejoin="round"/>
<polyline points="74.7,383.2 74.9,382.3 75.2,379.9 75.4,377.7 75.7,378.7 76,381.6 76.2,383.9" fill="none" stroke="#1a1aff" stroke-width="1.3" stroke-linejoin="round"/>
<polyline points="84.4,382.6 84.6,380.8 84.9,378 85.2,375.6 85.4,375.6 85.7,378 86,380.8 86.2,382.6" fill="none" stroke="#1a1aff" stroke-width="1.3" stroke-linejoin="round"/>
<line x1="40.3" y1="383.4" x2="214.2" y2="383.4" stroke="#ff1a1a" stroke-width="1.2"/>
<polyline points="46.7,383.4 47,383.4 47.2,383.4 47.5,383.6 47.7,384.7 48,387.6 48.2,391.8 48.5,394.1 48.8,391.8 49,387.6 49.3,384.7 49.5,383.6 49.8,383.4 50,383.4 50.3,383.4" fill="none" stroke="#ff1a1a" stroke-width="1.5" stroke-linejoin="round"/>
<polyline points="56.9,383.4 57.2,383.4 57.4,383.4 57.7,383.5 57.9,384.1 58.2,385.6 58.4,387.2 58.7,386.9 58.9,385 59.2,383.8 59.4,383.4 59.7,383.3 59.9,382.9 60.2,381.9 60.4,380.8 60.7,381.1 60.9,382.4 61.2,383.1 61.4,383.4 61.7,383.4 61.9,383.4 62.2,383.4 62.4,383.5 62.7,383.9 62.9,385.1 63.2,387.4 63.4,390.2 63.7,391.7 63.9,390.6 64.2,387.9 64.4,385.4 64.7,384 64.9,383.5 65.2,383.4 65.4,383.4 65.7,383.4" fill="none" stroke="#ff1a1a" stroke-width="1.5" stroke-linejoin="round"/>
<polyline points="73.9,383.4 74.2,383.4 74.4,383.4 74.7,383.3 74.9,382.5 75.2,380.4 75.4,378.6 75.7,379.4 76,381.9 76.2,383.9 76.5,386.6 76.7,391.7 77,398.6 77.2,403.1 77.5,401.4 77.8,395 78,388.7 78.3,385.1 78.5,383.8 78.8,383.5 79,383.4 79.3,383.4" fill="none" stroke="#ff1a1a" stroke-width="1.5" stroke-linejoin="round"/>
<polyline points="83.3,383.4 83.6,383.4 83.8,383.4 84.1,383.2 84.4,382.7 84.6,381.2 84.9,378.7 85.2,376.6 85.4,376.6 85.7,378.7 86,381.2 86.2,382.7 86.5,383.2 86.8,383.4 87,383.4 87.3,383.4" fill="none" stroke="#ff1a1a" stroke-width="1.5" stroke-linejoin="round"/>
<polyline points="90.4,383.4 90.7,383.4 90.9,383.5 91.2,384 91.5,385.9 91.7,391 92,399.4 92.3,406.7 92.5,406.7 92.8,399.4 93.1,391 93.3,385.9 93.6,384 93.9,383.5 94.1,383.4 94.4,383.4" fill="none" stroke="#ff1a1a" stroke-width="1.5" stroke-linejoin="round"/>
<line x1="40.3" y1="383.4" x2="214.2" y2="383.4" stroke="#238e23" stroke-width="0.9" stroke-dasharray="1.4,1.4"/>
<polyline points="44.9,383.4 45.4,363.6 46,378 46.6,383.4" fill="none" stroke="#238e23" stroke-width="0.8" stroke-linejoin="round" stroke-dasharray="2.8,0.9"/>
<polyline points="47.6,383.4 48.2,370.3 48.7,398.4 49.3,385 50,378.2 50.6,383.4" fill="none" stroke="#238e23" stroke-width="0.8" stroke-linejoin="round" stroke-dasharray="2.8,0.9"/>
<polyline points="57.4,383.4 58,377 58.6,383.4" fill="none" stroke="#238e23" stroke-width="0.8" stroke-linejoin="round" stroke-dasharray="2.8,0.9"/>
<polyline points="61.4,383.4 62,398.4 62.6,383.4" fill="none" stroke="#238e23" stroke-width="0.8" stroke-linejoin="round" stroke-dasharray="2.8,0.9"/>
<polyline points="71,383.4 71.5,380.7 72,383.4" fill="none" stroke="#238e23" stroke-width="0.8" stroke-linejoin="round" stroke-dasharray="2.8,0.9"/>
<polyline points="73,383.4 73.5,388 74,383.4" fill="none" stroke="#238e23" stroke-width="0.8" stroke-linejoin="round" stroke-dasharray="2.8,0.9"/>
<polyline points="77.6,383.4 78.3,359.9 79,392 79.6,383.4" fill="none" stroke="#238e23" stroke-width="0.8" stroke-linejoin="round" stroke-dasharray="2.8,0.9"/>
<polyline points="84,383.4 84.5,399.6 85,383.4" fill="none" stroke="#238e23" stroke-width="0.8" stroke-linejoin="round" stroke-dasharray="2.8,0.9"/>
<polyline points="90.5,383.4 91,375.2 91.6,383.4" fill="none" stroke="#238e23" stroke-width="0.8" stroke-linejoin="round" stroke-dasharray="2.8,0.9"/>
<polyline points="92.6,383.4 93.2,359.9 93.8,390 94.4,383.4" fill="none" stroke="#238e23" stroke-width="0.8" stroke-linejoin="round" stroke-dasharray="2.8,0.9"/>
<polyline points="95.5,383.4 96,377 96.6,388 97.2,383.4" fill="none" stroke="#238e23" stroke-width="0.8" stroke-linejoin="round" stroke-dasharray="2.8,0.9"/>
<polyline points="98.2,383.4 98.7,375.2 99.2,383.4" fill="none" stroke="#238e23" stroke-width="0.8" stroke-linejoin="round" stroke-dasharray="2.8,0.9"/>
<polyline points="166.3,383.4 166.7,385.5 167.1,383.4" fill="none" stroke="#238e23" stroke-width="0.8" stroke-linejoin="round" stroke-dasharray="2.8,0.9"/>
<polyline points="177.7,383.4 178.1,385 178.5,383.4" fill="none" stroke="#238e23" stroke-width="0.8" stroke-linejoin="round" stroke-dasharray="2.8,0.9"/>
<polyline points="196.1,383.4 196.6,368.1 197.1,383.4" fill="none" stroke="#238e23" stroke-width="0.8" stroke-linejoin="round" stroke-dasharray="2.8,0.9"/>
<rect x="31.6" y="357.5" width="190.2" height="51.8" fill="none" stroke="#303030" stroke-width="0.65"/>
<line x1="33.6" y1="409.3" x2="33.6" y2="410.3" stroke="#303030" stroke-width="0.6"/>
<line x1="40.3" y1="409.3" x2="40.3" y2="411.1" stroke="#303030" stroke-width="0.6"/>
<line x1="47" y1="409.3" x2="47" y2="410.3" stroke="#303030" stroke-width="0.6"/>
<line x1="53.7" y1="409.3" x2="53.7" y2="410.3" stroke="#303030" stroke-width="0.6"/>
<line x1="60.4" y1="409.3" x2="60.4" y2="410.3" stroke="#303030" stroke-width="0.6"/>
<line x1="67.1" y1="409.3" x2="67.1" y2="410.3" stroke="#303030" stroke-width="0.6"/>
<line x1="73.7" y1="409.3" x2="73.7" y2="411.1" stroke="#303030" stroke-width="0.6"/>
<line x1="80.4" y1="409.3" x2="80.4" y2="410.3" stroke="#303030" stroke-width="0.6"/>
<line x1="87.1" y1="409.3" x2="87.1" y2="410.3" stroke="#303030" stroke-width="0.6"/>
<line x1="93.8" y1="409.3" x2="93.8" y2="410.3" stroke="#303030" stroke-width="0.6"/>
<line x1="100.5" y1="409.3" x2="100.5" y2="410.3" stroke="#303030" stroke-width="0.6"/>
<line x1="107.2" y1="409.3" x2="107.2" y2="411.1" stroke="#303030" stroke-width="0.6"/>
<line x1="113.9" y1="409.3" x2="113.9" y2="410.3" stroke="#303030" stroke-width="0.6"/>
<line x1="120.6" y1="409.3" x2="120.6" y2="410.3" stroke="#303030" stroke-width="0.6"/>
<line x1="127.2" y1="409.3" x2="127.2" y2="410.3" stroke="#303030" stroke-width="0.6"/>
<line x1="133.9" y1="409.3" x2="133.9" y2="410.3" stroke="#303030" stroke-width="0.6"/>
<line x1="140.6" y1="409.3" x2="140.6" y2="411.1" stroke="#303030" stroke-width="0.6"/>
<line x1="147.3" y1="409.3" x2="147.3" y2="410.3" stroke="#303030" stroke-width="0.6"/>
<line x1="154" y1="409.3" x2="154" y2="410.3" stroke="#303030" stroke-width="0.6"/>
<line x1="160.7" y1="409.3" x2="160.7" y2="410.3" stroke="#303030" stroke-width="0.6"/>
<line x1="167.4" y1="409.3" x2="167.4" y2="410.3" stroke="#303030" stroke-width="0.6"/>
<line x1="174.1" y1="409.3" x2="174.1" y2="411.1" stroke="#303030" stroke-width="0.6"/>
<line x1="180.7" y1="409.3" x2="180.7" y2="410.3" stroke="#303030" stroke-width="0.6"/>
<line x1="187.4" y1="409.3" x2="187.4" y2="410.3" stroke="#303030" stroke-width="0.6"/>
<line x1="194.1" y1="409.3" x2="194.1" y2="410.3" stroke="#303030" stroke-width="0.6"/>
<line x1="200.8" y1="409.3" x2="200.8" y2="410.3" stroke="#303030" stroke-width="0.6"/>
<line x1="207.5" y1="409.3" x2="207.5" y2="411.1" stroke="#303030" stroke-width="0.6"/>
<line x1="214.2" y1="409.3" x2="214.2" y2="410.3" stroke="#303030" stroke-width="0.6"/>
<line x1="220.9" y1="409.3" x2="220.9" y2="410.3" stroke="#303030" stroke-width="0.6"/>
<line x1="31.6" y1="408" x2="30.6" y2="408" stroke="#303030" stroke-width="0.6"/>
<line x1="31.6" y1="405" x2="30.6" y2="405" stroke="#303030" stroke-width="0.6"/>
<line x1="31.6" y1="401.9" x2="30.6" y2="401.9" stroke="#303030" stroke-width="0.6"/>
<line x1="31.6" y1="398.8" x2="29.8" y2="398.8" stroke="#303030" stroke-width="0.6"/>
<line x1="31.6" y1="395.7" x2="30.6" y2="395.7" stroke="#303030" stroke-width="0.6"/>
<line x1="31.6" y1="392.6" x2="30.6" y2="392.6" stroke="#303030" stroke-width="0.6"/>
<line x1="31.6" y1="389.6" x2="30.6" y2="389.6" stroke="#303030" stroke-width="0.6"/>
<line x1="31.6" y1="386.5" x2="30.6" y2="386.5" stroke="#303030" stroke-width="0.6"/>
<line x1="31.6" y1="383.4" x2="29.8" y2="383.4" stroke="#303030" stroke-width="0.6"/>
<line x1="31.6" y1="380.3" x2="30.6" y2="380.3" stroke="#303030" stroke-width="0.6"/>
<line x1="31.6" y1="377.2" x2="30.6" y2="377.2" stroke="#303030" stroke-width="0.6"/>
<line x1="31.6" y1="374.2" x2="30.6" y2="374.2" stroke="#303030" stroke-width="0.6"/>
<line x1="31.6" y1="371.1" x2="30.6" y2="371.1" stroke="#303030" stroke-width="0.6"/>
<line x1="31.6" y1="368" x2="29.8" y2="368" stroke="#303030" stroke-width="0.6"/>
<line x1="31.6" y1="364.9" x2="30.6" y2="364.9" stroke="#303030" stroke-width="0.6"/>
<line x1="31.6" y1="361.8" x2="30.6" y2="361.8" stroke="#303030" stroke-width="0.6"/>
<line x1="31.6" y1="358.8" x2="30.6" y2="358.8" stroke="#303030" stroke-width="0.6"/>
<line x1="221.8" y1="363.5" x2="223.6" y2="363.5" stroke="#303030" stroke-width="0.6"/>
<line x1="221.8" y1="383.5" x2="223.6" y2="383.5" stroke="#303030" stroke-width="0.6"/>
<line x1="221.8" y1="404" x2="223.6" y2="404" stroke="#303030" stroke-width="0.6"/>
<line x1="221.8" y1="358.5" x2="222.8" y2="358.5" stroke="#303030" stroke-width="0.5"/>
<line x1="221.8" y1="368.5" x2="222.8" y2="368.5" stroke="#303030" stroke-width="0.5"/>
<line x1="221.8" y1="373.5" x2="222.8" y2="373.5" stroke="#303030" stroke-width="0.5"/>
<line x1="221.8" y1="378.5" x2="222.8" y2="378.5" stroke="#303030" stroke-width="0.5"/>
<line x1="221.8" y1="388.5" x2="222.8" y2="388.5" stroke="#303030" stroke-width="0.5"/>
<line x1="221.8" y1="393.5" x2="222.8" y2="393.5" stroke="#303030" stroke-width="0.5"/>
<line x1="221.8" y1="398.5" x2="222.8" y2="398.5" stroke="#303030" stroke-width="0.5"/>
<line x1="221.8" y1="408.5" x2="222.8" y2="408.5" stroke="#303030" stroke-width="0.5"/>
<text x="28" y="369.9" font-size="5.6" text-anchor="end">10</text>
<text x="28" y="385.3" font-size="5.6" text-anchor="end">0</text>
<text x="28" y="400.7" font-size="5.6" text-anchor="end">−10</text>
<text x="225.2" y="365.4" font-size="5.6" text-anchor="start">2</text>
<text x="225.2" y="385.4" font-size="5.6" text-anchor="start">0</text>
<text x="225.2" y="405.9" font-size="5.6" text-anchor="start">−2</text>
<text transform="translate(14.8,383.4) rotate(-90)" font-size="6" text-anchor="middle" style="fill:#222"><tspan font-style="italic">F</tspan><tspan font-size="4.2" font-style="italic" dy="1.3">z</tspan><tspan dy="-1.3"> (N)</tspan></text>
<text class="sans" transform="translate(238.8,383.4) rotate(-90)" font-size="5.8" text-anchor="middle" textLength="19.8" lengthAdjust="spacingAndGlyphs">Error (N)</text>
</g>
<text x="40.3" y="416.9" font-size="5.6" text-anchor="middle">0</text>
<text x="73.7" y="416.9" font-size="5.6" text-anchor="middle">10</text>
<text x="107.2" y="416.9" font-size="5.6" text-anchor="middle">20</text>
<text x="140.6" y="416.9" font-size="5.6" text-anchor="middle">30</text>
<text x="174.1" y="416.9" font-size="5.6" text-anchor="middle">40</text>
<text x="207.5" y="416.9" font-size="5.6" text-anchor="middle">50</text>
<text x="126.8" y="424.5" font-size="5.8" text-anchor="middle" class="sans" textLength="19.3" lengthAdjust="spacingAndGlyphs">Time (s)</text>
<line x1="64.3" y1="428.5" x2="76" y2="428.5" stroke="#1a1aff" stroke-width="1.3"/>
<text x="79.4" y="430.5" font-size="5.8" text-anchor="start" class="sans" textLength="21" lengthAdjust="spacingAndGlyphs">Measured</text>
<line x1="111.2" y1="428.5" x2="122.5" y2="428.5" stroke="#ff1a1a" stroke-width="1.3"/>
<text x="126.1" y="430.5" font-size="5.8" text-anchor="start" class="sans" textLength="22.4" lengthAdjust="spacingAndGlyphs">Prediction</text>
<line x1="159.8" y1="428.5" x2="170.4" y2="428.5" stroke="#238e23" stroke-width="1" stroke-dasharray="1.9,1.0"/>
<text x="174" y="430.5" font-size="5.8" text-anchor="start" class="sans" textLength="10.9" lengthAdjust="spacingAndGlyphs">Error</text>
<text x="125.1" y="452" font-size="11.6" text-anchor="middle" font-weight="bold" style="fill:#111">(c)</text>
<g>
<line x1="336.3" y1="234.2" x2="336.3" y2="285.5" stroke="#c4c4c4" stroke-width="0.5" stroke-dasharray="3,0.6"/>
<line x1="350.5" y1="234.2" x2="350.5" y2="285.5" stroke="#c4c4c4" stroke-width="0.5" stroke-dasharray="3,0.6"/>
<line x1="357.7" y1="234.2" x2="357.7" y2="285.5" stroke="#c4c4c4" stroke-width="0.5" stroke-dasharray="3,0.6"/>
<line x1="364.8" y1="234.2" x2="364.8" y2="285.5" stroke="#c4c4c4" stroke-width="0.5" stroke-dasharray="3,0.6"/>
<line x1="372" y1="234.2" x2="372" y2="285.5" stroke="#c4c4c4" stroke-width="0.5" stroke-dasharray="3,0.6"/>
<line x1="386.3" y1="234.2" x2="386.3" y2="285.5" stroke="#c4c4c4" stroke-width="0.5" stroke-dasharray="3,0.6"/>
<line x1="393.4" y1="234.2" x2="393.4" y2="285.5" stroke="#c4c4c4" stroke-width="0.5" stroke-dasharray="3,0.6"/>
<line x1="400.6" y1="234.2" x2="400.6" y2="285.5" stroke="#c4c4c4" stroke-width="0.5" stroke-dasharray="3,0.6"/>
<line x1="407.7" y1="234.2" x2="407.7" y2="285.5" stroke="#c4c4c4" stroke-width="0.5" stroke-dasharray="3,0.6"/>
<line x1="422" y1="234.2" x2="422" y2="285.5" stroke="#c4c4c4" stroke-width="0.5" stroke-dasharray="3,0.6"/>
<line x1="429.1" y1="234.2" x2="429.1" y2="285.5" stroke="#c4c4c4" stroke-width="0.5" stroke-dasharray="3,0.6"/>
<line x1="436.3" y1="234.2" x2="436.3" y2="285.5" stroke="#c4c4c4" stroke-width="0.5" stroke-dasharray="3,0.6"/>
<line x1="443.4" y1="234.2" x2="443.4" y2="285.5" stroke="#c4c4c4" stroke-width="0.5" stroke-dasharray="3,0.6"/>
<line x1="457.7" y1="234.2" x2="457.7" y2="285.5" stroke="#c4c4c4" stroke-width="0.5" stroke-dasharray="3,0.6"/>
<line x1="464.9" y1="234.2" x2="464.9" y2="285.5" stroke="#c4c4c4" stroke-width="0.5" stroke-dasharray="3,0.6"/>
<line x1="472" y1="234.2" x2="472" y2="285.5" stroke="#c4c4c4" stroke-width="0.5" stroke-dasharray="3,0.6"/>
<line x1="479.2" y1="234.2" x2="479.2" y2="285.5" stroke="#c4c4c4" stroke-width="0.5" stroke-dasharray="3,0.6"/>
<line x1="493.4" y1="234.2" x2="493.4" y2="285.5" stroke="#c4c4c4" stroke-width="0.5" stroke-dasharray="3,0.6"/>
<line x1="500.6" y1="234.2" x2="500.6" y2="285.5" stroke="#c4c4c4" stroke-width="0.5" stroke-dasharray="3,0.6"/>
<line x1="507.7" y1="234.2" x2="507.7" y2="285.5" stroke="#c4c4c4" stroke-width="0.5" stroke-dasharray="3,0.6"/>
<line x1="514.9" y1="234.2" x2="514.9" y2="285.5" stroke="#c4c4c4" stroke-width="0.5" stroke-dasharray="3,0.6"/>
<line x1="334.5" y1="284.8" x2="521.5" y2="284.8" stroke="#b4b4b4" stroke-width="0.5" stroke-dasharray="3,0.9"/>
<line x1="334.5" y1="281.7" x2="521.5" y2="281.7" stroke="#b4b4b4" stroke-width="0.5" stroke-dasharray="3,0.9"/>
<line x1="334.5" y1="278.6" x2="521.5" y2="278.6" stroke="#b4b4b4" stroke-width="0.5" stroke-dasharray="3,0.9"/>
<line x1="334.5" y1="272.3" x2="521.5" y2="272.3" stroke="#b4b4b4" stroke-width="0.5" stroke-dasharray="3,0.9"/>
<line x1="334.5" y1="269.2" x2="521.5" y2="269.2" stroke="#b4b4b4" stroke-width="0.5" stroke-dasharray="3,0.9"/>
<line x1="334.5" y1="266.1" x2="521.5" y2="266.1" stroke="#b4b4b4" stroke-width="0.5" stroke-dasharray="3,0.9"/>
<line x1="334.5" y1="262.9" x2="521.5" y2="262.9" stroke="#b4b4b4" stroke-width="0.5" stroke-dasharray="3,0.9"/>
<line x1="334.5" y1="256.7" x2="521.5" y2="256.7" stroke="#b4b4b4" stroke-width="0.5" stroke-dasharray="3,0.9"/>
<line x1="334.5" y1="253.5" x2="521.5" y2="253.5" stroke="#b4b4b4" stroke-width="0.5" stroke-dasharray="3,0.9"/>
<line x1="334.5" y1="250.4" x2="521.5" y2="250.4" stroke="#b4b4b4" stroke-width="0.5" stroke-dasharray="3,0.9"/>
<line x1="334.5" y1="247.3" x2="521.5" y2="247.3" stroke="#b4b4b4" stroke-width="0.5" stroke-dasharray="3,0.9"/>
<line x1="334.5" y1="241" x2="521.5" y2="241" stroke="#b4b4b4" stroke-width="0.5" stroke-dasharray="3,0.9"/>
<line x1="334.5" y1="237.9" x2="521.5" y2="237.9" stroke="#b4b4b4" stroke-width="0.5" stroke-dasharray="3,0.9"/>
<line x1="334.5" y1="234.8" x2="521.5" y2="234.8" stroke="#b4b4b4" stroke-width="0.5" stroke-dasharray="3,0.9"/>
<line x1="343.4" y1="234.2" x2="343.4" y2="285.5" stroke="#858585" stroke-width="0.7"/>
<line x1="379.1" y1="234.2" x2="379.1" y2="285.5" stroke="#858585" stroke-width="0.7"/>
<line x1="414.8" y1="234.2" x2="414.8" y2="285.5" stroke="#858585" stroke-width="0.7"/>
<line x1="450.6" y1="234.2" x2="450.6" y2="285.5" stroke="#858585" stroke-width="0.7"/>
<line x1="486.3" y1="234.2" x2="486.3" y2="285.5" stroke="#858585" stroke-width="0.7"/>
<line x1="334.5" y1="275.4" x2="521.5" y2="275.4" stroke="#9a9a9a" stroke-width="0.8"/>
<line x1="334.5" y1="244.2" x2="521.5" y2="244.2" stroke="#9a9a9a" stroke-width="0.8"/>
<polyline points="373.2,260 373.4,260.1 373.7,260.5 373.9,261 374.2,261.6 374.4,262.5 374.7,263.5 374.9,264.5 375.2,265.4 375.4,266.3 375.7,267.4 375.9,268.8 376.2,270.5 376.4,272.5 376.7,274.7" fill="none" stroke="#1a1aff" stroke-width="1.3" stroke-linejoin="round"/>
<polyline points="398.5,257.3 398.8,256.3 399,255 399.3,253.7 399.5,252.4 399.8,251.3 400,250.6 400.3,250.3 400.6,250.6 400.8,251.3 401.1,252.4 401.3,253.7 401.6,255 401.8,256.3 402.1,257.3" fill="none" stroke="#1a1aff" stroke-width="1.3" stroke-linejoin="round"/>
<polyline points="440.8,257.1 441.1,255.7 441.3,253.9 441.6,251.9 441.8,249.8 442.1,248 442.3,246.7 442.6,246.2 442.8,246.4 443.1,247.5 443.3,249.2 443.6,251.3 443.8,253.4 444.1,255.3 444.3,257 444.6,258.3" fill="none" stroke="#1a1aff" stroke-width="1.3" stroke-linejoin="round"/>
<polyline points="447.1,264.1 447.3,264.8 447.6,265.6 447.8,266.4 448.1,267.3 448.3,268.2 448.6,269.1 448.8,270 449.1,270.9 449.3,271.7 449.6,272.4 449.8,273 450.1,273.5 450.3,273.9 450.6,274.1 450.8,274.2 451.1,274.1 451.3,273.9 451.6,273.5 451.8,273 452.1,272.3 452.3,271.6 452.6,270.8 452.8,269.9 453.1,269 453.3,268.1 453.6,267.2 453.8,266.3 454.1,265.5 454.3,264.7 454.6,264" fill="none" stroke="#1a1aff" stroke-width="1.3" stroke-linejoin="round"/>
<polyline points="501.2,262.6 501.5,261.8 501.7,261.1 502,260.3 502.2,259.6 502.5,259 502.7,258.4 503,258 503.2,257.6 503.5,257.4 503.7,257.3 504,257.3 504.2,257.4 504.5,257.5 504.7,257.8 505,258.1 505.2,258.3 505.5,258.6 505.8,258.9 506,259.1 506.3,259.3" fill="none" stroke="#1a1aff" stroke-width="1.3" stroke-linejoin="round"/>
<line x1="343.4" y1="259.8" x2="512.7" y2="259.8" stroke="#ff1a1a" stroke-width="1.2"/>
<polyline points="355.7,259.8 355.9,259.8 356.2,259.8 356.5,259.7 356.7,259.6 357,259.4 357.2,259.1 357.5,258.6 357.7,257.9 358,257 358.3,255.8 358.5,254.4 358.8,252.9 359,251.4 359.3,250.2 359.5,249.4 359.8,249.1 360.1,249.4 360.3,250.2 360.6,251.4 360.8,252.9 361.1,254.4 361.3,255.8 361.6,257 361.9,257.9 362.1,258.6 362.4,259.1 362.6,259.4 362.9,259.6 363.1,259.7 363.4,259.8 363.7,259.8 363.9,259.8" fill="none" stroke="#ff1a1a" stroke-width="1.5" stroke-linejoin="round"/>
<polyline points="372.2,259.8 372.4,259.8 372.7,259.8 372.9,259.9 373.2,259.9 373.4,260 373.7,260.1 373.9,260.3 374.2,260.5 374.4,260.9 374.7,261.5 374.9,262.3 375.2,263.3 375.4,264.5 375.7,266.1 375.9,267.9 376.2,270 376.4,272.3 376.7,274.6 376.9,276.9 377.2,278.9 377.5,280.7 377.7,281.9 378,282.6 378.2,282.6 378.5,282 378.7,280.9 379,279.2 379.2,277.2 379.5,274.9 379.7,272.6 380,270.3 380.2,268.2 380.5,266.3 380.7,264.7 381,263.4 381.2,262.4 381.5,261.6 381.7,261 382,260.6 382.2,260.3 382.5,260.1 382.7,260 383,259.9 383.2,259.9 383.5,259.8" fill="none" stroke="#ff1a1a" stroke-width="1.5" stroke-linejoin="round"/>
<polyline points="385.8,259.8 386.1,259.8 386.3,259.7 386.6,259.6 386.9,259.3 387.1,258.8 387.4,257.9 387.6,256.4 387.9,254.3 388.1,251.5 388.4,248.3 388.7,245.1 388.9,242.5 389.2,241 389.4,241 389.7,242.5 389.9,245.1 390.2,248.3 390.5,251.5 390.7,254.3 391,256.4 391.2,257.9 391.5,258.8 391.7,259.3 392,259.6 392.3,259.7 392.5,259.8 392.8,259.8" fill="none" stroke="#ff1a1a" stroke-width="1.5" stroke-linejoin="round"/>
<polyline points="396.2,259.8 396.4,259.8 396.7,259.8 397,259.7 397.2,259.6 397.5,259.5 397.7,259.2 398,258.9 398.2,258.3 398.5,257.5 398.8,256.6 399,255.5 399.3,254.2 399.5,253.1 399.8,252.1 400,251.4 400.3,251.2 400.6,251.4 400.8,252.1 401.1,253.1 401.3,254.2 401.6,255.5 401.8,256.6 402.1,257.5 402.4,258.3 402.6,258.9 402.9,259.2 403.1,259.5 403.4,259.6 403.6,259.7 403.9,259.8 404.2,259.8 404.4,259.8" fill="none" stroke="#ff1a1a" stroke-width="1.5" stroke-linejoin="round"/>
<polyline points="438.8,259.8 439.1,259.8 439.3,259.7 439.6,259.7 439.8,259.6 440.1,259.3 440.3,258.9 440.6,258.3 440.8,257.3 441.1,256 441.3,254.4 441.6,252.5 441.8,250.7 442.1,249 442.3,247.8 442.6,247.3 442.8,247.6 443.1,248.6 443.3,250.1 443.6,252 443.8,253.9 444.1,255.7 444.3,257.2 444.6,258.4 444.8,259.3 445.1,260 445.3,260.5 445.6,260.9 445.8,261.3 446.1,261.7 446.3,262.1 446.6,262.6 446.8,263.2 447.1,263.8 447.3,264.5 447.6,265.2 447.8,266 448.1,266.8 448.3,267.7 448.6,268.5 448.8,269.3 449.1,270.2 449.3,270.9 449.6,271.6 449.8,272.2 450.1,272.6 450.3,273 450.6,273.2 450.8,273.2 451.1,273.2 451.3,272.9 451.6,272.6 451.8,272.1 452.1,271.5 452.3,270.8 452.6,270 452.8,269.2 453.1,268.4 453.3,267.5 453.6,266.7 453.8,265.9 454.1,265.1 454.3,264.4 454.6,263.7 454.8,263.1 455.1,262.6 455.3,262.1 455.6,261.7 455.8,261.3 456.1,261 456.3,260.7 456.6,260.5 456.8,260.4 457.1,260.2 457.3,260.1 457.6,260 457.8,260 458.1,259.9 458.3,259.9 458.6,259.9 458.8,259.8 459.1,259.8" fill="none" stroke="#ff1a1a" stroke-width="1.5" stroke-linejoin="round"/>
<polyline points="486.8,259.8 487.1,259.8 487.3,259.7 487.6,259.6 487.8,259.3 488.1,258.8 488.3,257.9 488.6,256.5 488.8,254.3 489.1,251.5 489.3,248.1 489.6,244.7 489.8,241.7 490.1,239.8 490.4,239.3 490.6,240.5 490.9,242.9 491.1,246.1 491.4,249.6 491.6,252.8 491.9,255.3 492.1,257.2 492.4,258.4 492.6,259.1 492.9,259.5 493.1,259.7 493.4,259.7 493.6,259.8 493.9,259.8 494.1,259.8 494.4,259.8 494.6,259.9 494.9,259.9 495.1,260 495.4,260.1 495.7,260.2 495.9,260.4 496.2,260.6 496.4,260.9 496.7,261.3 496.9,261.7 497.2,262.2 497.4,262.8 497.7,263.4 497.9,264 498.2,264.6 498.4,265.1 498.7,265.6 498.9,265.9 499.2,266.1 499.4,266.2 499.7,266.1 499.9,265.8 500.2,265.4 500.5,264.8 500.7,264.2 501,263.6 501.2,262.8 501.5,262.1 501.7,261.5 502,260.8 502.2,260.2 502.5,259.7 502.7,259.3 503,258.9 503.2,258.6 503.5,258.4 503.7,258.3 504,258.3 504.2,258.4 504.5,258.5 504.7,258.6 505,258.8 505.2,258.9 505.5,259.1 505.8,259.2 506,259.4 506.3,259.5 506.5,259.6 506.8,259.7 507,259.7 507.3,259.7 507.5,259.8 507.8,259.8 508,259.8 508.3,259.8 508.5,259.8 508.8,259.8" fill="none" stroke="#ff1a1a" stroke-width="1.5" stroke-linejoin="round"/>
<line x1="343.4" y1="259.8" x2="512.7" y2="259.8" stroke="#238e23" stroke-width="0.9" stroke-dasharray="1.4,1.4"/>
<polyline points="345,259.8 345.5,257.6 346,259.8" fill="none" stroke="#238e23" stroke-width="0.8" stroke-linejoin="round" stroke-dasharray="2.8,0.9"/>
<polyline points="358,259.8 358.6,263 359.6,258 360.6,265 361.4,262 362.2,259.8" fill="none" stroke="#238e23" stroke-width="0.8" stroke-linejoin="round" stroke-dasharray="2.8,0.9"/>
<polyline points="374.2,259.8 374.8,255 375.5,251 376.3,256 377,253 377.8,259.8" fill="none" stroke="#238e23" stroke-width="0.8" stroke-linejoin="round" stroke-dasharray="2.8,0.9"/>
<polyline points="378.4,259.8 379,268.7 379.6,253 380.3,259.8" fill="none" stroke="#238e23" stroke-width="0.8" stroke-linejoin="round" stroke-dasharray="2.8,0.9"/>
<polyline points="387,259.8 387.6,275.4 388.3,262 389,259.8" fill="none" stroke="#238e23" stroke-width="0.8" stroke-linejoin="round" stroke-dasharray="2.8,0.9"/>
<polyline points="389,259.8 389.5,255.8 390.1,262 390.7,259.8" fill="none" stroke="#238e23" stroke-width="0.8" stroke-linejoin="round" stroke-dasharray="2.8,0.9"/>
<polyline points="399,259.8 399.6,272.3 400.2,259.8" fill="none" stroke="#238e23" stroke-width="0.8" stroke-linejoin="round" stroke-dasharray="2.8,0.9"/>
<polyline points="436.6,259.8 437.2,263.8 437.8,259.8" fill="none" stroke="#238e23" stroke-width="0.8" stroke-linejoin="round" stroke-dasharray="2.8,0.9"/>
<polyline points="440.5,259.8 441.1,265 441.7,259.8" fill="none" stroke="#238e23" stroke-width="0.8" stroke-linejoin="round" stroke-dasharray="2.8,0.9"/>
<polyline points="447.9,259.8 448.5,251.6 449.2,262 449.9,259.8" fill="none" stroke="#238e23" stroke-width="0.8" stroke-linejoin="round" stroke-dasharray="2.8,0.9"/>
<polyline points="451.4,259.8 452,254 452.6,266 453.2,259.8" fill="none" stroke="#238e23" stroke-width="0.8" stroke-linejoin="round" stroke-dasharray="2.8,0.9"/>
<polyline points="488,259.8 488.6,274.8 489.4,255 490.3,236.3 491,262 491.6,259.8" fill="none" stroke="#238e23" stroke-width="0.8" stroke-linejoin="round" stroke-dasharray="2.8,0.9"/>
<polyline points="496.5,259.8 497,254.6 497.5,272.3 498.1,259.8" fill="none" stroke="#238e23" stroke-width="0.8" stroke-linejoin="round" stroke-dasharray="2.8,0.9"/>
<polyline points="500.4,259.8 501,257.7 501.6,259.8" fill="none" stroke="#238e23" stroke-width="0.8" stroke-linejoin="round" stroke-dasharray="2.8,0.9"/>
<rect x="334.5" y="234.2" width="187" height="51.3" fill="none" stroke="#303030" stroke-width="0.65"/>
<line x1="336.3" y1="285.5" x2="336.3" y2="286.5" stroke="#303030" stroke-width="0.6"/>
<line x1="343.4" y1="285.5" x2="343.4" y2="287.3" stroke="#303030" stroke-width="0.6"/>
<line x1="350.5" y1="285.5" x2="350.5" y2="286.5" stroke="#303030" stroke-width="0.6"/>
<line x1="357.7" y1="285.5" x2="357.7" y2="286.5" stroke="#303030" stroke-width="0.6"/>
<line x1="364.8" y1="285.5" x2="364.8" y2="286.5" stroke="#303030" stroke-width="0.6"/>
<line x1="372" y1="285.5" x2="372" y2="286.5" stroke="#303030" stroke-width="0.6"/>
<line x1="379.1" y1="285.5" x2="379.1" y2="287.3" stroke="#303030" stroke-width="0.6"/>
<line x1="386.3" y1="285.5" x2="386.3" y2="286.5" stroke="#303030" stroke-width="0.6"/>
<line x1="393.4" y1="285.5" x2="393.4" y2="286.5" stroke="#303030" stroke-width="0.6"/>
<line x1="400.6" y1="285.5" x2="400.6" y2="286.5" stroke="#303030" stroke-width="0.6"/>
<line x1="407.7" y1="285.5" x2="407.7" y2="286.5" stroke="#303030" stroke-width="0.6"/>
<line x1="414.8" y1="285.5" x2="414.8" y2="287.3" stroke="#303030" stroke-width="0.6"/>
<line x1="422" y1="285.5" x2="422" y2="286.5" stroke="#303030" stroke-width="0.6"/>
<line x1="429.1" y1="285.5" x2="429.1" y2="286.5" stroke="#303030" stroke-width="0.6"/>
<line x1="436.3" y1="285.5" x2="436.3" y2="286.5" stroke="#303030" stroke-width="0.6"/>
<line x1="443.4" y1="285.5" x2="443.4" y2="286.5" stroke="#303030" stroke-width="0.6"/>
<line x1="450.6" y1="285.5" x2="450.6" y2="287.3" stroke="#303030" stroke-width="0.6"/>
<line x1="457.7" y1="285.5" x2="457.7" y2="286.5" stroke="#303030" stroke-width="0.6"/>
<line x1="464.9" y1="285.5" x2="464.9" y2="286.5" stroke="#303030" stroke-width="0.6"/>
<line x1="472" y1="285.5" x2="472" y2="286.5" stroke="#303030" stroke-width="0.6"/>
<line x1="479.2" y1="285.5" x2="479.2" y2="286.5" stroke="#303030" stroke-width="0.6"/>
<line x1="486.3" y1="285.5" x2="486.3" y2="287.3" stroke="#303030" stroke-width="0.6"/>
<line x1="493.4" y1="285.5" x2="493.4" y2="286.5" stroke="#303030" stroke-width="0.6"/>
<line x1="500.6" y1="285.5" x2="500.6" y2="286.5" stroke="#303030" stroke-width="0.6"/>
<line x1="507.7" y1="285.5" x2="507.7" y2="286.5" stroke="#303030" stroke-width="0.6"/>
<line x1="514.9" y1="285.5" x2="514.9" y2="286.5" stroke="#303030" stroke-width="0.6"/>
<line x1="334.5" y1="284.8" x2="333.5" y2="284.8" stroke="#303030" stroke-width="0.6"/>
<line x1="334.5" y1="281.7" x2="333.5" y2="281.7" stroke="#303030" stroke-width="0.6"/>
<line x1="334.5" y1="278.6" x2="333.5" y2="278.6" stroke="#303030" stroke-width="0.6"/>
<line x1="334.5" y1="275.4" x2="332.7" y2="275.4" stroke="#303030" stroke-width="0.6"/>
<line x1="334.5" y1="272.3" x2="333.5" y2="272.3" stroke="#303030" stroke-width="0.6"/>
<line x1="334.5" y1="269.2" x2="333.5" y2="269.2" stroke="#303030" stroke-width="0.6"/>
<line x1="334.5" y1="266.1" x2="333.5" y2="266.1" stroke="#303030" stroke-width="0.6"/>
<line x1="334.5" y1="262.9" x2="333.5" y2="262.9" stroke="#303030" stroke-width="0.6"/>
<line x1="334.5" y1="259.8" x2="332.7" y2="259.8" stroke="#303030" stroke-width="0.6"/>
<line x1="334.5" y1="256.7" x2="333.5" y2="256.7" stroke="#303030" stroke-width="0.6"/>
<line x1="334.5" y1="253.5" x2="333.5" y2="253.5" stroke="#303030" stroke-width="0.6"/>
<line x1="334.5" y1="250.4" x2="333.5" y2="250.4" stroke="#303030" stroke-width="0.6"/>
<line x1="334.5" y1="247.3" x2="333.5" y2="247.3" stroke="#303030" stroke-width="0.6"/>
<line x1="334.5" y1="244.2" x2="332.7" y2="244.2" stroke="#303030" stroke-width="0.6"/>
<line x1="334.5" y1="241" x2="333.5" y2="241" stroke="#303030" stroke-width="0.6"/>
<line x1="334.5" y1="237.9" x2="333.5" y2="237.9" stroke="#303030" stroke-width="0.6"/>
<line x1="334.5" y1="234.8" x2="333.5" y2="234.8" stroke="#303030" stroke-width="0.6"/>
<line x1="521.5" y1="245.2" x2="523.3" y2="245.2" stroke="#303030" stroke-width="0.6"/>
<line x1="521.5" y1="260" x2="523.3" y2="260" stroke="#303030" stroke-width="0.6"/>
<line x1="521.5" y1="275" x2="523.3" y2="275" stroke="#303030" stroke-width="0.6"/>
<line x1="521.5" y1="237.8" x2="522.5" y2="237.8" stroke="#303030" stroke-width="0.5"/>
<line x1="521.5" y1="241.5" x2="522.5" y2="241.5" stroke="#303030" stroke-width="0.5"/>
<line x1="521.5" y1="248.9" x2="522.5" y2="248.9" stroke="#303030" stroke-width="0.5"/>
<line x1="521.5" y1="252.6" x2="522.5" y2="252.6" stroke="#303030" stroke-width="0.5"/>
<line x1="521.5" y1="256.3" x2="522.5" y2="256.3" stroke="#303030" stroke-width="0.5"/>
<line x1="521.5" y1="263.7" x2="522.5" y2="263.7" stroke="#303030" stroke-width="0.5"/>
<line x1="521.5" y1="267.4" x2="522.5" y2="267.4" stroke="#303030" stroke-width="0.5"/>
<line x1="521.5" y1="271.1" x2="522.5" y2="271.1" stroke="#303030" stroke-width="0.5"/>
<line x1="521.5" y1="278.5" x2="522.5" y2="278.5" stroke="#303030" stroke-width="0.5"/>
<line x1="521.5" y1="282.2" x2="522.5" y2="282.2" stroke="#303030" stroke-width="0.5"/>
<text x="332" y="246.1" font-size="5.6" text-anchor="end">10</text>
<text x="332" y="261.7" font-size="5.6" text-anchor="end">0</text>
<text x="332" y="277.4" font-size="5.6" text-anchor="end">−10</text>
<text x="524.8" y="247.1" font-size="5.6" text-anchor="start">2</text>
<text x="524.8" y="261.9" font-size="5.6" text-anchor="start">0</text>
<text x="524.8" y="276.9" font-size="5.6" text-anchor="start">−2</text>
<text transform="translate(318.1,259.9) rotate(-90)" font-size="6" text-anchor="middle" style="fill:#222"><tspan font-style="italic">F</tspan><tspan font-size="4.2" font-style="italic" dy="1.3">x</tspan><tspan dy="-1.3"> (N)</tspan></text>
<text class="sans" transform="translate(537.7,259.9) rotate(-90)" font-size="5.8" text-anchor="middle" textLength="19.8" lengthAdjust="spacingAndGlyphs">Error (N)</text>
</g>
<g>
<line x1="336.3" y1="295.3" x2="336.3" y2="346.8" stroke="#c4c4c4" stroke-width="0.5" stroke-dasharray="3,0.6"/>
<line x1="350.5" y1="295.3" x2="350.5" y2="346.8" stroke="#c4c4c4" stroke-width="0.5" stroke-dasharray="3,0.6"/>
<line x1="357.7" y1="295.3" x2="357.7" y2="346.8" stroke="#c4c4c4" stroke-width="0.5" stroke-dasharray="3,0.6"/>
<line x1="364.8" y1="295.3" x2="364.8" y2="346.8" stroke="#c4c4c4" stroke-width="0.5" stroke-dasharray="3,0.6"/>
<line x1="372" y1="295.3" x2="372" y2="346.8" stroke="#c4c4c4" stroke-width="0.5" stroke-dasharray="3,0.6"/>
<line x1="386.3" y1="295.3" x2="386.3" y2="346.8" stroke="#c4c4c4" stroke-width="0.5" stroke-dasharray="3,0.6"/>
<line x1="393.4" y1="295.3" x2="393.4" y2="346.8" stroke="#c4c4c4" stroke-width="0.5" stroke-dasharray="3,0.6"/>
<line x1="400.6" y1="295.3" x2="400.6" y2="346.8" stroke="#c4c4c4" stroke-width="0.5" stroke-dasharray="3,0.6"/>
<line x1="407.7" y1="295.3" x2="407.7" y2="346.8" stroke="#c4c4c4" stroke-width="0.5" stroke-dasharray="3,0.6"/>
<line x1="422" y1="295.3" x2="422" y2="346.8" stroke="#c4c4c4" stroke-width="0.5" stroke-dasharray="3,0.6"/>
<line x1="429.1" y1="295.3" x2="429.1" y2="346.8" stroke="#c4c4c4" stroke-width="0.5" stroke-dasharray="3,0.6"/>
<line x1="436.3" y1="295.3" x2="436.3" y2="346.8" stroke="#c4c4c4" stroke-width="0.5" stroke-dasharray="3,0.6"/>
<line x1="443.4" y1="295.3" x2="443.4" y2="346.8" stroke="#c4c4c4" stroke-width="0.5" stroke-dasharray="3,0.6"/>
<line x1="457.7" y1="295.3" x2="457.7" y2="346.8" stroke="#c4c4c4" stroke-width="0.5" stroke-dasharray="3,0.6"/>
<line x1="464.9" y1="295.3" x2="464.9" y2="346.8" stroke="#c4c4c4" stroke-width="0.5" stroke-dasharray="3,0.6"/>
<line x1="472" y1="295.3" x2="472" y2="346.8" stroke="#c4c4c4" stroke-width="0.5" stroke-dasharray="3,0.6"/>
<line x1="479.2" y1="295.3" x2="479.2" y2="346.8" stroke="#c4c4c4" stroke-width="0.5" stroke-dasharray="3,0.6"/>
<line x1="493.4" y1="295.3" x2="493.4" y2="346.8" stroke="#c4c4c4" stroke-width="0.5" stroke-dasharray="3,0.6"/>
<line x1="500.6" y1="295.3" x2="500.6" y2="346.8" stroke="#c4c4c4" stroke-width="0.5" stroke-dasharray="3,0.6"/>
<line x1="507.7" y1="295.3" x2="507.7" y2="346.8" stroke="#c4c4c4" stroke-width="0.5" stroke-dasharray="3,0.6"/>
<line x1="514.9" y1="295.3" x2="514.9" y2="346.8" stroke="#c4c4c4" stroke-width="0.5" stroke-dasharray="3,0.6"/>
<line x1="334.5" y1="343.7" x2="521.5" y2="343.7" stroke="#b4b4b4" stroke-width="0.5" stroke-dasharray="3,0.9"/>
<line x1="334.5" y1="340.5" x2="521.5" y2="340.5" stroke="#b4b4b4" stroke-width="0.5" stroke-dasharray="3,0.9"/>
<line x1="334.5" y1="334.1" x2="521.5" y2="334.1" stroke="#b4b4b4" stroke-width="0.5" stroke-dasharray="3,0.9"/>
<line x1="334.5" y1="330.9" x2="521.5" y2="330.9" stroke="#b4b4b4" stroke-width="0.5" stroke-dasharray="3,0.9"/>
<line x1="334.5" y1="327.8" x2="521.5" y2="327.8" stroke="#b4b4b4" stroke-width="0.5" stroke-dasharray="3,0.9"/>
<line x1="334.5" y1="324.6" x2="521.5" y2="324.6" stroke="#b4b4b4" stroke-width="0.5" stroke-dasharray="3,0.9"/>
<line x1="334.5" y1="318.2" x2="521.5" y2="318.2" stroke="#b4b4b4" stroke-width="0.5" stroke-dasharray="3,0.9"/>
<line x1="334.5" y1="315" x2="521.5" y2="315" stroke="#b4b4b4" stroke-width="0.5" stroke-dasharray="3,0.9"/>
<line x1="334.5" y1="311.9" x2="521.5" y2="311.9" stroke="#b4b4b4" stroke-width="0.5" stroke-dasharray="3,0.9"/>
<line x1="334.5" y1="308.7" x2="521.5" y2="308.7" stroke="#b4b4b4" stroke-width="0.5" stroke-dasharray="3,0.9"/>
<line x1="334.5" y1="302.3" x2="521.5" y2="302.3" stroke="#b4b4b4" stroke-width="0.5" stroke-dasharray="3,0.9"/>
<line x1="334.5" y1="299.1" x2="521.5" y2="299.1" stroke="#b4b4b4" stroke-width="0.5" stroke-dasharray="3,0.9"/>
<line x1="334.5" y1="296" x2="521.5" y2="296" stroke="#b4b4b4" stroke-width="0.5" stroke-dasharray="3,0.9"/>
<line x1="343.4" y1="295.3" x2="343.4" y2="346.8" stroke="#858585" stroke-width="0.7"/>
<line x1="379.1" y1="295.3" x2="379.1" y2="346.8" stroke="#858585" stroke-width="0.7"/>
<line x1="414.8" y1="295.3" x2="414.8" y2="346.8" stroke="#858585" stroke-width="0.7"/>
<line x1="450.6" y1="295.3" x2="450.6" y2="346.8" stroke="#858585" stroke-width="0.7"/>
<line x1="486.3" y1="295.3" x2="486.3" y2="346.8" stroke="#858585" stroke-width="0.7"/>
<line x1="334.5" y1="337.3" x2="521.5" y2="337.3" stroke="#9a9a9a" stroke-width="0.8"/>
<line x1="334.5" y1="305.5" x2="521.5" y2="305.5" stroke="#b4b4b4" stroke-width="0.5" stroke-dasharray="3,0.9"/>
<polyline points="359.8,321 360,320.5 360.3,319.9 360.5,319.3 360.8,318.8 361,318.7 361.3,318.9 361.5,319.4 361.8,320 362.1,320.5 362.3,320.9" fill="none" stroke="#1a1aff" stroke-width="1.3" stroke-linejoin="round"/>
<polyline points="377.2,327.9 377.5,325.9 377.7,323.5 378,321.6 378.3,320.6 378.5,320.6 378.8,321 379,321.3 379.3,321.4" fill="none" stroke="#1a1aff" stroke-width="1.3" stroke-linejoin="round"/>
<polyline points="444.9,322.1 445.2,319.4 445.4,316.8 445.7,314.4 445.9,312.1 446.2,309.8 446.5,307.6 446.7,305.5 447,303.5 447.2,301.8 447.5,300.4 447.7,299.5 448,299 448.2,299 448.5,299.5 448.7,300.4 449,301.8 449.2,303.6 449.5,305.6 449.7,307.8 450,310.1 450.2,312.4 450.5,314.7 450.7,316.9" fill="none" stroke="#1a1aff" stroke-width="1.3" stroke-linejoin="round"/>
<polyline points="451,319 451.3,321 451.5,322.9 451.8,324.6 452,326 452.3,327.3 452.5,328.2 452.8,328.8 453,329.1 453.3,329 453.5,328.7 453.8,328.2 454,327.4 454.3,326.6 454.5,325.7 454.8,324.9 455,324.1 455.3,323.5" fill="none" stroke="#1a1aff" stroke-width="1.3" stroke-linejoin="round"/>
<polyline points="502.2,322 502.5,321.5 502.7,321 503,320.6 503.3,320.2 503.5,320 503.8,320.1 504,320.4 504.3,320.8 504.5,321.1 504.8,321.2" fill="none" stroke="#1a1aff" stroke-width="1.3" stroke-linejoin="round"/>
<line x1="343.4" y1="321.4" x2="512.7" y2="321.4" stroke="#ff1a1a" stroke-width="1.2"/>
<polyline points="355.2,321.4 355.4,321.4 355.7,321.4 355.9,321.4 356.2,321.5 356.4,321.6 356.7,321.9 356.9,322.3 357.2,322.9 357.5,323.5 357.7,324 358,324.2 358.2,324.1 358.5,323.6 358.7,323 359,322.4 359.2,321.9 359.5,321.5 359.8,321.1 360,320.7 360.3,320.3 360.5,319.8 360.8,319.5 361,319.4 361.3,319.6 361.5,319.9 361.8,320.4 362.1,320.8 362.3,321.1 362.6,321.2 362.8,321.3 363.1,321.4 363.3,321.4 363.6,321.4 363.8,321.4" fill="none" stroke="#ff1a1a" stroke-width="1.5" stroke-linejoin="round"/>
<polyline points="374.4,321.4 374.6,321.4 374.9,321.4 375.2,321.5 375.4,321.8 375.7,322.4 375.9,323.5 376.2,325.3 376.5,327.2 376.7,328.7 377,329 377.2,328 377.5,326.2 377.7,324.2 378,322.8 378.3,322 378.5,321.6 378.8,321.5 379,321.4 379.3,321.4 379.6,321.4 379.8,321.4 380.1,321.4" fill="none" stroke="#ff1a1a" stroke-width="1.5" stroke-linejoin="round"/>
<polyline points="386.2,321.4 386.4,321.4 386.7,321.4 386.9,321.5 387.2,321.6 387.4,321.9 387.7,322.5 387.9,323.4 388.2,324.6 388.4,325.6 388.7,325.9 388.9,325.4 389.2,323.9 389.4,322 389.7,320.3 389.9,319.2 390.2,319 390.4,319.6 390.7,320.4 390.9,320.9 391.2,321.2 391.4,321.4 391.7,321.4 391.9,321.4 392.2,321.4" fill="none" stroke="#ff1a1a" stroke-width="1.5" stroke-linejoin="round"/>
<polyline points="397.2,321.4 397.4,321.4 397.7,321.4 397.9,321.4 398.2,321.3 398.4,321.1 398.7,320.7 398.9,320.2 399.2,319.5 399.4,318.9 399.7,318.7 400,318.9 400.2,319.5 400.5,320.2 400.7,320.7 401,321.1 401.2,321.3 401.5,321.4 401.7,321.4 402,321.4 402.2,321.4" fill="none" stroke="#ff1a1a" stroke-width="1.5" stroke-linejoin="round"/>
<polyline points="438.4,321.4 438.6,321.5 438.9,321.5 439.1,321.6 439.4,321.8 439.6,322.1 439.9,322.6 440.1,323.3 440.4,324.4 440.6,325.9 440.9,327.8 441.1,330.1 441.4,332.8 441.6,335.7 441.9,338.5 442.2,341 442.4,342.8 442.7,343.8 442.9,343.8 443.2,342.8 443.4,340.8 443.7,338.2 443.9,335 444.2,331.7 444.4,328.4 444.7,325.3 444.9,322.4 445.2,319.7 445.4,317.3 445.7,314.9 445.9,312.7 446.2,310.6 446.5,308.5 446.7,306.5 447,304.7 447.2,303.1 447.5,301.8 447.7,300.9 448,300.5 448.2,300.5 448.5,300.9 448.7,301.8 449,303.1 449.2,304.8 449.5,306.6 449.7,308.6 450,310.8 450.2,312.9 450.5,315 450.7,317.1 451,319 451.3,320.9 451.5,322.5 451.8,324.1 452,325.4 452.3,326.4 452.5,327.3 452.8,327.8 453,328.1 453.3,328.1 453.5,327.8 453.8,327.3 454,326.7 454.3,326 454.5,325.2 454.8,324.5 455,323.8 455.3,323.2 455.6,322.7 455.8,322.3 456.1,322 456.3,321.8 456.6,321.7 456.8,321.6 457.1,321.5 457.3,321.5 457.6,321.4 457.8,321.4 458.1,321.4" fill="none" stroke="#ff1a1a" stroke-width="1.5" stroke-linejoin="round"/>
<polyline points="487,321.4 487.2,321.4 487.5,321.4 487.7,321.5 488,321.6 488.3,321.9 488.5,322.5 488.8,323.3 489,324.4 489.3,325.2 489.5,325.4 489.8,324.9 490.1,324 490.3,322.8 490.6,321.8 490.8,320.8 491.1,319.7 491.3,318.5 491.6,317.4 491.9,316.8 492.1,317.1 492.4,318 492.6,319.2 492.9,320.2 493.1,320.9 493.4,321.2 493.7,321.3 493.9,321.4 494.2,321.4 494.4,321.4" fill="none" stroke="#ff1a1a" stroke-width="1.5" stroke-linejoin="round"/>
<polyline points="494.4,321.4 494.7,321.4 494.9,321.5 495.2,321.5 495.4,321.6 495.7,321.7 496,321.9 496.2,322.2 496.5,322.6 496.7,323.2 497,324 497.2,324.9 497.5,326 497.7,327.3 498,328.6 498.2,329.9 498.5,331 498.7,332 499,332.5 499.2,332.7 499.5,332.5 499.7,331.8 500,330.8 500.2,329.7 500.5,328.4 500.7,327 501,325.8 501.2,324.7 501.5,323.8 501.7,323.1 502,322.5 502.2,322.1 502.5,321.9 502.7,321.7 503,321.6 503.3,321.5 503.5,321.4 503.8,321.4 504,321.4 504.3,321.4 504.5,321.4 504.8,321.4 505,321.4 505.3,321.4 505.5,321.4 505.8,321.4 506,321.4" fill="none" stroke="#ff1a1a" stroke-width="1.5" stroke-linejoin="round"/>
<line x1="343.4" y1="321.4" x2="512.7" y2="321.4" stroke="#238e23" stroke-width="0.9" stroke-dasharray="1.4,1.4"/>
<polyline points="357,321.4 357.5,319.3 358.3,324 359,325.4 359.7,321.4" fill="none" stroke="#238e23" stroke-width="0.8" stroke-linejoin="round" stroke-dasharray="2.8,0.9"/>
<polyline points="376.7,321.4 377.3,344.3 377.9,322 378.5,321.4" fill="none" stroke="#238e23" stroke-width="0.8" stroke-linejoin="round" stroke-dasharray="2.8,0.9"/>
<polyline points="378.6,321.4 379.1,315.6 379.6,321.4" fill="none" stroke="#238e23" stroke-width="0.8" stroke-linejoin="round" stroke-dasharray="2.8,0.9"/>
<polyline points="386.6,321.4 387.1,318.7 387.6,324 388.2,328.5 388.8,321.4" fill="none" stroke="#238e23" stroke-width="0.8" stroke-linejoin="round" stroke-dasharray="2.8,0.9"/>
<polyline points="399.2,321.4 399.7,330.9 400.2,321.4" fill="none" stroke="#238e23" stroke-width="0.8" stroke-linejoin="round" stroke-dasharray="2.8,0.9"/>
<polyline points="440,321.4 440.5,316.8 441,321.4" fill="none" stroke="#238e23" stroke-width="0.8" stroke-linejoin="round" stroke-dasharray="2.8,0.9"/>
<polyline points="444.6,321.4 445.1,319.3 445.6,321.4" fill="none" stroke="#238e23" stroke-width="0.8" stroke-linejoin="round" stroke-dasharray="2.8,0.9"/>
<polyline points="450.8,321.4 451.5,330.9 452.2,324 452.8,321.4" fill="none" stroke="#238e23" stroke-width="0.8" stroke-linejoin="round" stroke-dasharray="2.8,0.9"/>
<polyline points="455.6,321.4 456.1,319.5 456.6,321.4" fill="none" stroke="#238e23" stroke-width="0.8" stroke-linejoin="round" stroke-dasharray="2.8,0.9"/>
<polyline points="489.6,321.4 490.3,329.7 491,321.4" fill="none" stroke="#238e23" stroke-width="0.8" stroke-linejoin="round" stroke-dasharray="2.8,0.9"/>
<polyline points="496.4,321.4 497,317.4 497.6,324 498.2,321.4" fill="none" stroke="#238e23" stroke-width="0.8" stroke-linejoin="round" stroke-dasharray="2.8,0.9"/>
<polyline points="498.8,321.4 499.3,317.4 499.8,321.4" fill="none" stroke="#238e23" stroke-width="0.8" stroke-linejoin="round" stroke-dasharray="2.8,0.9"/>
<rect x="334.5" y="295.3" width="187" height="51.5" fill="none" stroke="#303030" stroke-width="0.65"/>
<line x1="336.3" y1="346.8" x2="336.3" y2="347.8" stroke="#303030" stroke-width="0.6"/>
<line x1="343.4" y1="346.8" x2="343.4" y2="348.6" stroke="#303030" stroke-width="0.6"/>
<line x1="350.5" y1="346.8" x2="350.5" y2="347.8" stroke="#303030" stroke-width="0.6"/>
<line x1="357.7" y1="346.8" x2="357.7" y2="347.8" stroke="#303030" stroke-width="0.6"/>
<line x1="364.8" y1="346.8" x2="364.8" y2="347.8" stroke="#303030" stroke-width="0.6"/>
<line x1="372" y1="346.8" x2="372" y2="347.8" stroke="#303030" stroke-width="0.6"/>
<line x1="379.1" y1="346.8" x2="379.1" y2="348.6" stroke="#303030" stroke-width="0.6"/>
<line x1="386.3" y1="346.8" x2="386.3" y2="347.8" stroke="#303030" stroke-width="0.6"/>
<line x1="393.4" y1="346.8" x2="393.4" y2="347.8" stroke="#303030" stroke-width="0.6"/>
<line x1="400.6" y1="346.8" x2="400.6" y2="347.8" stroke="#303030" stroke-width="0.6"/>
<line x1="407.7" y1="346.8" x2="407.7" y2="347.8" stroke="#303030" stroke-width="0.6"/>
<line x1="414.8" y1="346.8" x2="414.8" y2="348.6" stroke="#303030" stroke-width="0.6"/>
<line x1="422" y1="346.8" x2="422" y2="347.8" stroke="#303030" stroke-width="0.6"/>
<line x1="429.1" y1="346.8" x2="429.1" y2="347.8" stroke="#303030" stroke-width="0.6"/>
<line x1="436.3" y1="346.8" x2="436.3" y2="347.8" stroke="#303030" stroke-width="0.6"/>
<line x1="443.4" y1="346.8" x2="443.4" y2="347.8" stroke="#303030" stroke-width="0.6"/>
<line x1="450.6" y1="346.8" x2="450.6" y2="348.6" stroke="#303030" stroke-width="0.6"/>
<line x1="457.7" y1="346.8" x2="457.7" y2="347.8" stroke="#303030" stroke-width="0.6"/>
<line x1="464.9" y1="346.8" x2="464.9" y2="347.8" stroke="#303030" stroke-width="0.6"/>
<line x1="472" y1="346.8" x2="472" y2="347.8" stroke="#303030" stroke-width="0.6"/>
<line x1="479.2" y1="346.8" x2="479.2" y2="347.8" stroke="#303030" stroke-width="0.6"/>
<line x1="486.3" y1="346.8" x2="486.3" y2="348.6" stroke="#303030" stroke-width="0.6"/>
<line x1="493.4" y1="346.8" x2="493.4" y2="347.8" stroke="#303030" stroke-width="0.6"/>
<line x1="500.6" y1="346.8" x2="500.6" y2="347.8" stroke="#303030" stroke-width="0.6"/>
<line x1="507.7" y1="346.8" x2="507.7" y2="347.8" stroke="#303030" stroke-width="0.6"/>
<line x1="514.9" y1="346.8" x2="514.9" y2="347.8" stroke="#303030" stroke-width="0.6"/>
<line x1="334.5" y1="343.7" x2="333.5" y2="343.7" stroke="#303030" stroke-width="0.6"/>
<line x1="334.5" y1="340.5" x2="333.5" y2="340.5" stroke="#303030" stroke-width="0.6"/>
<line x1="334.5" y1="337.3" x2="332.7" y2="337.3" stroke="#303030" stroke-width="0.6"/>
<line x1="334.5" y1="334.1" x2="333.5" y2="334.1" stroke="#303030" stroke-width="0.6"/>
<line x1="334.5" y1="330.9" x2="333.5" y2="330.9" stroke="#303030" stroke-width="0.6"/>
<line x1="334.5" y1="327.8" x2="333.5" y2="327.8" stroke="#303030" stroke-width="0.6"/>
<line x1="334.5" y1="324.6" x2="333.5" y2="324.6" stroke="#303030" stroke-width="0.6"/>
<line x1="334.5" y1="321.4" x2="332.7" y2="321.4" stroke="#303030" stroke-width="0.6"/>
<line x1="334.5" y1="318.2" x2="333.5" y2="318.2" stroke="#303030" stroke-width="0.6"/>
<line x1="334.5" y1="315" x2="333.5" y2="315" stroke="#303030" stroke-width="0.6"/>
<line x1="334.5" y1="311.9" x2="333.5" y2="311.9" stroke="#303030" stroke-width="0.6"/>
<line x1="334.5" y1="308.7" x2="333.5" y2="308.7" stroke="#303030" stroke-width="0.6"/>
<line x1="334.5" y1="305.5" x2="332.7" y2="305.5" stroke="#303030" stroke-width="0.6"/>
<line x1="334.5" y1="302.3" x2="333.5" y2="302.3" stroke="#303030" stroke-width="0.6"/>
<line x1="334.5" y1="299.1" x2="333.5" y2="299.1" stroke="#303030" stroke-width="0.6"/>
<line x1="334.5" y1="296" x2="333.5" y2="296" stroke="#303030" stroke-width="0.6"/>
<line x1="521.5" y1="308.6" x2="523.3" y2="308.6" stroke="#303030" stroke-width="0.6"/>
<line x1="521.5" y1="321.4" x2="523.3" y2="321.4" stroke="#303030" stroke-width="0.6"/>
<line x1="521.5" y1="334.4" x2="523.3" y2="334.4" stroke="#303030" stroke-width="0.6"/>
<line x1="521.5" y1="299" x2="522.5" y2="299" stroke="#303030" stroke-width="0.5"/>
<line x1="521.5" y1="302.2" x2="522.5" y2="302.2" stroke="#303030" stroke-width="0.5"/>
<line x1="521.5" y1="305.4" x2="522.5" y2="305.4" stroke="#303030" stroke-width="0.5"/>
<line x1="521.5" y1="311.8" x2="522.5" y2="311.8" stroke="#303030" stroke-width="0.5"/>
<line x1="521.5" y1="315" x2="522.5" y2="315" stroke="#303030" stroke-width="0.5"/>
<line x1="521.5" y1="318.2" x2="522.5" y2="318.2" stroke="#303030" stroke-width="0.5"/>
<line x1="521.5" y1="324.6" x2="522.5" y2="324.6" stroke="#303030" stroke-width="0.5"/>
<line x1="521.5" y1="327.8" x2="522.5" y2="327.8" stroke="#303030" stroke-width="0.5"/>
<line x1="521.5" y1="331" x2="522.5" y2="331" stroke="#303030" stroke-width="0.5"/>
<line x1="521.5" y1="337.4" x2="522.5" y2="337.4" stroke="#303030" stroke-width="0.5"/>
<line x1="521.5" y1="340.6" x2="522.5" y2="340.6" stroke="#303030" stroke-width="0.5"/>
<line x1="521.5" y1="343.8" x2="522.5" y2="343.8" stroke="#303030" stroke-width="0.5"/>
<text x="332" y="307.4" font-size="5.6" text-anchor="end">10</text>
<text x="332" y="323.3" font-size="5.6" text-anchor="end">0</text>
<text x="332" y="339.2" font-size="5.6" text-anchor="end">−10</text>
<text x="524.8" y="310.5" font-size="5.6" text-anchor="start">2.5</text>
<text x="524.8" y="323.3" font-size="5.6" text-anchor="start">0.0</text>
<text x="524.8" y="336.3" font-size="5.6" text-anchor="start">−2.5</text>
<text transform="translate(318.1,321.1) rotate(-90)" font-size="6" text-anchor="middle" style="fill:#222"><tspan font-style="italic">F</tspan><tspan font-size="4.2" font-style="italic" dy="1.3">y</tspan><tspan dy="-1.3"> (N)</tspan></text>
<text class="sans" transform="translate(541.9,321.1) rotate(-90)" font-size="5.8" text-anchor="middle" textLength="19.8" lengthAdjust="spacingAndGlyphs">Error (N)</text>
</g>
<g>
<line x1="336.3" y1="357.3" x2="336.3" y2="408" stroke="#c4c4c4" stroke-width="0.5" stroke-dasharray="3,0.6"/>
<line x1="350.5" y1="357.3" x2="350.5" y2="408" stroke="#c4c4c4" stroke-width="0.5" stroke-dasharray="3,0.6"/>
<line x1="357.7" y1="357.3" x2="357.7" y2="408" stroke="#c4c4c4" stroke-width="0.5" stroke-dasharray="3,0.6"/>
<line x1="364.8" y1="357.3" x2="364.8" y2="408" stroke="#c4c4c4" stroke-width="0.5" stroke-dasharray="3,0.6"/>
<line x1="372" y1="357.3" x2="372" y2="408" stroke="#c4c4c4" stroke-width="0.5" stroke-dasharray="3,0.6"/>
<line x1="386.3" y1="357.3" x2="386.3" y2="408" stroke="#c4c4c4" stroke-width="0.5" stroke-dasharray="3,0.6"/>
<line x1="393.4" y1="357.3" x2="393.4" y2="408" stroke="#c4c4c4" stroke-width="0.5" stroke-dasharray="3,0.6"/>
<line x1="400.6" y1="357.3" x2="400.6" y2="408" stroke="#c4c4c4" stroke-width="0.5" stroke-dasharray="3,0.6"/>
<line x1="407.7" y1="357.3" x2="407.7" y2="408" stroke="#c4c4c4" stroke-width="0.5" stroke-dasharray="3,0.6"/>
<line x1="422" y1="357.3" x2="422" y2="408" stroke="#c4c4c4" stroke-width="0.5" stroke-dasharray="3,0.6"/>
<line x1="429.1" y1="357.3" x2="429.1" y2="408" stroke="#c4c4c4" stroke-width="0.5" stroke-dasharray="3,0.6"/>
<line x1="436.3" y1="357.3" x2="436.3" y2="408" stroke="#c4c4c4" stroke-width="0.5" stroke-dasharray="3,0.6"/>
<line x1="443.4" y1="357.3" x2="443.4" y2="408" stroke="#c4c4c4" stroke-width="0.5" stroke-dasharray="3,0.6"/>
<line x1="457.7" y1="357.3" x2="457.7" y2="408" stroke="#c4c4c4" stroke-width="0.5" stroke-dasharray="3,0.6"/>
<line x1="464.9" y1="357.3" x2="464.9" y2="408" stroke="#c4c4c4" stroke-width="0.5" stroke-dasharray="3,0.6"/>
<line x1="472" y1="357.3" x2="472" y2="408" stroke="#c4c4c4" stroke-width="0.5" stroke-dasharray="3,0.6"/>
<line x1="479.2" y1="357.3" x2="479.2" y2="408" stroke="#c4c4c4" stroke-width="0.5" stroke-dasharray="3,0.6"/>
<line x1="493.4" y1="357.3" x2="493.4" y2="408" stroke="#c4c4c4" stroke-width="0.5" stroke-dasharray="3,0.6"/>
<line x1="500.6" y1="357.3" x2="500.6" y2="408" stroke="#c4c4c4" stroke-width="0.5" stroke-dasharray="3,0.6"/>
<line x1="507.7" y1="357.3" x2="507.7" y2="408" stroke="#c4c4c4" stroke-width="0.5" stroke-dasharray="3,0.6"/>
<line x1="514.9" y1="357.3" x2="514.9" y2="408" stroke="#c4c4c4" stroke-width="0.5" stroke-dasharray="3,0.6"/>
<line x1="334.5" y1="406.2" x2="521.5" y2="406.2" stroke="#b4b4b4" stroke-width="0.5" stroke-dasharray="3,0.9"/>
<line x1="334.5" y1="403.3" x2="521.5" y2="403.3" stroke="#b4b4b4" stroke-width="0.5" stroke-dasharray="3,0.9"/>
<line x1="334.5" y1="400.3" x2="521.5" y2="400.3" stroke="#b4b4b4" stroke-width="0.5" stroke-dasharray="3,0.9"/>
<line x1="334.5" y1="394.3" x2="521.5" y2="394.3" stroke="#b4b4b4" stroke-width="0.5" stroke-dasharray="3,0.9"/>
<line x1="334.5" y1="391.3" x2="521.5" y2="391.3" stroke="#b4b4b4" stroke-width="0.5" stroke-dasharray="3,0.9"/>
<line x1="334.5" y1="388.4" x2="521.5" y2="388.4" stroke="#b4b4b4" stroke-width="0.5" stroke-dasharray="3,0.9"/>
<line x1="334.5" y1="385.4" x2="521.5" y2="385.4" stroke="#b4b4b4" stroke-width="0.5" stroke-dasharray="3,0.9"/>
<line x1="334.5" y1="379.4" x2="521.5" y2="379.4" stroke="#b4b4b4" stroke-width="0.5" stroke-dasharray="3,0.9"/>
<line x1="334.5" y1="376.4" x2="521.5" y2="376.4" stroke="#b4b4b4" stroke-width="0.5" stroke-dasharray="3,0.9"/>
<line x1="334.5" y1="373.5" x2="521.5" y2="373.5" stroke="#b4b4b4" stroke-width="0.5" stroke-dasharray="3,0.9"/>
<line x1="334.5" y1="370.5" x2="521.5" y2="370.5" stroke="#b4b4b4" stroke-width="0.5" stroke-dasharray="3,0.9"/>
<line x1="334.5" y1="364.5" x2="521.5" y2="364.5" stroke="#b4b4b4" stroke-width="0.5" stroke-dasharray="3,0.9"/>
<line x1="334.5" y1="361.5" x2="521.5" y2="361.5" stroke="#b4b4b4" stroke-width="0.5" stroke-dasharray="3,0.9"/>
<line x1="334.5" y1="358.6" x2="521.5" y2="358.6" stroke="#b4b4b4" stroke-width="0.5" stroke-dasharray="3,0.9"/>
<line x1="343.4" y1="357.3" x2="343.4" y2="408" stroke="#858585" stroke-width="0.7"/>
<line x1="379.1" y1="357.3" x2="379.1" y2="408" stroke="#858585" stroke-width="0.7"/>
<line x1="414.8" y1="357.3" x2="414.8" y2="408" stroke="#858585" stroke-width="0.7"/>
<line x1="450.6" y1="357.3" x2="450.6" y2="408" stroke="#858585" stroke-width="0.7"/>
<line x1="486.3" y1="357.3" x2="486.3" y2="408" stroke="#858585" stroke-width="0.7"/>
<line x1="334.5" y1="397.3" x2="521.5" y2="397.3" stroke="#7a7a7a" stroke-width="0.8"/>
<line x1="334.5" y1="367.5" x2="521.5" y2="367.5" stroke="#7a7a7a" stroke-width="0.8"/>
<polyline points="355.4,382.7 355.7,383.1 355.9,383.7 356.2,384.7 356.4,386 356.7,387.5 356.9,388.7 357.2,389.6 357.4,390.1 357.7,390.5 357.9,391.2 358.2,392 358.4,393 358.7,393.9" fill="none" stroke="#1a1aff" stroke-width="1.3" stroke-linejoin="round"/>
<polyline points="372.4,382.7 372.6,382.9 372.9,383.3 373.1,384 373.4,385.1 373.6,386.6 373.9,388.3 374.1,390.2 374.4,391.7 374.6,392.7 374.9,393.2 375.2,393.5 375.4,393.8 375.7,394.5 375.9,395.6 376.2,396.9 376.4,398.3" fill="none" stroke="#1a1aff" stroke-width="1.3" stroke-linejoin="round"/>
<line x1="343.4" y1="382.4" x2="512.7" y2="382.4" stroke="#ff1a1a" stroke-width="1.2"/>
<polyline points="354.4,382.4 354.7,382.4 354.9,382.5 355.2,382.5 355.4,382.6 355.7,382.7 355.9,382.9 356.2,383.2 356.4,383.7 356.7,384.3 356.9,385.1 357.2,386.1 357.4,387.4 357.7,388.7 357.9,390.1 358.2,391.5 358.4,392.8 358.7,393.8 358.9,394.5 359.2,394.7 359.5,394.5 359.7,393.8 360,392.8 360.2,391.5 360.5,390.1 360.7,388.7 361,387.4 361.2,386.1 361.5,385.1 361.7,384.3 362,383.7 362.2,383.2 362.5,382.9 362.7,382.7 363,382.6 363.2,382.5 363.5,382.5 363.7,382.4 364,382.4" fill="none" stroke="#ff1a1a" stroke-width="1.5" stroke-linejoin="round"/>
<polyline points="371.3,382.4 371.6,382.5 371.8,382.5 372.1,382.6 372.4,382.6 372.6,382.8 372.9,383 373.1,383.2 373.4,383.5 373.6,384 373.9,384.5 374.1,385.3 374.4,386.2 374.6,387.2 374.9,388.5 375.2,389.9 375.4,391.4 375.7,393.1 375.9,394.8 376.2,396.6 376.4,398.2 376.7,399.7 376.9,401 377.2,401.9 377.4,402.5 377.7,402.7 378,402.5 378.2,401.9 378.5,401 378.7,399.7 379,398.2 379.2,396.6 379.5,394.8 379.7,393.1 380,391.4 380.2,389.9 380.5,388.5 380.8,387.2 381,386.2 381.3,385.3 381.5,384.5 381.8,384 382,383.5 382.3,383.2 382.5,383 382.8,382.8 383,382.6 383.3,382.6 383.6,382.5 383.8,382.5 384.1,382.4" fill="none" stroke="#ff1a1a" stroke-width="1.5" stroke-linejoin="round"/>
<polyline points="386.5,382.4 386.7,382.4 387,382.4 387.2,382.5 387.5,382.7 387.7,383.3 388,384.4 388.2,386.1 388.5,388.1 388.7,389.8 389,390.5 389.3,389.8 389.5,388.1 389.8,386.1 390,384.4 390.3,383.3 390.5,382.7 390.8,382.5 391,382.4 391.3,382.4 391.5,382.4" fill="none" stroke="#ff1a1a" stroke-width="1.5" stroke-linejoin="round"/>
<polyline points="395.8,382.4 396,382.4 396.3,382.5 396.6,382.6 396.8,382.7 397.1,383 397.3,383.4 397.6,384.1 397.8,385.1 398.1,386.4 398.4,388.1 398.6,390.2 398.9,392.3 399.1,394.4 399.4,396.2 399.6,397.4 399.9,397.8 400.2,397.4 400.4,396.2 400.7,394.4 400.9,392.3 401.2,390.2 401.4,388.1 401.7,386.4 402,385.1 402.2,384.1 402.5,383.4 402.7,383 403,382.7 403.2,382.6 403.5,382.5 403.8,382.4 404,382.4" fill="none" stroke="#ff1a1a" stroke-width="1.5" stroke-linejoin="round"/>
<polyline points="440,382.4 440.2,382.4 440.5,382.4 440.7,382.5 441,382.6 441.2,382.8 441.5,383.3 441.7,384.1 442,385.2 442.2,386.4 442.5,387.4 442.7,388 443,387.8 443.2,387.1 443.5,385.9 443.7,384.8 444,383.8 444.2,383.1 444.5,382.7 444.7,382.6 445,382.5 445.2,382.5 445.5,382.5 445.7,382.6 446,382.7 446.2,382.8 446.5,383 446.7,383.2 447,383.6 447.2,384 447.5,384.6 447.7,385.4 448,386.3 448.2,387.5 448.5,388.8 448.7,390.4 449,392.1 449.2,394 449.5,396 449.7,398 450,400 450.2,401.8 450.5,403.4 450.7,404.7 451,405.7 451.2,406.2 451.5,406.3 451.7,405.9 452,405 452.2,403.8 452.5,402.3 452.7,400.5 453,398.5 453.2,396.5 453.5,394.5 453.7,392.6 454,390.8 454.3,389.2 454.5,387.8 454.8,386.6 455,385.6 455.3,384.8 455.5,384.2 455.8,383.7 456,383.3 456.3,383 456.5,382.8 456.8,382.7 457,382.6 457.3,382.5 457.5,382.5 457.8,382.4" fill="none" stroke="#ff1a1a" stroke-width="1.5" stroke-linejoin="round"/>
<polyline points="488,382.4 488.2,382.4 488.5,382.4 488.7,382.4 489,382.5 489.2,382.8 489.5,383.2 489.7,383.8 490,384.6 490.2,385.3 490.5,385.6 490.8,385.3 491,384.6 491.3,383.8 491.5,383.2 491.8,382.8 492,382.5 492.3,382.4 492.5,382.4 492.8,382.4 493,382.4" fill="none" stroke="#ff1a1a" stroke-width="1.5" stroke-linejoin="round"/>
<polyline points="494.9,382.4 495.2,382.4 495.4,382.5 495.7,382.5 496,382.6 496.2,382.6 496.5,382.8 496.7,382.9 497,383.1 497.2,383.4 497.5,383.8 497.7,384.2 498,384.8 498.2,385.5 498.5,386.3 498.8,387.2 499,388.1 499.3,389.2 499.5,390.3 499.8,391.4 500,392.4 500.3,393.4 500.5,394.2 500.8,394.8 501,395.2 501.3,395.3 501.6,395.2 501.8,394.8 502.1,394.2 502.3,393.4 502.6,392.4 502.8,391.4 503.1,390.3 503.3,389.2 503.6,388.1 503.8,387.2 504.1,386.3 504.4,385.5 504.6,384.8 504.9,384.2 505.1,383.8 505.4,383.4 505.6,383.1 505.9,382.9 506.1,382.8 506.4,382.6 506.6,382.6 506.9,382.5 507.2,382.5 507.4,382.4 507.7,382.4" fill="none" stroke="#ff1a1a" stroke-width="1.5" stroke-linejoin="round"/>
<line x1="343.4" y1="382.4" x2="512.7" y2="382.4" stroke="#238e23" stroke-width="0.9" stroke-dasharray="1.4,1.4"/>
<polyline points="344.6,382.4 345.1,379.4 345.6,382.4" fill="none" stroke="#238e23" stroke-width="0.8" stroke-linejoin="round" stroke-dasharray="2.8,0.9"/>
<polyline points="356.6,382.4 357.1,376.4 357.6,382.4" fill="none" stroke="#238e23" stroke-width="0.8" stroke-linejoin="round" stroke-dasharray="2.8,0.9"/>
<polyline points="358,382.4 358.5,379 359,382.4" fill="none" stroke="#238e23" stroke-width="0.8" stroke-linejoin="round" stroke-dasharray="2.8,0.9"/>
<polyline points="374.4,382.4 375,375.2 375.7,382.4" fill="none" stroke="#238e23" stroke-width="0.8" stroke-linejoin="round" stroke-dasharray="2.8,0.9"/>
<polyline points="378.4,382.4 379,406.3 379.6,386 380.2,382.4" fill="none" stroke="#238e23" stroke-width="0.8" stroke-linejoin="round" stroke-dasharray="2.8,0.9"/>
<polyline points="380.6,382.4 381.1,376.4 381.6,382.4" fill="none" stroke="#238e23" stroke-width="0.8" stroke-linejoin="round" stroke-dasharray="2.8,0.9"/>
<polyline points="387,382.4 387.6,377.6 388.2,382.4" fill="none" stroke="#238e23" stroke-width="0.8" stroke-linejoin="round" stroke-dasharray="2.8,0.9"/>
<polyline points="397.6,382.4 398.2,379 398.8,382.4" fill="none" stroke="#238e23" stroke-width="0.8" stroke-linejoin="round" stroke-dasharray="2.8,0.9"/>
<polyline points="398.6,382.4 399.1,376.4 399.6,382.4" fill="none" stroke="#238e23" stroke-width="0.8" stroke-linejoin="round" stroke-dasharray="2.8,0.9"/>
<polyline points="441,382.4 441.5,380 442,382.4" fill="none" stroke="#238e23" stroke-width="0.8" stroke-linejoin="round" stroke-dasharray="2.8,0.9"/>
<polyline points="446,382.4 447,392 448.5,396 449.5,382.4" fill="none" stroke="#238e23" stroke-width="0.8" stroke-linejoin="round" stroke-dasharray="2.8,0.9"/>
<polyline points="455.6,382.4 456.1,380 456.6,382.4" fill="none" stroke="#238e23" stroke-width="0.8" stroke-linejoin="round" stroke-dasharray="2.8,0.9"/>
<polyline points="489.6,382.4 490.3,378.2 490.8,389.8 491.3,382.4" fill="none" stroke="#238e23" stroke-width="0.8" stroke-linejoin="round" stroke-dasharray="2.8,0.9"/>
<polyline points="496,382.4 496.5,377 497,388 497.5,382.4" fill="none" stroke="#238e23" stroke-width="0.8" stroke-linejoin="round" stroke-dasharray="2.8,0.9"/>
<polyline points="499,382.4 499.5,377.6 500,382.4" fill="none" stroke="#238e23" stroke-width="0.8" stroke-linejoin="round" stroke-dasharray="2.8,0.9"/>
<rect x="334.5" y="357.3" width="187" height="50.7" fill="none" stroke="#303030" stroke-width="0.65"/>
<line x1="336.3" y1="408" x2="336.3" y2="409" stroke="#303030" stroke-width="0.6"/>
<line x1="343.4" y1="408" x2="343.4" y2="409.8" stroke="#303030" stroke-width="0.6"/>
<line x1="350.5" y1="408" x2="350.5" y2="409" stroke="#303030" stroke-width="0.6"/>
<line x1="357.7" y1="408" x2="357.7" y2="409" stroke="#303030" stroke-width="0.6"/>
<line x1="364.8" y1="408" x2="364.8" y2="409" stroke="#303030" stroke-width="0.6"/>
<line x1="372" y1="408" x2="372" y2="409" stroke="#303030" stroke-width="0.6"/>
<line x1="379.1" y1="408" x2="379.1" y2="409.8" stroke="#303030" stroke-width="0.6"/>
<line x1="386.3" y1="408" x2="386.3" y2="409" stroke="#303030" stroke-width="0.6"/>
<line x1="393.4" y1="408" x2="393.4" y2="409" stroke="#303030" stroke-width="0.6"/>
<line x1="400.6" y1="408" x2="400.6" y2="409" stroke="#303030" stroke-width="0.6"/>
<line x1="407.7" y1="408" x2="407.7" y2="409" stroke="#303030" stroke-width="0.6"/>
<line x1="414.8" y1="408" x2="414.8" y2="409.8" stroke="#303030" stroke-width="0.6"/>
<line x1="422" y1="408" x2="422" y2="409" stroke="#303030" stroke-width="0.6"/>
<line x1="429.1" y1="408" x2="429.1" y2="409" stroke="#303030" stroke-width="0.6"/>
<line x1="436.3" y1="408" x2="436.3" y2="409" stroke="#303030" stroke-width="0.6"/>
<line x1="443.4" y1="408" x2="443.4" y2="409" stroke="#303030" stroke-width="0.6"/>
<line x1="450.6" y1="408" x2="450.6" y2="409.8" stroke="#303030" stroke-width="0.6"/>
<line x1="457.7" y1="408" x2="457.7" y2="409" stroke="#303030" stroke-width="0.6"/>
<line x1="464.9" y1="408" x2="464.9" y2="409" stroke="#303030" stroke-width="0.6"/>
<line x1="472" y1="408" x2="472" y2="409" stroke="#303030" stroke-width="0.6"/>
<line x1="479.2" y1="408" x2="479.2" y2="409" stroke="#303030" stroke-width="0.6"/>
<line x1="486.3" y1="408" x2="486.3" y2="409.8" stroke="#303030" stroke-width="0.6"/>
<line x1="493.4" y1="408" x2="493.4" y2="409" stroke="#303030" stroke-width="0.6"/>
<line x1="500.6" y1="408" x2="500.6" y2="409" stroke="#303030" stroke-width="0.6"/>
<line x1="507.7" y1="408" x2="507.7" y2="409" stroke="#303030" stroke-width="0.6"/>
<line x1="514.9" y1="408" x2="514.9" y2="409" stroke="#303030" stroke-width="0.6"/>
<line x1="334.5" y1="406.2" x2="333.5" y2="406.2" stroke="#303030" stroke-width="0.6"/>
<line x1="334.5" y1="403.3" x2="333.5" y2="403.3" stroke="#303030" stroke-width="0.6"/>
<line x1="334.5" y1="400.3" x2="333.5" y2="400.3" stroke="#303030" stroke-width="0.6"/>
<line x1="334.5" y1="397.3" x2="332.7" y2="397.3" stroke="#303030" stroke-width="0.6"/>
<line x1="334.5" y1="394.3" x2="333.5" y2="394.3" stroke="#303030" stroke-width="0.6"/>
<line x1="334.5" y1="391.3" x2="333.5" y2="391.3" stroke="#303030" stroke-width="0.6"/>
<line x1="334.5" y1="388.4" x2="333.5" y2="388.4" stroke="#303030" stroke-width="0.6"/>
<line x1="334.5" y1="385.4" x2="333.5" y2="385.4" stroke="#303030" stroke-width="0.6"/>
<line x1="334.5" y1="382.4" x2="332.7" y2="382.4" stroke="#303030" stroke-width="0.6"/>
<line x1="334.5" y1="379.4" x2="333.5" y2="379.4" stroke="#303030" stroke-width="0.6"/>
<line x1="334.5" y1="376.4" x2="333.5" y2="376.4" stroke="#303030" stroke-width="0.6"/>
<line x1="334.5" y1="373.5" x2="333.5" y2="373.5" stroke="#303030" stroke-width="0.6"/>
<line x1="334.5" y1="370.5" x2="333.5" y2="370.5" stroke="#303030" stroke-width="0.6"/>
<line x1="334.5" y1="367.5" x2="332.7" y2="367.5" stroke="#303030" stroke-width="0.6"/>
<line x1="334.5" y1="364.5" x2="333.5" y2="364.5" stroke="#303030" stroke-width="0.6"/>
<line x1="334.5" y1="361.5" x2="333.5" y2="361.5" stroke="#303030" stroke-width="0.6"/>
<line x1="334.5" y1="358.6" x2="333.5" y2="358.6" stroke="#303030" stroke-width="0.6"/>
<line x1="521.5" y1="368.4" x2="523.3" y2="368.4" stroke="#303030" stroke-width="0.6"/>
<line x1="521.5" y1="382.5" x2="523.3" y2="382.5" stroke="#303030" stroke-width="0.6"/>
<line x1="521.5" y1="396.8" x2="523.3" y2="396.8" stroke="#303030" stroke-width="0.6"/>
<line x1="521.5" y1="357.8" x2="522.5" y2="357.8" stroke="#303030" stroke-width="0.5"/>
<line x1="521.5" y1="361.3" x2="522.5" y2="361.3" stroke="#303030" stroke-width="0.5"/>
<line x1="521.5" y1="364.9" x2="522.5" y2="364.9" stroke="#303030" stroke-width="0.5"/>
<line x1="521.5" y1="371.9" x2="522.5" y2="371.9" stroke="#303030" stroke-width="0.5"/>
<line x1="521.5" y1="375.4" x2="522.5" y2="375.4" stroke="#303030" stroke-width="0.5"/>
<line x1="521.5" y1="379" x2="522.5" y2="379" stroke="#303030" stroke-width="0.5"/>
<line x1="521.5" y1="386" x2="522.5" y2="386" stroke="#303030" stroke-width="0.5"/>
<line x1="521.5" y1="389.6" x2="522.5" y2="389.6" stroke="#303030" stroke-width="0.5"/>
<line x1="521.5" y1="393.1" x2="522.5" y2="393.1" stroke="#303030" stroke-width="0.5"/>
<line x1="521.5" y1="400.1" x2="522.5" y2="400.1" stroke="#303030" stroke-width="0.5"/>
<line x1="521.5" y1="403.7" x2="522.5" y2="403.7" stroke="#303030" stroke-width="0.5"/>
<line x1="521.5" y1="407.2" x2="522.5" y2="407.2" stroke="#303030" stroke-width="0.5"/>
<text x="332" y="369.4" font-size="5.6" text-anchor="end">10</text>
<text x="332" y="384.3" font-size="5.6" text-anchor="end">0</text>
<text x="332" y="399.2" font-size="5.6" text-anchor="end">−10</text>
<text x="524.8" y="370.3" font-size="5.6" text-anchor="start">2</text>
<text x="524.8" y="384.4" font-size="5.6" text-anchor="start">0</text>
<text x="524.8" y="398.7" font-size="5.6" text-anchor="start">−2</text>
<text transform="translate(318.1,382.6) rotate(-90)" font-size="6" text-anchor="middle" style="fill:#222"><tspan font-style="italic">F</tspan><tspan font-size="4.2" font-style="italic" dy="1.3">z</tspan><tspan dy="-1.3"> (N)</tspan></text>
<text class="sans" transform="translate(537.9,382.6) rotate(-90)" font-size="5.8" text-anchor="middle" textLength="19.8" lengthAdjust="spacingAndGlyphs">Error (N)</text>
</g>
<text x="343.4" y="415.7" font-size="5.6" text-anchor="middle">0</text>
<text x="379.1" y="415.7" font-size="5.6" text-anchor="middle">5</text>
<text x="414.8" y="415.7" font-size="5.6" text-anchor="middle">10</text>
<text x="450.6" y="415.7" font-size="5.6" text-anchor="middle">15</text>
<text x="486.3" y="415.7" font-size="5.6" text-anchor="middle">20</text>
<text x="428.1" y="423.2" font-size="5.8" text-anchor="middle" class="sans" textLength="18.2" lengthAdjust="spacingAndGlyphs">Time (s)</text>
<line x1="368.2" y1="426.5" x2="379.8" y2="426.5" stroke="#1a1aff" stroke-width="1.3"/>
<text x="383.5" y="428.5" font-size="5.8" text-anchor="start" class="sans" textLength="21" lengthAdjust="spacingAndGlyphs">Measured</text>
<line x1="414.7" y1="426.5" x2="426.4" y2="426.5" stroke="#ff1a1a" stroke-width="1.3"/>
<text x="429.3" y="428.5" font-size="5.8" text-anchor="start" class="sans" textLength="22.5" lengthAdjust="spacingAndGlyphs">Prediction</text>
<line x1="461.9" y1="426.5" x2="472.8" y2="426.5" stroke="#238e23" stroke-width="1" stroke-dasharray="1.9,1.0"/>
<text x="476.8" y="428.5" font-size="5.8" text-anchor="start" class="sans" textLength="10.2" lengthAdjust="spacingAndGlyphs">Error</text>
<text x="427.5" y="450.2" font-size="11.6" text-anchor="middle" font-weight="bold" style="fill:#111">(d)</text>
</svg></body></html>
